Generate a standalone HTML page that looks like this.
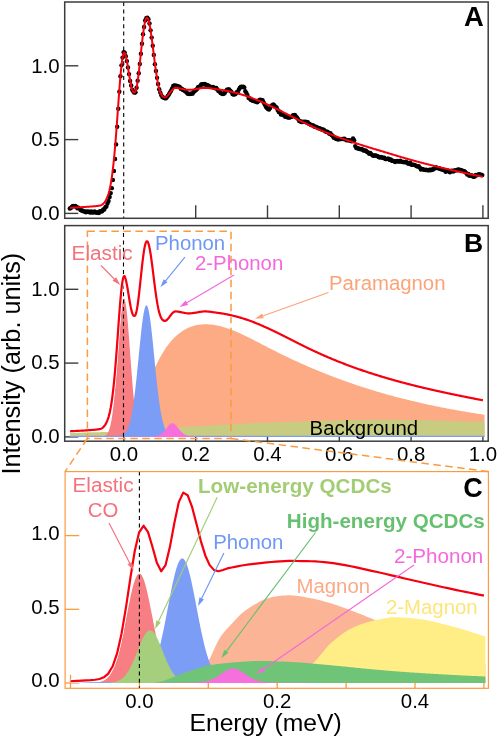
<!DOCTYPE html>
<html lang="en"><head><meta charset="utf-8"><title>Figure</title>
<style>html,body{margin:0;padding:0;background:#fff}body{width:498px;height:739px;overflow:hidden}svg{display:block}</style>
</head><body>
<svg width="498" height="739" viewBox="0 0 498 739" font-family="'Liberation Sans', sans-serif">
<rect width="498" height="739" fill="#fff"/>
<g id="panelA">
<line x1="195.7" y1="218.3" x2="195.7" y2="205.3" stroke="#3c3c3c" stroke-width="1.4"/><line x1="267.5" y1="218.3" x2="267.5" y2="205.3" stroke="#3c3c3c" stroke-width="1.4"/><line x1="339.3" y1="218.3" x2="339.3" y2="205.3" stroke="#3c3c3c" stroke-width="1.4"/><line x1="411.1" y1="218.3" x2="411.1" y2="205.3" stroke="#3c3c3c" stroke-width="1.4"/><line x1="482.9" y1="218.3" x2="482.9" y2="205.3" stroke="#3c3c3c" stroke-width="1.4"/><line x1="64.7" y1="213.4" x2="78.3" y2="213.4" stroke="#3c3c3c" stroke-width="1.4"/><line x1="64.7" y1="139.6" x2="78.3" y2="139.6" stroke="#3c3c3c" stroke-width="1.4"/><line x1="64.7" y1="65.8" x2="78.3" y2="65.8" stroke="#3c3c3c" stroke-width="1.4"/>
<line x1="123.7" y1="2" x2="123.7" y2="218.3" stroke="#000" stroke-width="1.1" stroke-dasharray="4 3.4"/>
<g fill="#000"><circle cx="69.8" cy="208.53" r="2.2"/><circle cx="70.88" cy="208.02" r="2.2"/><circle cx="71.95" cy="206.71" r="2.2"/><circle cx="73.03" cy="205.86" r="2.2"/><circle cx="74.11" cy="206.15" r="2.2"/><circle cx="75.18" cy="206.06" r="2.2"/><circle cx="76.26" cy="206.68" r="2.2"/><circle cx="77.34" cy="208.2" r="2.2"/><circle cx="78.41" cy="207.64" r="2.2"/><circle cx="79.49" cy="208.61" r="2.2"/><circle cx="80.57" cy="210" r="2.2"/><circle cx="81.65" cy="210.55" r="2.2"/><circle cx="82.72" cy="210.78" r="2.2"/><circle cx="83.8" cy="211.38" r="2.2"/><circle cx="84.88" cy="211.56" r="2.2"/><circle cx="85.95" cy="212.24" r="2.2"/><circle cx="87.03" cy="211.46" r="2.2"/><circle cx="88.11" cy="211.74" r="2.2"/><circle cx="89.18" cy="211.76" r="2.2"/><circle cx="90.26" cy="212.67" r="2.2"/><circle cx="91.34" cy="211.4" r="2.2"/><circle cx="92.42" cy="212.2" r="2.2"/><circle cx="93.49" cy="212.54" r="2.2"/><circle cx="94.57" cy="211.51" r="2.2"/><circle cx="95.65" cy="212.37" r="2.2"/><circle cx="96.72" cy="212.87" r="2.2"/><circle cx="97.8" cy="212.27" r="2.2"/><circle cx="98.88" cy="212.94" r="2.2"/><circle cx="99.95" cy="211.26" r="2.2"/><circle cx="101.03" cy="211.61" r="2.2"/><circle cx="102.11" cy="211.19" r="2.2"/><circle cx="103.19" cy="209.52" r="2.2"/><circle cx="104.26" cy="209.59" r="2.2"/><circle cx="105.34" cy="207.17" r="2.2"/><circle cx="106.42" cy="206.49" r="2.2"/><circle cx="107.49" cy="203.53" r="2.2"/><circle cx="108.57" cy="201" r="2.2"/><circle cx="109.65" cy="197.03" r="2.2"/><circle cx="110.72" cy="193.08" r="2.2"/><circle cx="111.8" cy="188.17" r="2.2"/><circle cx="112.88" cy="179.99" r="2.2"/><circle cx="113.96" cy="170.93" r="2.2"/><circle cx="115.03" cy="159.02" r="2.2"/><circle cx="116.11" cy="144.38" r="2.2"/><circle cx="117.19" cy="126.77" r="2.2"/><circle cx="118.26" cy="108.77" r="2.2"/><circle cx="119.34" cy="91.69" r="2.2"/><circle cx="120.42" cy="76.31" r="2.2"/><circle cx="121.49" cy="65.34" r="2.2"/><circle cx="122.57" cy="57.58" r="2.2"/><circle cx="123.65" cy="52.27" r="2.2"/><circle cx="124.73" cy="52.77" r="2.2"/><circle cx="125.8" cy="56.13" r="2.2"/><circle cx="126.88" cy="61.09" r="2.2"/><circle cx="127.96" cy="67.41" r="2.2"/><circle cx="129.03" cy="74.12" r="2.2"/><circle cx="130.11" cy="80.99" r="2.2"/><circle cx="131.19" cy="85.56" r="2.2"/><circle cx="132.26" cy="89.79" r="2.2"/><circle cx="133.34" cy="91.45" r="2.2"/><circle cx="134.42" cy="92.63" r="2.2"/><circle cx="135.5" cy="92.19" r="2.2"/><circle cx="136.57" cy="87.68" r="2.2"/><circle cx="137.65" cy="80.64" r="2.2"/><circle cx="138.73" cy="73.31" r="2.2"/><circle cx="139.8" cy="63.91" r="2.2"/><circle cx="140.88" cy="53.82" r="2.2"/><circle cx="141.96" cy="43.7" r="2.2"/><circle cx="143.03" cy="34.23" r="2.2"/><circle cx="144.11" cy="27.07" r="2.2"/><circle cx="145.19" cy="20.45" r="2.2"/><circle cx="146.27" cy="18.3" r="2.2"/><circle cx="147.34" cy="17.81" r="2.2"/><circle cx="148.42" cy="19.28" r="2.2"/><circle cx="149.5" cy="23.5" r="2.2"/><circle cx="150.57" cy="30.36" r="2.2"/><circle cx="151.65" cy="37.61" r="2.2"/><circle cx="152.73" cy="45.8" r="2.2"/><circle cx="153.8" cy="54.91" r="2.2"/><circle cx="154.88" cy="64.13" r="2.2"/><circle cx="155.96" cy="70.97" r="2.2"/><circle cx="157.04" cy="77.86" r="2.2"/><circle cx="158.11" cy="83.94" r="2.2"/><circle cx="159.19" cy="89.2" r="2.2"/><circle cx="160.27" cy="92.4" r="2.2"/><circle cx="161.34" cy="95.26" r="2.2"/><circle cx="162.42" cy="97.05" r="2.2"/><circle cx="163.5" cy="97.58" r="2.2"/><circle cx="164.57" cy="98.1" r="2.2"/><circle cx="165.65" cy="98.42" r="2.2"/><circle cx="166.73" cy="97.57" r="2.2"/><circle cx="167.81" cy="96.02" r="2.2"/><circle cx="168.88" cy="94.46" r="2.2"/><circle cx="169.96" cy="92.46" r="2.2"/><circle cx="171.04" cy="90.7" r="2.2"/><circle cx="172.11" cy="88.57" r="2.2"/><circle cx="173.19" cy="86.01" r="2.2"/><circle cx="174.27" cy="85.55" r="2.2"/><circle cx="175.34" cy="85.6" r="2.2"/><circle cx="176.42" cy="85.75" r="2.2"/><circle cx="177.5" cy="86.3" r="2.2"/><circle cx="178.58" cy="86.34" r="2.2"/><circle cx="179.65" cy="87.07" r="2.2"/><circle cx="180.73" cy="88.7" r="2.2"/><circle cx="181.81" cy="88.69" r="2.2"/><circle cx="182.88" cy="89.97" r="2.2"/><circle cx="183.96" cy="89.87" r="2.2"/><circle cx="185.04" cy="91.31" r="2.2"/><circle cx="186.11" cy="91.52" r="2.2"/><circle cx="187.19" cy="93.31" r="2.2"/><circle cx="188.27" cy="93.88" r="2.2"/><circle cx="189.35" cy="94.01" r="2.2"/><circle cx="190.42" cy="93.76" r="2.2"/><circle cx="191.5" cy="93.62" r="2.2"/><circle cx="192.58" cy="93.67" r="2.2"/><circle cx="193.65" cy="92.04" r="2.2"/><circle cx="194.73" cy="90.98" r="2.2"/><circle cx="195.81" cy="90.07" r="2.2"/><circle cx="196.88" cy="89.18" r="2.2"/><circle cx="197.96" cy="87.1" r="2.2"/><circle cx="199.04" cy="86.95" r="2.2"/><circle cx="200.12" cy="86.1" r="2.2"/><circle cx="201.19" cy="84.57" r="2.2"/><circle cx="202.27" cy="84.24" r="2.2"/><circle cx="203.35" cy="84.19" r="2.2"/><circle cx="204.42" cy="83.96" r="2.2"/><circle cx="205.5" cy="84.43" r="2.2"/><circle cx="206.58" cy="84.94" r="2.2"/><circle cx="207.65" cy="85.19" r="2.2"/><circle cx="208.73" cy="85.96" r="2.2"/><circle cx="209.81" cy="86.72" r="2.2"/><circle cx="210.89" cy="86.83" r="2.2"/><circle cx="211.96" cy="87.1" r="2.2"/><circle cx="213.04" cy="86.97" r="2.2"/><circle cx="214.12" cy="87.74" r="2.2"/><circle cx="215.19" cy="88.3" r="2.2"/><circle cx="216.27" cy="87.9" r="2.2"/><circle cx="217.35" cy="89.51" r="2.2"/><circle cx="218.42" cy="91.07" r="2.2"/><circle cx="219.5" cy="91.41" r="2.2"/><circle cx="220.58" cy="93.12" r="2.2"/><circle cx="221.66" cy="93.42" r="2.2"/><circle cx="222.73" cy="94.08" r="2.2"/><circle cx="223.81" cy="93.75" r="2.2"/><circle cx="224.89" cy="92.69" r="2.2"/><circle cx="225.96" cy="91.07" r="2.2"/><circle cx="227.04" cy="89.82" r="2.2"/><circle cx="228.12" cy="89.41" r="2.2"/><circle cx="229.19" cy="89.34" r="2.2"/><circle cx="230.27" cy="90.91" r="2.2"/><circle cx="231.35" cy="91.71" r="2.2"/><circle cx="232.43" cy="94.03" r="2.2"/><circle cx="233.5" cy="94.46" r="2.2"/><circle cx="234.58" cy="94.4" r="2.2"/><circle cx="235.66" cy="93.7" r="2.2"/><circle cx="236.73" cy="92.27" r="2.2"/><circle cx="237.81" cy="92.2" r="2.2"/><circle cx="238.89" cy="89.52" r="2.2"/><circle cx="239.96" cy="87.78" r="2.2"/><circle cx="241.04" cy="86.7" r="2.2"/><circle cx="242.12" cy="86.98" r="2.2"/><circle cx="243.2" cy="86.69" r="2.2"/><circle cx="244.27" cy="87.48" r="2.2"/><circle cx="245.35" cy="91.18" r="2.2"/><circle cx="246.43" cy="92.88" r="2.2"/><circle cx="247.5" cy="95.1" r="2.2"/><circle cx="248.58" cy="97.91" r="2.2"/><circle cx="249.66" cy="98.43" r="2.2"/><circle cx="250.73" cy="99.77" r="2.2"/><circle cx="251.81" cy="100.23" r="2.2"/><circle cx="252.89" cy="100.79" r="2.2"/><circle cx="253.97" cy="100.86" r="2.2"/><circle cx="255.04" cy="101.47" r="2.2"/><circle cx="256.12" cy="101.45" r="2.2"/><circle cx="257.2" cy="102.25" r="2.2"/><circle cx="258.27" cy="101.3" r="2.2"/><circle cx="259.35" cy="100.04" r="2.2"/><circle cx="260.43" cy="99.59" r="2.2"/><circle cx="261.5" cy="100.31" r="2.2"/><circle cx="262.58" cy="100.25" r="2.2"/><circle cx="263.66" cy="102.56" r="2.2"/><circle cx="264.74" cy="104.46" r="2.2"/><circle cx="265.81" cy="106.74" r="2.2"/><circle cx="266.89" cy="107.99" r="2.2"/><circle cx="267.97" cy="109.07" r="2.2"/><circle cx="269.04" cy="109.45" r="2.2"/><circle cx="270.12" cy="108.1" r="2.2"/><circle cx="271.2" cy="105.87" r="2.2"/><circle cx="272.27" cy="105.28" r="2.2"/><circle cx="273.35" cy="104.36" r="2.2"/><circle cx="274.43" cy="105.38" r="2.2"/><circle cx="275.51" cy="106.94" r="2.2"/><circle cx="276.58" cy="107.54" r="2.2"/><circle cx="277.66" cy="109.94" r="2.2"/><circle cx="278.74" cy="112.07" r="2.2"/><circle cx="279.81" cy="111.7" r="2.2"/><circle cx="280.89" cy="114.62" r="2.2"/><circle cx="281.97" cy="114.24" r="2.2"/><circle cx="283.04" cy="114.62" r="2.2"/><circle cx="284.12" cy="115.44" r="2.2"/><circle cx="285.2" cy="116.68" r="2.2"/><circle cx="286.28" cy="115.88" r="2.2"/><circle cx="287.35" cy="117.33" r="2.2"/><circle cx="288.43" cy="117.61" r="2.2"/><circle cx="289.51" cy="117.46" r="2.2"/><circle cx="290.58" cy="117.11" r="2.2"/><circle cx="291.66" cy="116.71" r="2.2"/><circle cx="292.74" cy="115.46" r="2.2"/><circle cx="293.81" cy="115.16" r="2.2"/><circle cx="294.89" cy="114.94" r="2.2"/><circle cx="295.97" cy="116.35" r="2.2"/><circle cx="297.05" cy="117.66" r="2.2"/><circle cx="298.12" cy="119.1" r="2.2"/><circle cx="299.2" cy="120.98" r="2.2"/><circle cx="300.28" cy="121.31" r="2.2"/><circle cx="301.35" cy="122" r="2.2"/><circle cx="302.43" cy="122.02" r="2.2"/><circle cx="303.51" cy="121.7" r="2.2"/><circle cx="304.58" cy="121.84" r="2.2"/><circle cx="305.66" cy="121.77" r="2.2"/><circle cx="306.74" cy="122.47" r="2.2"/><circle cx="307.82" cy="122.3" r="2.2"/><circle cx="308.89" cy="123.69" r="2.2"/><circle cx="309.97" cy="124.21" r="2.2"/><circle cx="311.05" cy="125.09" r="2.2"/><circle cx="312.12" cy="125.13" r="2.2"/><circle cx="313.2" cy="125.34" r="2.2"/><circle cx="314.28" cy="126.48" r="2.2"/><circle cx="315.35" cy="126.67" r="2.2"/><circle cx="316.43" cy="126.83" r="2.2"/><circle cx="317.51" cy="127.7" r="2.2"/><circle cx="318.59" cy="128.36" r="2.2"/><circle cx="319.66" cy="128.19" r="2.2"/><circle cx="320.74" cy="129.06" r="2.2"/><circle cx="321.82" cy="129.41" r="2.2"/><circle cx="322.89" cy="129.54" r="2.2"/><circle cx="323.97" cy="130.02" r="2.2"/><circle cx="325.05" cy="131.16" r="2.2"/><circle cx="326.12" cy="131.7" r="2.2"/><circle cx="327.2" cy="131.81" r="2.2"/><circle cx="328.28" cy="132.45" r="2.2"/><circle cx="329.36" cy="133.81" r="2.2"/><circle cx="330.43" cy="133.3" r="2.2"/><circle cx="331.51" cy="134.95" r="2.2"/><circle cx="332.59" cy="135.77" r="2.2"/><circle cx="333.66" cy="137.67" r="2.2"/><circle cx="334.74" cy="137.41" r="2.2"/><circle cx="335.82" cy="138.73" r="2.2"/><circle cx="336.89" cy="138.81" r="2.2"/><circle cx="337.97" cy="139.56" r="2.2"/><circle cx="339.05" cy="139.09" r="2.2"/><circle cx="340.13" cy="139.14" r="2.2"/><circle cx="341.2" cy="139.12" r="2.2"/><circle cx="342.28" cy="138.85" r="2.2"/><circle cx="343.36" cy="139.06" r="2.2"/><circle cx="344.43" cy="138.76" r="2.2"/><circle cx="345.51" cy="139.61" r="2.2"/><circle cx="346.59" cy="140.19" r="2.2"/><circle cx="347.66" cy="140.17" r="2.2"/><circle cx="348.74" cy="140.28" r="2.2"/><circle cx="349.82" cy="140.41" r="2.2"/><circle cx="350.9" cy="141" r="2.2"/><circle cx="351.97" cy="141.32" r="2.2"/><circle cx="353.05" cy="138.43" r="2.2"/><circle cx="354.13" cy="140.25" r="2.2"/><circle cx="355.2" cy="146.12" r="2.2"/><circle cx="356.28" cy="147.96" r="2.2"/><circle cx="357.36" cy="147.98" r="2.2"/><circle cx="358.43" cy="148.72" r="2.2"/><circle cx="359.51" cy="148.59" r="2.2"/><circle cx="360.59" cy="149.25" r="2.2"/><circle cx="361.67" cy="149" r="2.2"/><circle cx="362.74" cy="149.76" r="2.2"/><circle cx="363.82" cy="150.67" r="2.2"/><circle cx="364.9" cy="150.45" r="2.2"/><circle cx="365.97" cy="150.74" r="2.2"/><circle cx="367.05" cy="151.9" r="2.2"/><circle cx="368.13" cy="152.38" r="2.2"/><circle cx="369.2" cy="153.77" r="2.2"/><circle cx="370.28" cy="152.92" r="2.2"/><circle cx="371.36" cy="154.14" r="2.2"/><circle cx="372.44" cy="155.36" r="2.2"/><circle cx="373.51" cy="155.69" r="2.2"/><circle cx="374.59" cy="155.43" r="2.2"/><circle cx="375.67" cy="155.35" r="2.2"/><circle cx="376.74" cy="156.06" r="2.2"/><circle cx="377.82" cy="156.15" r="2.2"/><circle cx="378.9" cy="157.17" r="2.2"/><circle cx="379.97" cy="157.61" r="2.2"/><circle cx="381.05" cy="156.95" r="2.2"/><circle cx="382.13" cy="157.45" r="2.2"/><circle cx="383.21" cy="158.01" r="2.2"/><circle cx="384.28" cy="157.75" r="2.2"/><circle cx="385.36" cy="159.05" r="2.2"/><circle cx="386.44" cy="159.14" r="2.2"/><circle cx="387.51" cy="158.81" r="2.2"/><circle cx="388.59" cy="158.76" r="2.2"/><circle cx="389.67" cy="159.88" r="2.2"/><circle cx="390.74" cy="159.45" r="2.2"/><circle cx="391.82" cy="160.77" r="2.2"/><circle cx="392.9" cy="160.66" r="2.2"/><circle cx="393.98" cy="161.16" r="2.2"/><circle cx="395.05" cy="161.96" r="2.2"/><circle cx="396.13" cy="161.27" r="2.2"/><circle cx="397.21" cy="161.05" r="2.2"/><circle cx="398.28" cy="161.61" r="2.2"/><circle cx="399.36" cy="161.54" r="2.2"/><circle cx="400.44" cy="160.77" r="2.2"/><circle cx="401.51" cy="161.83" r="2.2"/><circle cx="402.59" cy="161.96" r="2.2"/><circle cx="403.67" cy="161.83" r="2.2"/><circle cx="404.75" cy="162.41" r="2.2"/><circle cx="405.82" cy="161.66" r="2.2"/><circle cx="406.9" cy="162.52" r="2.2"/><circle cx="407.98" cy="163.46" r="2.2"/><circle cx="409.05" cy="163.76" r="2.2"/><circle cx="410.13" cy="162.61" r="2.2"/><circle cx="411.21" cy="164.5" r="2.2"/><circle cx="412.28" cy="164.89" r="2.2"/><circle cx="413.36" cy="164.72" r="2.2"/><circle cx="414.44" cy="164.87" r="2.2"/><circle cx="415.52" cy="165.35" r="2.2"/><circle cx="416.59" cy="166.16" r="2.2"/><circle cx="417.67" cy="166.59" r="2.2"/><circle cx="418.75" cy="166.26" r="2.2"/><circle cx="419.82" cy="167.59" r="2.2"/><circle cx="420.9" cy="169.47" r="2.2"/><circle cx="421.98" cy="168.86" r="2.2"/><circle cx="423.05" cy="169.25" r="2.2"/><circle cx="424.13" cy="169.84" r="2.2"/><circle cx="425.21" cy="169.93" r="2.2"/><circle cx="426.29" cy="169.75" r="2.2"/><circle cx="427.36" cy="170.15" r="2.2"/><circle cx="428.44" cy="170.41" r="2.2"/><circle cx="429.52" cy="169.61" r="2.2"/><circle cx="430.59" cy="170.33" r="2.2"/><circle cx="431.67" cy="169.39" r="2.2"/><circle cx="432.75" cy="169.86" r="2.2"/><circle cx="433.82" cy="168.82" r="2.2"/><circle cx="434.9" cy="168.36" r="2.2"/><circle cx="435.98" cy="167.1" r="2.2"/><circle cx="437.06" cy="168.11" r="2.2"/><circle cx="438.13" cy="168.27" r="2.2"/><circle cx="439.21" cy="168.22" r="2.2"/><circle cx="440.29" cy="168.93" r="2.2"/><circle cx="441.36" cy="169.31" r="2.2"/><circle cx="442.44" cy="169.54" r="2.2"/><circle cx="443.52" cy="170.06" r="2.2"/><circle cx="444.59" cy="170.26" r="2.2"/><circle cx="445.67" cy="171.78" r="2.2"/><circle cx="446.75" cy="170.52" r="2.2"/><circle cx="447.83" cy="170.81" r="2.2"/><circle cx="448.9" cy="171.6" r="2.2"/><circle cx="449.98" cy="172.25" r="2.2"/><circle cx="451.06" cy="170.98" r="2.2"/><circle cx="452.13" cy="170.69" r="2.2"/><circle cx="453.21" cy="171.61" r="2.2"/><circle cx="454.29" cy="170.39" r="2.2"/><circle cx="455.36" cy="170.33" r="2.2"/><circle cx="456.44" cy="170.42" r="2.2"/><circle cx="457.52" cy="169.66" r="2.2"/><circle cx="458.6" cy="169.4" r="2.2"/><circle cx="459.67" cy="170.06" r="2.2"/><circle cx="460.75" cy="169.83" r="2.2"/><circle cx="461.83" cy="170.44" r="2.2"/><circle cx="462.9" cy="170.92" r="2.2"/><circle cx="463.98" cy="171.12" r="2.2"/><circle cx="465.06" cy="171.64" r="2.2"/><circle cx="466.13" cy="172.9" r="2.2"/><circle cx="467.21" cy="174.44" r="2.2"/><circle cx="468.29" cy="173.99" r="2.2"/><circle cx="469.37" cy="175.68" r="2.2"/><circle cx="470.44" cy="175.52" r="2.2"/><circle cx="471.52" cy="175.23" r="2.2"/><circle cx="472.6" cy="176.25" r="2.2"/><circle cx="473.67" cy="176.71" r="2.2"/><circle cx="474.75" cy="176.58" r="2.2"/><circle cx="475.83" cy="175.05" r="2.2"/><circle cx="476.9" cy="175.18" r="2.2"/><circle cx="477.98" cy="174.6" r="2.2"/><circle cx="479.06" cy="174.24" r="2.2"/><circle cx="480.14" cy="174.64" r="2.2"/><circle cx="481.21" cy="174.76" r="2.2"/><circle cx="482.29" cy="175.1" r="2.2"/></g>
<path d="M70.05 207.79 L70.74 207.75 L71.43 207.71 L72.12 207.67 L72.81 207.63 L73.5 207.6 L74.19 207.56 L74.87 207.52 L75.56 207.49 L76.25 207.45 L76.94 207.42 L77.63 207.38 L78.32 207.34 L79.01 207.31 L79.7 207.27 L80.39 207.23 L81.08 207.2 L81.77 207.16 L82.46 207.12 L83.15 207.08 L83.83 207.04 L84.52 207 L85.21 206.95 L85.9 206.91 L86.59 206.86 L87.28 206.81 L87.97 206.76 L88.66 206.71 L89.35 206.66 L90.04 206.61 L90.73 206.56 L91.42 206.51 L92.11 206.46 L92.79 206.41 L93.48 206.35 L94.17 206.29 L94.86 206.23 L95.55 206.16 L96.24 206.09 L96.93 206 L97.62 205.91 L98.31 205.81 L99 205.7 L99.69 205.58 L100.38 205.43 L101.07 205.22 L101.75 204.88 L102.44 204.42 L103.13 203.84 L103.82 203.14 L104.51 202.31 L105.2 201.32 L105.89 200.17 L106.58 198.82 L107.27 197.24 L107.96 195.39 L108.65 193.21 L109.34 190.65 L110.03 187.64 L110.71 184.13 L111.4 180.05 L112.09 175.34 L112.78 169.96 L113.47 163.88 L114.16 157.1 L114.85 149.59 L115.54 141.41 L116.23 132.62 L116.92 123.37 L117.61 113.82 L118.3 104.17 L118.99 94.67 L119.67 85.56 L120.36 77.1 L121.05 69.57 L121.74 63.2 L122.43 58.19 L123.12 54.69 L123.81 52.82 L124.5 52.6 L125.19 53.98 L125.88 56.48 L126.57 59.6 L127.26 63.26 L127.95 67.28 L128.63 71.51 L129.32 75.75 L130.01 79.8 L130.7 83.49 L131.39 86.66 L132.08 89.19 L132.77 91.02 L133.46 92.11 L134.15 92.49 L134.84 92.24 L135.53 91.28 L136.22 89.17 L136.91 85.96 L137.59 81.77 L138.28 76.74 L138.97 71.03 L139.66 64.83 L140.35 58.35 L141.04 51.77 L141.73 45.31 L142.42 39.17 L143.11 33.52 L143.8 28.55 L144.49 24.39 L145.18 21.17 L145.87 18.96 L146.55 17.84 L147.24 17.78 L147.93 18.7 L148.62 20.56 L149.31 23.29 L150 26.82 L150.69 31.02 L151.38 35.77 L152.07 40.94 L152.76 46.37 L153.45 51.93 L154.14 57.49 L154.83 62.91 L155.51 68.09 L156.2 72.94 L156.89 77.39 L157.58 81.38 L158.27 84.89 L158.96 87.9 L159.65 90.42 L160.34 92.48 L161.03 94.09 L161.72 95.32 L162.41 96.2 L163.1 96.79 L163.79 97.15 L164.47 97.34 L165.16 97.38 L165.85 97.17 L166.54 96.73 L167.23 96.1 L167.92 95.34 L168.61 94.49 L169.3 93.58 L169.99 92.65 L170.68 91.74 L171.37 90.87 L172.06 90.08 L172.75 89.37 L173.43 88.78 L174.12 88.34 L174.81 88.05 L175.5 87.94 L176.19 87.96 L176.88 88.01 L177.57 88.08 L178.26 88.18 L178.95 88.29 L179.64 88.41 L180.33 88.55 L181.02 88.69 L181.71 88.84 L182.39 88.99 L183.08 89.14 L183.77 89.28 L184.46 89.42 L185.15 89.54 L185.84 89.65 L186.53 89.74 L187.22 89.81 L187.91 89.85 L188.6 89.86 L189.29 89.85 L189.98 89.82 L190.67 89.78 L191.35 89.73 L192.04 89.66 L192.73 89.59 L193.42 89.5 L194.11 89.41 L194.8 89.31 L195.49 89.2 L196.18 89.09 L196.87 88.96 L197.56 88.83 L198.25 88.7 L198.94 88.57 L199.63 88.45 L200.31 88.33 L201 88.22 L201.69 88.13 L202.38 88.05 L203.07 87.99 L203.76 87.94 L204.45 87.92 L205.14 87.91 L205.83 87.92 L206.52 87.94 L207.21 87.98 L207.9 88.04 L208.59 88.11 L209.27 88.18 L209.96 88.26 L210.65 88.35 L211.34 88.44 L212.03 88.54 L212.72 88.63 L213.41 88.73 L214.1 88.83 L214.79 88.93 L215.48 89.03 L216.17 89.12 L216.86 89.22 L217.55 89.31 L218.23 89.4 L218.92 89.5 L219.61 89.6 L220.3 89.71 L220.99 89.81 L221.68 89.92 L222.37 90.04 L223.06 90.15 L223.75 90.27 L224.44 90.4 L225.13 90.52 L225.82 90.65 L226.51 90.78 L227.19 90.92 L227.88 91.06 L228.57 91.2 L229.26 91.35 L229.95 91.5 L230.64 91.65 L231.33 91.8 L232.02 91.96 L232.71 92.12 L233.4 92.29 L234.09 92.46 L234.78 92.63 L235.47 92.81 L236.15 92.99 L236.84 93.17 L237.53 93.35 L238.22 93.54 L238.91 93.74 L239.6 93.93 L240.29 94.13 L240.98 94.34 L241.67 94.54 L242.36 94.75 L243.05 94.97 L243.74 95.18 L244.43 95.4 L245.11 95.63 L245.8 95.86 L246.49 96.09 L247.18 96.32 L247.87 96.56 L248.56 96.8 L249.25 97.05 L249.94 97.3 L250.63 97.55 L251.32 97.8 L252.01 98.06 L252.7 98.32 L253.39 98.59 L254.07 98.86 L254.76 99.13 L255.45 99.4 L256.14 99.68 L256.83 99.96 L257.52 100.24 L258.21 100.52 L258.9 100.81 L259.59 101.1 L260.28 101.39 L260.97 101.69 L261.66 101.98 L262.35 102.28 L263.03 102.58 L263.72 102.89 L264.41 103.19 L265.1 103.5 L265.79 103.81 L266.48 104.13 L267.17 104.44 L267.86 104.76 L268.55 105.08 L269.24 105.4 L269.93 105.72 L270.62 106.04 L271.31 106.37 L271.99 106.69 L272.68 107.02 L273.37 107.35 L274.06 107.68 L274.75 108.02 L275.44 108.35 L276.13 108.69 L276.82 109.02 L277.51 109.36 L278.2 109.7 L278.89 110.04 L279.58 110.38 L280.27 110.72 L280.96 111.07 L281.64 111.41 L282.33 111.75 L283.02 112.1 L283.71 112.45 L284.4 112.79 L285.09 113.14 L285.78 113.49 L286.47 113.83 L287.16 114.18 L287.85 114.53 L288.54 114.88 L289.23 115.23 L289.92 115.58 L290.6 115.93 L291.29 116.28 L291.98 116.63 L292.67 116.98 L293.36 117.33 L294.05 117.68 L294.74 118.03 L295.43 118.38 L296.12 118.73 L296.81 119.07 L297.5 119.42 L298.19 119.77 L298.88 120.12 L299.56 120.46 L300.25 120.81 L300.94 121.15 L301.63 121.5 L302.32 121.84 L303.01 122.19 L303.7 122.53 L304.39 122.87 L305.08 123.2 L305.77 123.54 L306.46 123.87 L307.15 124.21 L307.84 124.54 L308.52 124.86 L309.21 125.19 L309.9 125.51 L310.59 125.83 L311.28 126.15 L311.97 126.47 L312.66 126.78 L313.35 127.09 L314.04 127.4 L314.73 127.71 L315.42 128.02 L316.11 128.32 L316.8 128.62 L317.48 128.92 L318.17 129.22 L318.86 129.52 L319.55 129.82 L320.24 130.11 L320.93 130.4 L321.62 130.69 L322.31 130.98 L323 131.27 L323.69 131.56 L324.38 131.84 L325.07 132.13 L325.76 132.41 L326.44 132.69 L327.13 132.97 L327.82 133.25 L328.51 133.53 L329.2 133.8 L329.89 134.08 L330.58 134.35 L331.27 134.62 L331.96 134.88 L332.65 135.15 L333.34 135.41 L334.03 135.67 L334.72 135.93 L335.4 136.18 L336.09 136.44 L336.78 136.69 L337.47 136.94 L338.16 137.19 L338.85 137.43 L339.54 137.68 L340.23 137.92 L340.92 138.17 L341.61 138.41 L342.3 138.65 L342.99 138.88 L343.68 139.12 L344.36 139.36 L345.05 139.59 L345.74 139.83 L346.43 140.06 L347.12 140.29 L347.81 140.52 L348.5 140.76 L349.19 140.99 L349.88 141.21 L350.57 141.44 L351.26 141.67 L351.95 141.9 L352.64 142.13 L353.32 142.36 L354.01 142.58 L354.7 142.81 L355.39 143.04 L356.08 143.26 L356.77 143.49 L357.46 143.72 L358.15 143.94 L358.84 144.17 L359.53 144.39 L360.22 144.62 L360.91 144.84 L361.6 145.06 L362.28 145.28 L362.97 145.49 L363.66 145.71 L364.35 145.93 L365.04 146.14 L365.73 146.36 L366.42 146.57 L367.11 146.78 L367.8 147 L368.49 147.21 L369.18 147.42 L369.87 147.63 L370.56 147.84 L371.24 148.05 L371.93 148.26 L372.62 148.47 L373.31 148.68 L374 148.88 L374.69 149.09 L375.38 149.3 L376.07 149.51 L376.76 149.71 L377.45 149.92 L378.14 150.13 L378.83 150.33 L379.52 150.54 L380.2 150.75 L380.89 150.95 L381.58 151.16 L382.27 151.37 L382.96 151.57 L383.65 151.78 L384.34 151.99 L385.03 152.2 L385.72 152.4 L386.41 152.61 L387.1 152.82 L387.79 153.03 L388.48 153.24 L389.16 153.44 L389.85 153.65 L390.54 153.86 L391.23 154.07 L391.92 154.28 L392.61 154.48 L393.3 154.69 L393.99 154.9 L394.68 155.1 L395.37 155.31 L396.06 155.52 L396.75 155.72 L397.44 155.93 L398.12 156.13 L398.81 156.34 L399.5 156.54 L400.19 156.75 L400.88 156.95 L401.57 157.15 L402.26 157.35 L402.95 157.56 L403.64 157.76 L404.33 157.96 L405.02 158.16 L405.71 158.36 L406.4 158.56 L407.08 158.75 L407.77 158.95 L408.46 159.15 L409.15 159.34 L409.84 159.54 L410.53 159.73 L411.22 159.92 L411.91 160.12 L412.6 160.31 L413.29 160.5 L413.98 160.69 L414.67 160.88 L415.36 161.06 L416.04 161.25 L416.73 161.43 L417.42 161.62 L418.11 161.8 L418.8 161.98 L419.49 162.17 L420.18 162.35 L420.87 162.53 L421.56 162.71 L422.25 162.89 L422.94 163.06 L423.63 163.24 L424.32 163.42 L425 163.6 L425.69 163.77 L426.38 163.95 L427.07 164.13 L427.76 164.3 L428.45 164.48 L429.14 164.65 L429.83 164.82 L430.52 165 L431.21 165.17 L431.9 165.34 L432.59 165.51 L433.28 165.68 L433.96 165.85 L434.65 166.02 L435.34 166.19 L436.03 166.36 L436.72 166.53 L437.41 166.69 L438.1 166.86 L438.79 167.03 L439.48 167.19 L440.17 167.36 L440.86 167.52 L441.55 167.69 L442.24 167.85 L442.92 168.01 L443.61 168.18 L444.3 168.34 L444.99 168.5 L445.68 168.66 L446.37 168.82 L447.06 168.98 L447.75 169.14 L448.44 169.3 L449.13 169.46 L449.82 169.62 L450.51 169.78 L451.2 169.94 L451.88 170.1 L452.57 170.25 L453.26 170.41 L453.95 170.57 L454.64 170.73 L455.33 170.89 L456.02 171.05 L456.71 171.2 L457.4 171.36 L458.09 171.52 L458.78 171.67 L459.47 171.83 L460.16 171.98 L460.84 172.14 L461.53 172.29 L462.22 172.45 L462.91 172.6 L463.6 172.76 L464.29 172.91 L464.98 173.06 L465.67 173.21 L466.36 173.37 L467.05 173.52 L467.74 173.67 L468.43 173.82 L469.12 173.97 L469.8 174.12 L470.49 174.26 L471.18 174.41 L471.87 174.56 L472.56 174.71 L473.25 174.85 L473.94 175 L474.63 175.14 L475.32 175.28 L476.01 175.43 L476.7 175.57 L477.39 175.71 L478.08 175.85 L478.76 175.99 L479.45 176.13 L480.14 176.27 L480.83 176.4 L481.52 176.54 L482.21 176.67 L482.9 176.81" fill="none" stroke="#f5000f" stroke-width="2.0" stroke-linejoin="round"/>
<rect x="64.7" y="2" width="423.5" height="216.3" fill="none" stroke="#3c3c3c" stroke-width="1.5"/>
<text x="59.6" y="220.1" font-size="20.4" text-anchor="end" fill="#000">0.0</text><text x="59.6" y="146.3" font-size="20.4" text-anchor="end" fill="#000">0.5</text><text x="59.6" y="72.5" font-size="20.4" text-anchor="end" fill="#000">1.0</text>
<text x="464" y="25.7" font-size="27.4" fill="#000" text-anchor="start" font-weight="bold">A</text>
</g>
<g id="panelB">
<line x1="123.9" y1="441.2" x2="123.9" y2="428.2" stroke="#3c3c3c" stroke-width="1.4"/><line x1="195.7" y1="441.2" x2="195.7" y2="428.2" stroke="#3c3c3c" stroke-width="1.4"/><line x1="267.5" y1="441.2" x2="267.5" y2="428.2" stroke="#3c3c3c" stroke-width="1.4"/><line x1="339.3" y1="441.2" x2="339.3" y2="428.2" stroke="#3c3c3c" stroke-width="1.4"/><line x1="411.1" y1="441.2" x2="411.1" y2="428.2" stroke="#3c3c3c" stroke-width="1.4"/><line x1="482.9" y1="441.2" x2="482.9" y2="428.2" stroke="#3c3c3c" stroke-width="1.4"/><line x1="64.7" y1="436.9" x2="78.3" y2="436.9" stroke="#3c3c3c" stroke-width="1.4"/><line x1="64.7" y1="363.1" x2="78.3" y2="363.1" stroke="#3c3c3c" stroke-width="1.4"/><line x1="64.7" y1="289.3" x2="78.3" y2="289.3" stroke="#3c3c3c" stroke-width="1.4"/>
<path d="M70.05 436.9 L70.05 436.23 L71.09 436.23 L72.13 436.23 L73.17 436.23 L74.21 436.23 L75.24 436.23 L76.28 436.23 L77.32 436.23 L78.36 436.23 L79.4 436.23 L80.44 436.23 L81.48 436.23 L82.52 436.23 L83.55 436.23 L84.59 436.23 L85.63 436.23 L86.67 436.23 L87.71 436.23 L88.75 436.23 L89.79 436.23 L90.83 436.23 L91.86 436.23 L92.9 436.23 L93.94 436.23 L94.98 436.23 L96.02 436.22 L97.06 436.16 L98.1 436.07 L99.14 435.94 L100.17 435.78 L101.21 435.59 L102.25 435.37 L103.29 435.12 L104.33 434.86 L105.37 434.57 L106.41 434.27 L107.45 433.95 L108.48 433.62 L109.52 433.28 L110.56 432.9 L111.6 432.42 L112.64 431.86 L113.68 431.21 L114.72 430.49 L115.76 429.69 L116.79 428.83 L117.83 427.91 L118.87 426.92 L119.91 425.88 L120.95 424.79 L121.99 423.66 L123.03 422.49 L124.07 421.27 L125.1 419.85 L126.14 418.16 L127.18 416.25 L128.22 414.17 L129.26 411.97 L130.3 409.69 L131.34 407.39 L132.38 405.1 L133.41 402.87 L134.45 400.76 L135.49 398.81 L136.53 396.91 L137.57 395.03 L138.61 393.17 L139.65 391.33 L140.69 389.51 L141.72 387.73 L142.76 385.97 L143.8 384.25 L144.84 382.57 L145.88 380.94 L146.92 379.4 L147.96 377.94 L149 376.52 L150.03 375.13 L151.07 373.72 L152.11 372.27 L153.15 370.74 L154.19 369.11 L155.23 367.21 L156.27 364.98 L157.31 362.83 L158.34 360.76 L159.38 358.77 L160.42 356.85 L161.46 355.01 L162.5 353.24 L163.54 351.54 L164.58 349.91 L165.62 348.35 L166.65 346.85 L167.69 345.42 L168.73 344.05 L169.77 342.74 L170.81 341.49 L171.85 340.3 L172.89 339.17 L173.93 338.09 L174.96 337.06 L176 336.08 L177.04 335.16 L178.08 334.28 L179.12 333.45 L180.16 332.66 L181.2 331.92 L182.24 331.21 L183.27 330.55 L184.31 329.93 L185.35 329.34 L186.39 328.79 L187.43 328.27 L188.47 327.79 L189.51 327.35 L190.55 326.93 L191.58 326.55 L192.62 326.2 L193.66 325.89 L194.7 325.6 L195.74 325.34 L196.78 325.12 L197.82 324.92 L198.86 324.75 L199.9 324.6 L200.93 324.48 L201.97 324.39 L203.01 324.32 L204.05 324.28 L205.09 324.26 L206.13 324.26 L207.17 324.29 L208.21 324.34 L209.24 324.4 L210.28 324.49 L211.32 324.6 L212.36 324.72 L213.4 324.86 L214.44 325.02 L215.48 325.2 L216.52 325.39 L217.55 325.6 L218.59 325.83 L219.63 326.07 L220.67 326.33 L221.71 326.6 L222.75 326.88 L223.79 327.18 L224.83 327.49 L225.86 327.82 L226.9 328.15 L227.94 328.5 L228.98 328.87 L230.02 329.24 L231.06 329.62 L232.1 330.02 L233.14 330.42 L234.17 330.84 L235.21 331.27 L236.25 331.7 L237.29 332.14 L238.33 332.6 L239.37 333.06 L240.41 333.52 L241.45 334 L242.48 334.48 L243.52 334.97 L244.56 335.46 L245.6 335.96 L246.64 336.47 L247.68 336.98 L248.72 337.49 L249.76 338.01 L250.79 338.54 L251.83 339.07 L252.87 339.6 L253.91 340.13 L254.95 340.66 L255.99 341.2 L257.03 341.74 L258.07 342.28 L259.1 342.82 L260.14 343.36 L261.18 343.9 L262.22 344.44 L263.26 344.98 L264.3 345.52 L265.34 346.06 L266.38 346.59 L267.41 347.13 L268.45 347.66 L269.49 348.19 L270.53 348.72 L271.57 349.25 L272.61 349.78 L273.65 350.3 L274.69 350.82 L275.72 351.34 L276.76 351.86 L277.8 352.38 L278.84 352.9 L279.88 353.41 L280.92 353.92 L281.96 354.43 L283 354.94 L284.03 355.44 L285.07 355.95 L286.11 356.45 L287.15 356.95 L288.19 357.44 L289.23 357.94 L290.27 358.43 L291.31 358.92 L292.34 359.41 L293.38 359.89 L294.42 360.38 L295.46 360.86 L296.5 361.34 L297.54 361.81 L298.58 362.29 L299.62 362.76 L300.65 363.22 L301.69 363.69 L302.73 364.15 L303.77 364.62 L304.81 365.08 L305.85 365.53 L306.89 365.99 L307.93 366.44 L308.96 366.89 L310 367.34 L311.04 367.78 L312.08 368.22 L313.12 368.66 L314.16 369.1 L315.2 369.54 L316.24 369.97 L317.28 370.4 L318.31 370.83 L319.35 371.25 L320.39 371.68 L321.43 372.1 L322.47 372.52 L323.51 372.94 L324.55 373.35 L325.59 373.76 L326.62 374.18 L327.66 374.58 L328.7 374.99 L329.74 375.39 L330.78 375.79 L331.82 376.19 L332.86 376.59 L333.9 376.99 L334.93 377.38 L335.97 377.77 L337.01 378.16 L338.05 378.54 L339.09 378.93 L340.13 379.31 L341.17 379.69 L342.21 380.07 L343.24 380.44 L344.28 380.82 L345.32 381.19 L346.36 381.56 L347.4 381.92 L348.44 382.29 L349.48 382.65 L350.52 383.01 L351.55 383.37 L352.59 383.73 L353.63 384.08 L354.67 384.44 L355.71 384.79 L356.75 385.13 L357.79 385.48 L358.83 385.83 L359.86 386.17 L360.9 386.51 L361.94 386.85 L362.98 387.18 L364.02 387.52 L365.06 387.85 L366.1 388.18 L367.14 388.51 L368.17 388.84 L369.21 389.16 L370.25 389.48 L371.29 389.8 L372.33 390.12 L373.37 390.44 L374.41 390.75 L375.45 391.07 L376.48 391.38 L377.52 391.69 L378.56 391.99 L379.6 392.3 L380.64 392.6 L381.68 392.91 L382.72 393.21 L383.76 393.5 L384.79 393.8 L385.83 394.09 L386.87 394.39 L387.91 394.68 L388.95 394.97 L389.99 395.25 L391.03 395.54 L392.07 395.82 L393.1 396.1 L394.14 396.38 L395.18 396.66 L396.22 396.94 L397.26 397.21 L398.3 397.49 L399.34 397.76 L400.38 398.03 L401.41 398.29 L402.45 398.56 L403.49 398.82 L404.53 399.09 L405.57 399.35 L406.61 399.61 L407.65 399.86 L408.69 400.12 L409.72 400.37 L410.76 400.62 L411.8 400.88 L412.84 401.12 L413.88 401.37 L414.92 401.62 L415.96 401.86 L417 402.1 L418.03 402.34 L419.07 402.58 L420.11 402.82 L421.15 403.06 L422.19 403.29 L423.23 403.52 L424.27 403.76 L425.31 403.99 L426.34 404.21 L427.38 404.44 L428.42 404.67 L429.46 404.89 L430.5 405.11 L431.54 405.33 L432.58 405.55 L433.62 405.77 L434.65 405.98 L435.69 406.2 L436.73 406.41 L437.77 406.62 L438.81 406.83 L439.85 407.04 L440.89 407.25 L441.93 407.45 L442.97 407.66 L444 407.86 L445.04 408.06 L446.08 408.26 L447.12 408.46 L448.16 408.66 L449.2 408.85 L450.24 409.05 L451.28 409.24 L452.31 409.43 L453.35 409.62 L454.39 409.81 L455.43 410 L456.47 410.18 L457.51 410.37 L458.55 410.55 L459.59 410.73 L460.62 410.91 L461.66 411.09 L462.7 411.27 L463.74 411.45 L464.78 411.62 L465.82 411.8 L466.86 411.97 L467.9 412.14 L468.93 412.31 L469.97 412.48 L471.01 412.65 L472.05 412.81 L473.09 412.98 L474.13 413.14 L475.17 413.31 L476.21 413.47 L477.24 413.63 L478.28 413.79 L479.32 413.94 L480.36 414.1 L481.4 414.26 L482.44 414.41 L483.48 414.56 L484.52 414.72 L484.52 436.9 Z" fill="#fcab85"/>
<path d="M70.05 436.9 L70.05 432.46 L71.09 432.45 L72.13 432.45 L73.17 432.44 L74.21 432.44 L75.24 432.43 L76.28 432.42 L77.32 432.41 L78.36 432.41 L79.4 432.4 L80.44 432.39 L81.48 432.38 L82.52 432.37 L83.55 432.36 L84.59 432.35 L85.63 432.33 L86.67 432.32 L87.71 432.31 L88.75 432.3 L89.79 432.28 L90.83 432.27 L91.86 432.25 L92.9 432.24 L93.94 432.23 L94.98 432.21 L96.02 432.19 L97.06 432.18 L98.1 432.16 L99.14 432.15 L100.17 432.13 L101.21 432.11 L102.25 432.09 L103.29 432.08 L104.33 432.06 L105.37 432.04 L106.41 432.02 L107.45 432 L108.48 431.97 L109.52 431.94 L110.56 431.91 L111.6 431.87 L112.64 431.83 L113.68 431.79 L114.72 431.75 L115.76 431.7 L116.79 431.65 L117.83 431.6 L118.87 431.55 L119.91 431.5 L120.95 431.45 L121.99 431.39 L123.03 431.34 L124.07 431.28 L125.1 431.22 L126.14 431.16 L127.18 431.1 L128.22 431.03 L129.26 430.95 L130.3 430.88 L131.34 430.8 L132.38 430.71 L133.41 430.63 L134.45 430.54 L135.49 430.45 L136.53 430.36 L137.57 430.26 L138.61 430.17 L139.65 430.07 L140.69 429.98 L141.72 429.88 L142.76 429.78 L143.8 429.68 L144.84 429.59 L145.88 429.49 L146.92 429.39 L147.96 429.3 L149 429.2 L150.03 429.11 L151.07 429.02 L152.11 428.93 L153.15 428.84 L154.19 428.75 L155.23 428.67 L156.27 428.59 L157.31 428.51 L158.34 428.44 L159.38 428.37 L160.42 428.3 L161.46 428.23 L162.5 428.17 L163.54 428.11 L164.58 428.04 L165.62 427.98 L166.65 427.92 L167.69 427.87 L168.73 427.81 L169.77 427.75 L170.81 427.7 L171.85 427.64 L172.89 427.59 L173.93 427.53 L174.96 427.48 L176 427.43 L177.04 427.37 L178.08 427.32 L179.12 427.27 L180.16 427.22 L181.2 427.17 L182.24 427.11 L183.27 427.06 L184.31 427.01 L185.35 426.96 L186.39 426.91 L187.43 426.85 L188.47 426.8 L189.51 426.75 L190.55 426.7 L191.58 426.64 L192.62 426.59 L193.66 426.53 L194.7 426.48 L195.74 426.42 L196.78 426.36 L197.82 426.3 L198.86 426.24 L199.9 426.18 L200.93 426.12 L201.97 426.06 L203.01 426 L204.05 425.94 L205.09 425.88 L206.13 425.81 L207.17 425.75 L208.21 425.69 L209.24 425.62 L210.28 425.56 L211.32 425.5 L212.36 425.43 L213.4 425.37 L214.44 425.3 L215.48 425.24 L216.52 425.17 L217.55 425.11 L218.59 425.04 L219.63 424.98 L220.67 424.92 L221.71 424.85 L222.75 424.79 L223.79 424.72 L224.83 424.66 L225.86 424.6 L226.9 424.53 L227.94 424.47 L228.98 424.41 L230.02 424.35 L231.06 424.29 L232.1 424.23 L233.14 424.17 L234.17 424.11 L235.21 424.05 L236.25 423.99 L237.29 423.93 L238.33 423.88 L239.37 423.82 L240.41 423.76 L241.45 423.71 L242.48 423.66 L243.52 423.6 L244.56 423.55 L245.6 423.5 L246.64 423.45 L247.68 423.41 L248.72 423.36 L249.76 423.31 L250.79 423.27 L251.83 423.22 L252.87 423.18 L253.91 423.13 L254.95 423.09 L255.99 423.04 L257.03 423 L258.07 422.96 L259.1 422.92 L260.14 422.87 L261.18 422.83 L262.22 422.79 L263.26 422.75 L264.3 422.71 L265.34 422.67 L266.38 422.63 L267.41 422.59 L268.45 422.55 L269.49 422.51 L270.53 422.47 L271.57 422.43 L272.61 422.39 L273.65 422.35 L274.69 422.32 L275.72 422.28 L276.76 422.24 L277.8 422.21 L278.84 422.17 L279.88 422.13 L280.92 422.1 L281.96 422.06 L283 422.03 L284.03 421.99 L285.07 421.96 L286.11 421.93 L287.15 421.89 L288.19 421.86 L289.23 421.82 L290.27 421.79 L291.31 421.76 L292.34 421.73 L293.38 421.7 L294.42 421.66 L295.46 421.63 L296.5 421.6 L297.54 421.57 L298.58 421.54 L299.62 421.51 L300.65 421.48 L301.69 421.45 L302.73 421.42 L303.77 421.39 L304.81 421.36 L305.85 421.33 L306.89 421.3 L307.93 421.27 L308.96 421.24 L310 421.21 L311.04 421.18 L312.08 421.15 L313.12 421.12 L314.16 421.09 L315.2 421.05 L316.24 421.02 L317.28 420.99 L318.31 420.96 L319.35 420.93 L320.39 420.9 L321.43 420.86 L322.47 420.83 L323.51 420.8 L324.55 420.77 L325.59 420.74 L326.62 420.71 L327.66 420.67 L328.7 420.64 L329.74 420.61 L330.78 420.58 L331.82 420.55 L332.86 420.52 L333.9 420.49 L334.93 420.46 L335.97 420.43 L337.01 420.4 L338.05 420.37 L339.09 420.34 L340.13 420.32 L341.17 420.29 L342.21 420.26 L343.24 420.24 L344.28 420.21 L345.32 420.18 L346.36 420.16 L347.4 420.14 L348.44 420.11 L349.48 420.09 L350.52 420.07 L351.55 420.04 L352.59 420.02 L353.63 420 L354.67 419.98 L355.71 419.96 L356.75 419.95 L357.79 419.93 L358.83 419.91 L359.86 419.9 L360.9 419.88 L361.94 419.87 L362.98 419.86 L364.02 419.84 L365.06 419.83 L366.1 419.82 L367.14 419.81 L368.17 419.8 L369.21 419.8 L370.25 419.79 L371.29 419.79 L372.33 419.78 L373.37 419.78 L374.41 419.78 L375.45 419.78 L376.48 419.78 L377.52 419.78 L378.56 419.78 L379.6 419.78 L380.64 419.79 L381.68 419.79 L382.72 419.8 L383.76 419.8 L384.79 419.81 L385.83 419.81 L386.87 419.82 L387.91 419.83 L388.95 419.83 L389.99 419.84 L391.03 419.85 L392.07 419.86 L393.1 419.87 L394.14 419.88 L395.18 419.89 L396.22 419.9 L397.26 419.91 L398.3 419.92 L399.34 419.93 L400.38 419.95 L401.41 419.96 L402.45 419.97 L403.49 419.99 L404.53 420 L405.57 420.01 L406.61 420.03 L407.65 420.04 L408.69 420.06 L409.72 420.07 L410.76 420.09 L411.8 420.1 L412.84 420.12 L413.88 420.13 L414.92 420.15 L415.96 420.16 L417 420.18 L418.03 420.2 L419.07 420.21 L420.11 420.23 L421.15 420.24 L422.19 420.26 L423.23 420.28 L424.27 420.29 L425.31 420.31 L426.34 420.33 L427.38 420.34 L428.42 420.36 L429.46 420.38 L430.5 420.39 L431.54 420.41 L432.58 420.43 L433.62 420.45 L434.65 420.47 L435.69 420.49 L436.73 420.52 L437.77 420.54 L438.81 420.57 L439.85 420.59 L440.89 420.62 L441.93 420.65 L442.97 420.67 L444 420.7 L445.04 420.73 L446.08 420.76 L447.12 420.79 L448.16 420.82 L449.2 420.85 L450.24 420.88 L451.28 420.91 L452.31 420.95 L453.35 420.98 L454.39 421.01 L455.43 421.04 L456.47 421.08 L457.51 421.11 L458.55 421.14 L459.59 421.17 L460.62 421.21 L461.66 421.24 L462.7 421.27 L463.74 421.31 L464.78 421.34 L465.82 421.37 L466.86 421.4 L467.9 421.44 L468.93 421.47 L469.97 421.5 L471.01 421.53 L472.05 421.56 L473.09 421.59 L474.13 421.62 L475.17 421.65 L476.21 421.68 L477.24 421.71 L478.28 421.73 L479.32 421.76 L480.36 421.78 L481.4 421.81 L482.44 421.83 L483.48 421.86 L484.52 421.88 L484.52 436.9 Z" fill="#c8cc80"/>
<path d="M70.05 436.9 L70.05 436.9 L71.09 436.9 L72.13 436.9 L73.17 436.9 L74.21 436.9 L75.24 436.9 L76.28 436.9 L77.32 436.9 L78.36 436.9 L79.4 436.9 L80.44 436.9 L81.48 436.9 L82.52 436.9 L83.55 436.9 L84.59 436.9 L85.63 436.9 L86.67 436.9 L87.71 436.9 L88.75 436.9 L89.79 436.9 L90.83 436.9 L91.86 436.9 L92.9 436.9 L93.94 436.9 L94.98 436.9 L96.02 436.9 L97.06 436.89 L98.1 436.88 L99.14 436.87 L100.17 436.83 L101.21 436.77 L102.25 436.66 L103.29 436.47 L104.33 436.14 L105.37 435.6 L106.41 434.75 L107.45 433.43 L108.48 431.47 L109.52 428.65 L110.56 424.71 L111.6 419.41 L112.64 412.52 L113.68 403.89 L114.72 393.48 L115.76 381.42 L116.79 368.05 L117.83 353.89 L118.87 339.69 L119.91 326.31 L120.95 314.68 L121.99 305.7 L123.03 300.09 L124.07 298.31 L125.1 300.53 L126.14 306.55 L127.18 315.86 L128.22 327.73 L129.26 341.25 L130.3 355.49 L131.34 369.59 L132.38 382.84 L133.41 394.72 L134.45 404.94 L135.49 413.37 L136.53 420.07 L137.57 425.21 L138.61 429.01 L139.65 431.73 L140.69 433.61 L141.72 434.86 L142.76 435.68 L143.8 436.19 L144.84 436.5 L145.88 436.68 L146.92 436.78 L147.96 436.84 L149 436.87 L150.03 436.88 L151.07 436.89 L152.11 436.9 L153.15 436.9 L154.19 436.9 L155.23 436.9 L156.27 436.9 L157.31 436.9 L158.34 436.9 L159.38 436.9 L160.42 436.9 L161.46 436.9 L162.5 436.9 L163.54 436.9 L164.58 436.9 L165.62 436.9 L166.65 436.9 L167.69 436.9 L168.73 436.9 L169.77 436.9 L170.81 436.9 L171.85 436.9 L172.89 436.9 L173.93 436.9 L174.96 436.9 L176 436.9 L177.04 436.9 L178.08 436.9 L179.12 436.9 L180.16 436.9 L181.2 436.9 L182.24 436.9 L183.27 436.9 L184.31 436.9 L185.35 436.9 L186.39 436.9 L187.43 436.9 L188.47 436.9 L189.51 436.9 L190.55 436.9 L191.58 436.9 L192.62 436.9 L193.66 436.9 L194.7 436.9 L195.74 436.9 L196.78 436.9 L197.82 436.9 L198.86 436.9 L199.9 436.9 L200.93 436.9 L201.97 436.9 L203.01 436.9 L204.05 436.9 L205.09 436.9 L206.13 436.9 L207.17 436.9 L208.21 436.9 L209.24 436.9 L210.28 436.9 L211.32 436.9 L212.36 436.9 L213.4 436.9 L214.44 436.9 L215.48 436.9 L216.52 436.9 L217.55 436.9 L218.59 436.9 L219.63 436.9 L220.67 436.9 L221.71 436.9 L222.75 436.9 L223.79 436.9 L224.83 436.9 L225.86 436.9 L226.9 436.9 L227.94 436.9 L228.98 436.9 L230.02 436.9 L231.06 436.9 L232.1 436.9 L233.14 436.9 L234.17 436.9 L235.21 436.9 L236.25 436.9 L237.29 436.9 L238.33 436.9 L239.37 436.9 L240.41 436.9 L241.45 436.9 L242.48 436.9 L243.52 436.9 L244.56 436.9 L245.6 436.9 L246.64 436.9 L247.68 436.9 L248.72 436.9 L249.76 436.9 L250.79 436.9 L251.83 436.9 L252.87 436.9 L253.91 436.9 L254.95 436.9 L255.99 436.9 L257.03 436.9 L258.07 436.9 L259.1 436.9 L260.14 436.9 L261.18 436.9 L262.22 436.9 L263.26 436.9 L264.3 436.9 L265.34 436.9 L266.38 436.9 L267.41 436.9 L268.45 436.9 L269.49 436.9 L270.53 436.9 L271.57 436.9 L272.61 436.9 L273.65 436.9 L274.69 436.9 L275.72 436.9 L276.76 436.9 L277.8 436.9 L278.84 436.9 L279.88 436.9 L280.92 436.9 L281.96 436.9 L283 436.9 L284.03 436.9 L285.07 436.9 L286.11 436.9 L287.15 436.9 L288.19 436.9 L289.23 436.9 L290.27 436.9 L291.31 436.9 L292.34 436.9 L293.38 436.9 L294.42 436.9 L295.46 436.9 L296.5 436.9 L297.54 436.9 L298.58 436.9 L299.62 436.9 L300.65 436.9 L301.69 436.9 L302.73 436.9 L303.77 436.9 L304.81 436.9 L305.85 436.9 L306.89 436.9 L307.93 436.9 L308.96 436.9 L310 436.9 L311.04 436.9 L312.08 436.9 L313.12 436.9 L314.16 436.9 L315.2 436.9 L316.24 436.9 L317.28 436.9 L318.31 436.9 L319.35 436.9 L320.39 436.9 L321.43 436.9 L322.47 436.9 L323.51 436.9 L324.55 436.9 L325.59 436.9 L326.62 436.9 L327.66 436.9 L328.7 436.9 L329.74 436.9 L330.78 436.9 L331.82 436.9 L332.86 436.9 L333.9 436.9 L334.93 436.9 L335.97 436.9 L337.01 436.9 L338.05 436.9 L339.09 436.9 L340.13 436.9 L341.17 436.9 L342.21 436.9 L343.24 436.9 L344.28 436.9 L345.32 436.9 L346.36 436.9 L347.4 436.9 L348.44 436.9 L349.48 436.9 L350.52 436.9 L351.55 436.9 L352.59 436.9 L353.63 436.9 L354.67 436.9 L355.71 436.9 L356.75 436.9 L357.79 436.9 L358.83 436.9 L359.86 436.9 L360.9 436.9 L361.94 436.9 L362.98 436.9 L364.02 436.9 L365.06 436.9 L366.1 436.9 L367.14 436.9 L368.17 436.9 L369.21 436.9 L370.25 436.9 L371.29 436.9 L372.33 436.9 L373.37 436.9 L374.41 436.9 L375.45 436.9 L376.48 436.9 L377.52 436.9 L378.56 436.9 L379.6 436.9 L380.64 436.9 L381.68 436.9 L382.72 436.9 L383.76 436.9 L384.79 436.9 L385.83 436.9 L386.87 436.9 L387.91 436.9 L388.95 436.9 L389.99 436.9 L391.03 436.9 L392.07 436.9 L393.1 436.9 L394.14 436.9 L395.18 436.9 L396.22 436.9 L397.26 436.9 L398.3 436.9 L399.34 436.9 L400.38 436.9 L401.41 436.9 L402.45 436.9 L403.49 436.9 L404.53 436.9 L405.57 436.9 L406.61 436.9 L407.65 436.9 L408.69 436.9 L409.72 436.9 L410.76 436.9 L411.8 436.9 L412.84 436.9 L413.88 436.9 L414.92 436.9 L415.96 436.9 L417 436.9 L418.03 436.9 L419.07 436.9 L420.11 436.9 L421.15 436.9 L422.19 436.9 L423.23 436.9 L424.27 436.9 L425.31 436.9 L426.34 436.9 L427.38 436.9 L428.42 436.9 L429.46 436.9 L430.5 436.9 L431.54 436.9 L432.58 436.9 L433.62 436.9 L434.65 436.9 L435.69 436.9 L436.73 436.9 L437.77 436.9 L438.81 436.9 L439.85 436.9 L440.89 436.9 L441.93 436.9 L442.97 436.9 L444 436.9 L445.04 436.9 L446.08 436.9 L447.12 436.9 L448.16 436.9 L449.2 436.9 L450.24 436.9 L451.28 436.9 L452.31 436.9 L453.35 436.9 L454.39 436.9 L455.43 436.9 L456.47 436.9 L457.51 436.9 L458.55 436.9 L459.59 436.9 L460.62 436.9 L461.66 436.9 L462.7 436.9 L463.74 436.9 L464.78 436.9 L465.82 436.9 L466.86 436.9 L467.9 436.9 L468.93 436.9 L469.97 436.9 L471.01 436.9 L472.05 436.9 L473.09 436.9 L474.13 436.9 L475.17 436.9 L476.21 436.9 L477.24 436.9 L478.28 436.9 L479.32 436.9 L480.36 436.9 L481.4 436.9 L482.44 436.9 L483.48 436.9 L484.52 436.9 L484.52 436.9 Z" fill="#f77e82"/>
<path d="M70.05 436.9 L70.05 435.87 L70.57 435.87 L71.09 435.87 L71.61 435.87 L72.12 435.87 L72.64 435.87 L73.16 435.87 L73.68 435.87 L74.2 435.87 L74.72 435.87 L75.24 435.87 L75.76 435.87 L76.27 435.87 L76.79 435.87 L77.31 435.87 L77.83 435.87 L78.35 435.87 L78.87 435.87 L79.39 435.87 L79.91 435.87 L80.42 435.87 L80.94 435.87 L81.46 435.87 L81.98 435.87 L82.5 435.87 L83.02 435.87 L83.54 435.87 L84.06 435.87 L84.57 435.87 L85.09 435.87 L85.61 435.87 L86.13 435.87 L86.65 435.87 L87.17 435.87 L87.69 435.87 L88.21 435.87 L88.72 435.87 L89.24 435.87 L89.76 435.87 L90.28 435.87 L90.8 435.87 L91.32 435.87 L91.84 435.87 L92.36 435.87 L92.87 435.87 L93.39 435.87 L93.91 435.87 L94.43 435.87 L94.95 435.87 L95.47 435.87 L95.99 435.87 L96.51 435.87 L97.02 435.87 L97.54 435.87 L98.06 435.87 L98.58 435.87 L99.1 435.87 L99.62 435.87 L100.14 435.87 L100.66 435.87 L101.17 435.87 L101.69 435.87 L102.21 435.87 L102.73 435.87 L103.25 435.87 L103.77 435.87 L104.29 435.87 L104.8 435.87 L105.32 435.87 L105.84 435.87 L106.36 435.87 L106.88 435.87 L107.4 435.87 L107.92 435.87 L108.44 435.87 L108.95 435.87 L109.47 435.87 L109.99 435.86 L110.51 435.86 L111.03 435.86 L111.55 435.86 L112.07 435.86 L112.59 435.86 L113.1 435.85 L113.62 435.85 L114.14 435.84 L114.66 435.84 L115.18 435.83 L115.7 435.81 L116.22 435.8 L116.74 435.78 L117.25 435.75 L117.77 435.72 L118.29 435.68 L118.81 435.63 L119.33 435.57 L119.85 435.49 L120.37 435.4 L120.89 435.28 L121.4 435.14 L121.92 434.96 L122.44 434.75 L122.96 434.5 L123.48 434.2 L124 433.84 L124.52 433.42 L125.04 432.92 L125.55 432.33 L126.07 431.65 L126.59 430.85 L127.11 429.93 L127.63 428.88 L128.15 427.67 L128.67 426.3 L129.19 424.75 L129.7 423 L130.22 421.05 L130.74 418.88 L131.26 416.47 L131.78 413.82 L132.3 410.92 L132.82 407.76 L133.34 404.34 L133.85 400.67 L134.37 396.74 L134.89 392.56 L135.41 388.16 L135.93 383.53 L136.45 378.72 L136.97 373.74 L137.48 368.62 L138 363.41 L138.52 358.14 L139.04 352.86 L139.56 347.61 L140.08 342.45 L140.6 337.42 L141.12 332.59 L141.63 327.99 L142.15 323.7 L142.67 319.75 L143.19 316.2 L143.71 313.08 L144.23 310.44 L144.75 308.32 L145.27 306.73 L145.78 305.71 L146.3 305.26 L146.82 305.39 L147.34 306.1 L147.86 307.38 L148.38 309.22 L148.9 311.58 L149.42 314.43 L149.93 317.75 L150.45 321.49 L150.97 325.6 L151.49 330.04 L152.01 334.75 L152.53 339.68 L153.05 344.77 L153.57 349.98 L154.08 355.25 L154.6 360.53 L155.12 365.78 L155.64 370.96 L156.16 376.01 L156.68 380.92 L157.2 385.65 L157.72 390.18 L158.23 394.48 L158.75 398.55 L159.27 402.36 L159.79 405.92 L160.31 409.22 L160.83 412.26 L161.35 415.05 L161.87 417.59 L162.38 419.89 L162.9 421.96 L163.42 423.82 L163.94 425.48 L164.46 426.94 L164.98 428.24 L165.5 429.38 L166.02 430.37 L166.53 431.23 L167.05 431.97 L167.57 432.61 L168.09 433.16 L168.61 433.62 L169.13 434.01 L169.65 434.34 L170.16 434.62 L170.68 434.85 L171.2 435.05 L171.72 435.2 L172.24 435.33 L172.76 435.44 L173.28 435.53 L173.8 435.6 L174.31 435.65 L174.83 435.7 L175.35 435.74 L175.87 435.77 L176.39 435.79 L176.91 435.81 L177.43 435.82 L177.95 435.83 L178.46 435.84 L178.98 435.85 L179.5 435.85 L180.02 435.86 L180.54 435.86 L181.06 435.86 L181.58 435.86 L182.1 435.86 L182.61 435.86 L183.13 435.86 L183.65 435.87 L184.17 435.87 L184.69 435.87 L185.21 435.87 L185.73 435.87 L186.25 435.87 L186.76 435.87 L187.28 435.87 L187.8 435.87 L188.32 435.87 L188.84 435.87 L189.36 435.87 L189.88 435.87 L190.4 435.87 L190.91 435.87 L191.43 435.87 L191.95 435.87 L192.47 435.87 L192.99 435.87 L193.51 435.87 L194.03 435.87 L194.55 435.87 L195.06 435.87 L195.58 435.87 L196.1 435.87 L196.62 435.87 L197.14 435.87 L197.66 435.87 L198.18 435.87 L198.7 435.87 L199.21 435.87 L199.73 435.87 L200.25 435.87 L200.77 435.87 L201.29 435.87 L201.81 435.87 L202.33 435.87 L202.84 435.87 L203.36 435.87 L203.88 435.87 L204.4 435.87 L204.92 435.87 L205.44 435.87 L205.96 435.87 L206.48 435.87 L206.99 435.87 L207.51 435.87 L208.03 435.87 L208.55 435.87 L209.07 435.87 L209.59 435.87 L210.11 435.87 L210.63 435.87 L211.14 435.87 L211.66 435.87 L212.18 435.87 L212.7 435.87 L213.22 435.87 L213.74 435.87 L214.26 435.87 L214.78 435.87 L215.29 435.87 L215.81 435.87 L216.33 435.87 L216.85 435.87 L217.37 435.87 L217.89 435.87 L218.41 435.87 L218.93 435.87 L219.44 435.87 L219.96 435.87 L220.48 435.87 L221 435.87 L221.52 435.87 L222.04 435.87 L222.56 435.87 L223.08 435.87 L223.59 435.87 L224.11 435.87 L224.63 435.87 L225.15 435.87 L225.67 435.87 L226.19 435.87 L226.71 435.87 L227.23 435.87 L227.74 435.87 L228.26 435.87 L228.78 435.87 L229.3 435.87 L229.82 435.87 L230.34 435.87 L230.86 435.87 L231.38 435.87 L231.89 435.87 L232.41 435.87 L232.93 435.87 L233.45 435.87 L233.97 435.87 L234.49 435.87 L235.01 435.87 L235.52 435.87 L236.04 435.87 L236.56 435.87 L237.08 435.87 L237.6 435.87 L238.12 435.87 L238.64 435.87 L239.16 435.87 L239.67 435.87 L240.19 435.87 L240.71 435.87 L241.23 435.87 L241.75 435.87 L242.27 435.87 L242.79 435.87 L243.31 435.87 L243.82 435.87 L244.34 435.87 L244.86 435.87 L245.38 435.87 L245.9 435.87 L246.42 435.87 L246.94 435.87 L247.46 435.87 L247.97 435.87 L248.49 435.87 L249.01 435.87 L249.53 435.87 L250.05 435.87 L250.57 435.87 L251.09 435.87 L251.61 435.87 L252.12 435.87 L252.64 435.87 L253.16 435.87 L253.68 435.87 L254.2 435.87 L254.72 435.87 L255.24 435.87 L255.76 435.87 L256.27 435.87 L256.79 435.87 L257.31 435.87 L257.83 435.87 L258.35 435.87 L258.87 435.87 L259.39 435.87 L259.91 435.87 L260.42 435.87 L260.94 435.87 L261.46 435.87 L261.98 435.87 L262.5 435.87 L263.02 435.87 L263.54 435.87 L264.06 435.87 L264.57 435.87 L265.09 435.87 L265.61 435.87 L266.13 435.87 L266.65 435.87 L267.17 435.87 L267.69 435.87 L268.2 435.87 L268.72 435.87 L269.24 435.87 L269.76 435.87 L270.28 435.87 L270.8 435.87 L271.32 435.87 L271.84 435.87 L272.35 435.87 L272.87 435.87 L273.39 435.87 L273.91 435.87 L274.43 435.87 L274.95 435.87 L275.47 435.87 L275.99 435.87 L276.5 435.87 L277.02 435.87 L277.54 435.87 L278.06 435.87 L278.58 435.87 L279.1 435.87 L279.62 435.87 L280.14 435.87 L280.65 435.87 L281.17 435.87 L281.69 435.87 L282.21 435.87 L282.73 435.87 L283.25 435.87 L283.77 435.87 L284.29 435.87 L284.8 435.87 L285.32 435.87 L285.84 435.87 L286.36 435.87 L286.88 435.87 L287.4 435.87 L287.92 435.87 L288.44 435.87 L288.95 435.87 L289.47 435.87 L289.99 435.87 L290.51 435.87 L291.03 435.87 L291.55 435.87 L292.07 435.87 L292.59 435.87 L293.1 435.87 L293.62 435.87 L294.14 435.87 L294.66 435.87 L295.18 435.87 L295.7 435.87 L296.22 435.87 L296.74 435.87 L297.25 435.87 L297.77 435.87 L298.29 435.87 L298.81 435.87 L299.33 435.87 L299.85 435.87 L300.37 435.87 L300.88 435.87 L301.4 435.87 L301.92 435.87 L302.44 435.87 L302.96 435.87 L303.48 435.87 L304 435.87 L304.52 435.87 L305.03 435.87 L305.55 435.87 L306.07 435.87 L306.59 435.87 L307.11 435.87 L307.63 435.87 L308.15 435.87 L308.67 435.87 L309.18 435.87 L309.7 435.87 L310.22 435.87 L310.74 435.87 L311.26 435.87 L311.78 435.87 L312.3 435.87 L312.82 435.87 L313.33 435.87 L313.85 435.87 L314.37 435.87 L314.89 435.87 L315.41 435.87 L315.93 435.87 L316.45 435.87 L316.97 435.87 L317.48 435.87 L318 435.87 L318.52 435.87 L319.04 435.87 L319.56 435.87 L320.08 435.87 L320.6 435.87 L321.12 435.87 L321.63 435.87 L322.15 435.87 L322.67 435.87 L323.19 435.87 L323.71 435.87 L324.23 435.87 L324.75 435.87 L325.27 435.87 L325.78 435.87 L326.3 435.87 L326.82 435.87 L327.34 435.87 L327.86 435.87 L328.38 435.87 L328.9 435.87 L329.42 435.87 L329.93 435.87 L330.45 435.87 L330.97 435.87 L331.49 435.87 L332.01 435.87 L332.53 435.87 L333.05 435.87 L333.56 435.87 L334.08 435.87 L334.6 435.87 L335.12 435.87 L335.64 435.87 L336.16 435.87 L336.68 435.87 L337.2 435.87 L337.71 435.87 L338.23 435.87 L338.75 435.87 L339.27 435.87 L339.79 435.87 L340.31 435.87 L340.83 435.87 L341.35 435.87 L341.86 435.87 L342.38 435.87 L342.9 435.87 L343.42 435.87 L343.94 435.87 L344.46 435.87 L344.98 435.87 L345.5 435.87 L346.01 435.87 L346.53 435.87 L347.05 435.87 L347.57 435.87 L348.09 435.87 L348.61 435.87 L349.13 435.87 L349.65 435.87 L350.16 435.87 L350.68 435.87 L351.2 435.87 L351.72 435.87 L352.24 435.87 L352.76 435.87 L353.28 435.87 L353.8 435.87 L354.31 435.87 L354.83 435.87 L355.35 435.87 L355.87 435.87 L356.39 435.87 L356.91 435.87 L357.43 435.87 L357.95 435.87 L358.46 435.87 L358.98 435.87 L359.5 435.87 L360.02 435.87 L360.54 435.87 L361.06 435.87 L361.58 435.87 L362.1 435.87 L362.61 435.87 L363.13 435.87 L363.65 435.87 L364.17 435.87 L364.69 435.87 L365.21 435.87 L365.73 435.87 L366.24 435.87 L366.76 435.87 L367.28 435.87 L367.8 435.87 L368.32 435.87 L368.84 435.87 L369.36 435.87 L369.88 435.87 L370.39 435.87 L370.91 435.87 L371.43 435.87 L371.95 435.87 L372.47 435.87 L372.99 435.87 L373.51 435.87 L374.03 435.87 L374.54 435.87 L375.06 435.87 L375.58 435.87 L376.1 435.87 L376.62 435.87 L377.14 435.87 L377.66 435.87 L378.18 435.87 L378.69 435.87 L379.21 435.87 L379.73 435.87 L380.25 435.87 L380.77 435.87 L381.29 435.87 L381.81 435.87 L382.33 435.87 L382.84 435.87 L383.36 435.87 L383.88 435.87 L384.4 435.87 L384.92 435.87 L385.44 435.87 L385.96 435.87 L386.48 435.87 L386.99 435.87 L387.51 435.87 L388.03 435.87 L388.55 435.87 L389.07 435.87 L389.59 435.87 L390.11 435.87 L390.63 435.87 L391.14 435.87 L391.66 435.87 L392.18 435.87 L392.7 435.87 L393.22 435.87 L393.74 435.87 L394.26 435.87 L394.78 435.87 L395.29 435.87 L395.81 435.87 L396.33 435.87 L396.85 435.87 L397.37 435.87 L397.89 435.87 L398.41 435.87 L398.93 435.87 L399.44 435.87 L399.96 435.87 L400.48 435.87 L401 435.87 L401.52 435.87 L402.04 435.87 L402.56 435.87 L403.07 435.87 L403.59 435.87 L404.11 435.87 L404.63 435.87 L405.15 435.87 L405.67 435.87 L406.19 435.87 L406.71 435.87 L407.22 435.87 L407.74 435.87 L408.26 435.87 L408.78 435.87 L409.3 435.87 L409.82 435.87 L410.34 435.87 L410.86 435.87 L411.37 435.87 L411.89 435.87 L412.41 435.87 L412.93 435.87 L413.45 435.87 L413.97 435.87 L414.49 435.87 L415.01 435.87 L415.52 435.87 L416.04 435.87 L416.56 435.87 L417.08 435.87 L417.6 435.87 L418.12 435.87 L418.64 435.87 L419.16 435.87 L419.67 435.87 L420.19 435.87 L420.71 435.87 L421.23 435.87 L421.75 435.87 L422.27 435.87 L422.79 435.87 L423.31 435.87 L423.82 435.87 L424.34 435.87 L424.86 435.87 L425.38 435.87 L425.9 435.87 L426.42 435.87 L426.94 435.87 L427.46 435.87 L427.97 435.87 L428.49 435.87 L429.01 435.87 L429.53 435.87 L430.05 435.87 L430.57 435.87 L431.09 435.87 L431.61 435.87 L432.12 435.87 L432.64 435.87 L433.16 435.87 L433.68 435.87 L434.2 435.87 L434.72 435.87 L435.24 435.87 L435.75 435.87 L436.27 435.87 L436.79 435.87 L437.31 435.87 L437.83 435.87 L438.35 435.87 L438.87 435.87 L439.39 435.87 L439.9 435.87 L440.42 435.87 L440.94 435.87 L441.46 435.87 L441.98 435.87 L442.5 435.87 L443.02 435.87 L443.54 435.87 L444.05 435.87 L444.57 435.87 L445.09 435.87 L445.61 435.87 L446.13 435.87 L446.65 435.87 L447.17 435.87 L447.69 435.87 L448.2 435.87 L448.72 435.87 L449.24 435.87 L449.76 435.87 L450.28 435.87 L450.8 435.87 L451.32 435.87 L451.84 435.87 L452.35 435.87 L452.87 435.87 L453.39 435.87 L453.91 435.87 L454.43 435.87 L454.95 435.87 L455.47 435.87 L455.99 435.87 L456.5 435.87 L457.02 435.87 L457.54 435.87 L458.06 435.87 L458.58 435.87 L459.1 435.87 L459.62 435.87 L460.14 435.87 L460.65 435.87 L461.17 435.87 L461.69 435.87 L462.21 435.87 L462.73 435.87 L463.25 435.87 L463.77 435.87 L464.29 435.87 L464.8 435.87 L465.32 435.87 L465.84 435.87 L466.36 435.87 L466.88 435.87 L467.4 435.87 L467.92 435.87 L468.43 435.87 L468.95 435.87 L469.47 435.87 L469.99 435.87 L470.51 435.87 L471.03 435.87 L471.55 435.87 L472.07 435.87 L472.58 435.87 L473.1 435.87 L473.62 435.87 L474.14 435.87 L474.66 435.87 L475.18 435.87 L475.7 435.87 L476.22 435.87 L476.73 435.87 L477.25 435.87 L477.77 435.87 L478.29 435.87 L478.81 435.87 L479.33 435.87 L479.85 435.87 L480.37 435.87 L480.88 435.87 L481.4 435.87 L481.92 435.87 L482.44 435.87 L482.96 435.87 L483.48 435.87 L484 435.87 L484.52 435.87 L484.52 436.9 Z" fill="#7b9df6"/>
<path d="M70.05 436.9 L70.05 436.88 L70.57 436.88 L71.09 436.88 L71.61 436.88 L72.12 436.88 L72.64 436.88 L73.16 436.88 L73.68 436.88 L74.2 436.88 L74.72 436.88 L75.24 436.88 L75.76 436.88 L76.27 436.88 L76.79 436.88 L77.31 436.88 L77.83 436.88 L78.35 436.88 L78.87 436.88 L79.39 436.88 L79.91 436.88 L80.42 436.88 L80.94 436.88 L81.46 436.88 L81.98 436.88 L82.5 436.88 L83.02 436.88 L83.54 436.88 L84.06 436.88 L84.57 436.88 L85.09 436.88 L85.61 436.88 L86.13 436.88 L86.65 436.87 L87.17 436.87 L87.69 436.87 L88.21 436.87 L88.72 436.87 L89.24 436.87 L89.76 436.87 L90.28 436.87 L90.8 436.87 L91.32 436.87 L91.84 436.87 L92.36 436.87 L92.87 436.87 L93.39 436.87 L93.91 436.87 L94.43 436.87 L94.95 436.87 L95.47 436.87 L95.99 436.87 L96.51 436.87 L97.02 436.87 L97.54 436.87 L98.06 436.87 L98.58 436.87 L99.1 436.87 L99.62 436.87 L100.14 436.86 L100.66 436.86 L101.17 436.86 L101.69 436.86 L102.21 436.86 L102.73 436.86 L103.25 436.86 L103.77 436.86 L104.29 436.86 L104.8 436.86 L105.32 436.86 L105.84 436.86 L106.36 436.86 L106.88 436.86 L107.4 436.86 L107.92 436.86 L108.44 436.86 L108.95 436.85 L109.47 436.85 L109.99 436.85 L110.51 436.85 L111.03 436.85 L111.55 436.85 L112.07 436.85 L112.59 436.85 L113.1 436.85 L113.62 436.85 L114.14 436.85 L114.66 436.85 L115.18 436.84 L115.7 436.84 L116.22 436.84 L116.74 436.84 L117.25 436.84 L117.77 436.84 L118.29 436.84 L118.81 436.84 L119.33 436.84 L119.85 436.83 L120.37 436.83 L120.89 436.83 L121.4 436.83 L121.92 436.83 L122.44 436.83 L122.96 436.83 L123.48 436.82 L124 436.82 L124.52 436.82 L125.04 436.82 L125.55 436.82 L126.07 436.82 L126.59 436.81 L127.11 436.81 L127.63 436.81 L128.15 436.81 L128.67 436.81 L129.19 436.8 L129.7 436.8 L130.22 436.8 L130.74 436.8 L131.26 436.79 L131.78 436.79 L132.3 436.79 L132.82 436.79 L133.34 436.78 L133.85 436.78 L134.37 436.78 L134.89 436.77 L135.41 436.77 L135.93 436.77 L136.45 436.76 L136.97 436.76 L137.48 436.75 L138 436.75 L138.52 436.75 L139.04 436.74 L139.56 436.74 L140.08 436.73 L140.6 436.73 L141.12 436.72 L141.63 436.71 L142.15 436.71 L142.67 436.7 L143.19 436.69 L143.71 436.69 L144.23 436.68 L144.75 436.67 L145.27 436.66 L145.78 436.65 L146.3 436.64 L146.82 436.63 L147.34 436.62 L147.86 436.61 L148.38 436.6 L148.9 436.58 L149.42 436.57 L149.93 436.55 L150.45 436.53 L150.97 436.51 L151.49 436.48 L152.01 436.45 L152.53 436.42 L153.05 436.38 L153.57 436.33 L154.08 436.28 L154.6 436.22 L155.12 436.14 L155.64 436.06 L156.16 435.96 L156.68 435.84 L157.2 435.7 L157.72 435.55 L158.23 435.37 L158.75 435.16 L159.27 434.93 L159.79 434.66 L160.31 434.37 L160.83 434.03 L161.35 433.66 L161.87 433.26 L162.38 432.81 L162.9 432.33 L163.42 431.82 L163.94 431.26 L164.46 430.68 L164.98 430.07 L165.5 429.44 L166.02 428.79 L166.53 428.13 L167.05 427.47 L167.57 426.82 L168.09 426.19 L168.61 425.58 L169.13 425.02 L169.65 424.51 L170.16 424.07 L170.68 423.71 L171.2 423.43 L171.72 423.25 L172.24 423.18 L172.76 423.2 L173.28 423.33 L173.8 423.56 L174.31 423.89 L174.83 424.29 L175.35 424.77 L175.87 425.31 L176.39 425.89 L176.91 426.51 L177.43 427.15 L177.95 427.81 L178.46 428.47 L178.98 429.13 L179.5 429.77 L180.02 430.39 L180.54 430.99 L181.06 431.55 L181.58 432.09 L182.1 432.59 L182.61 433.05 L183.13 433.47 L183.65 433.86 L184.17 434.21 L184.69 434.52 L185.21 434.8 L185.73 435.05 L186.25 435.27 L186.76 435.46 L187.28 435.63 L187.8 435.78 L188.32 435.9 L188.84 436.01 L189.36 436.1 L189.88 436.18 L190.4 436.25 L190.91 436.31 L191.43 436.36 L191.95 436.4 L192.47 436.44 L192.99 436.47 L193.51 436.5 L194.03 436.52 L194.55 436.54 L195.06 436.56 L195.58 436.58 L196.1 436.59 L196.62 436.61 L197.14 436.62 L197.66 436.63 L198.18 436.64 L198.7 436.65 L199.21 436.66 L199.73 436.67 L200.25 436.68 L200.77 436.68 L201.29 436.69 L201.81 436.7 L202.33 436.7 L202.84 436.71 L203.36 436.72 L203.88 436.72 L204.4 436.73 L204.92 436.73 L205.44 436.74 L205.96 436.74 L206.48 436.75 L206.99 436.75 L207.51 436.76 L208.03 436.76 L208.55 436.76 L209.07 436.77 L209.59 436.77 L210.11 436.77 L210.63 436.78 L211.14 436.78 L211.66 436.78 L212.18 436.79 L212.7 436.79 L213.22 436.79 L213.74 436.79 L214.26 436.8 L214.78 436.8 L215.29 436.8 L215.81 436.8 L216.33 436.81 L216.85 436.81 L217.37 436.81 L217.89 436.81 L218.41 436.81 L218.93 436.82 L219.44 436.82 L219.96 436.82 L220.48 436.82 L221 436.82 L221.52 436.82 L222.04 436.83 L222.56 436.83 L223.08 436.83 L223.59 436.83 L224.11 436.83 L224.63 436.83 L225.15 436.83 L225.67 436.84 L226.19 436.84 L226.71 436.84 L227.23 436.84 L227.74 436.84 L228.26 436.84 L228.78 436.84 L229.3 436.84 L229.82 436.84 L230.34 436.85 L230.86 436.85 L231.38 436.85 L231.89 436.85 L232.41 436.85 L232.93 436.85 L233.45 436.85 L233.97 436.85 L234.49 436.85 L235.01 436.85 L235.52 436.85 L236.04 436.85 L236.56 436.86 L237.08 436.86 L237.6 436.86 L238.12 436.86 L238.64 436.86 L239.16 436.86 L239.67 436.86 L240.19 436.86 L240.71 436.86 L241.23 436.86 L241.75 436.86 L242.27 436.86 L242.79 436.86 L243.31 436.86 L243.82 436.86 L244.34 436.86 L244.86 436.86 L245.38 436.87 L245.9 436.87 L246.42 436.87 L246.94 436.87 L247.46 436.87 L247.97 436.87 L248.49 436.87 L249.01 436.87 L249.53 436.87 L250.05 436.87 L250.57 436.87 L251.09 436.87 L251.61 436.87 L252.12 436.87 L252.64 436.87 L253.16 436.87 L253.68 436.87 L254.2 436.87 L254.72 436.87 L255.24 436.87 L255.76 436.87 L256.27 436.87 L256.79 436.87 L257.31 436.87 L257.83 436.87 L258.35 436.88 L258.87 436.88 L259.39 436.88 L259.91 436.88 L260.42 436.88 L260.94 436.88 L261.46 436.88 L261.98 436.88 L262.5 436.88 L263.02 436.88 L263.54 436.88 L264.06 436.88 L264.57 436.88 L265.09 436.88 L265.61 436.88 L266.13 436.88 L266.65 436.88 L267.17 436.88 L267.69 436.88 L268.2 436.88 L268.72 436.88 L269.24 436.88 L269.76 436.88 L270.28 436.88 L270.8 436.88 L271.32 436.88 L271.84 436.88 L272.35 436.88 L272.87 436.88 L273.39 436.88 L273.91 436.88 L274.43 436.88 L274.95 436.88 L275.47 436.88 L275.99 436.88 L276.5 436.88 L277.02 436.88 L277.54 436.88 L278.06 436.88 L278.58 436.88 L279.1 436.88 L279.62 436.88 L280.14 436.88 L280.65 436.88 L281.17 436.88 L281.69 436.88 L282.21 436.88 L282.73 436.88 L283.25 436.88 L283.77 436.89 L284.29 436.89 L284.8 436.89 L285.32 436.89 L285.84 436.89 L286.36 436.89 L286.88 436.89 L287.4 436.89 L287.92 436.89 L288.44 436.89 L288.95 436.89 L289.47 436.89 L289.99 436.89 L290.51 436.89 L291.03 436.89 L291.55 436.89 L292.07 436.89 L292.59 436.89 L293.1 436.89 L293.62 436.89 L294.14 436.89 L294.66 436.89 L295.18 436.89 L295.7 436.89 L296.22 436.89 L296.74 436.89 L297.25 436.89 L297.77 436.89 L298.29 436.89 L298.81 436.89 L299.33 436.89 L299.85 436.89 L300.37 436.89 L300.88 436.89 L301.4 436.89 L301.92 436.89 L302.44 436.89 L302.96 436.89 L303.48 436.89 L304 436.89 L304.52 436.89 L305.03 436.89 L305.55 436.89 L306.07 436.89 L306.59 436.89 L307.11 436.89 L307.63 436.89 L308.15 436.89 L308.67 436.89 L309.18 436.89 L309.7 436.89 L310.22 436.89 L310.74 436.89 L311.26 436.89 L311.78 436.89 L312.3 436.89 L312.82 436.89 L313.33 436.89 L313.85 436.89 L314.37 436.89 L314.89 436.89 L315.41 436.89 L315.93 436.89 L316.45 436.89 L316.97 436.89 L317.48 436.89 L318 436.89 L318.52 436.89 L319.04 436.89 L319.56 436.89 L320.08 436.89 L320.6 436.89 L321.12 436.89 L321.63 436.89 L322.15 436.89 L322.67 436.89 L323.19 436.89 L323.71 436.89 L324.23 436.89 L324.75 436.89 L325.27 436.89 L325.78 436.89 L326.3 436.89 L326.82 436.89 L327.34 436.89 L327.86 436.89 L328.38 436.89 L328.9 436.89 L329.42 436.89 L329.93 436.89 L330.45 436.89 L330.97 436.89 L331.49 436.89 L332.01 436.89 L332.53 436.89 L333.05 436.89 L333.56 436.89 L334.08 436.89 L334.6 436.89 L335.12 436.89 L335.64 436.89 L336.16 436.89 L336.68 436.89 L337.2 436.89 L337.71 436.89 L338.23 436.89 L338.75 436.89 L339.27 436.89 L339.79 436.89 L340.31 436.89 L340.83 436.89 L341.35 436.89 L341.86 436.89 L342.38 436.89 L342.9 436.89 L343.42 436.89 L343.94 436.89 L344.46 436.89 L344.98 436.89 L345.5 436.89 L346.01 436.89 L346.53 436.89 L347.05 436.89 L347.57 436.89 L348.09 436.89 L348.61 436.89 L349.13 436.89 L349.65 436.89 L350.16 436.89 L350.68 436.89 L351.2 436.89 L351.72 436.89 L352.24 436.89 L352.76 436.89 L353.28 436.89 L353.8 436.89 L354.31 436.89 L354.83 436.89 L355.35 436.89 L355.87 436.89 L356.39 436.89 L356.91 436.89 L357.43 436.89 L357.95 436.89 L358.46 436.89 L358.98 436.89 L359.5 436.89 L360.02 436.89 L360.54 436.89 L361.06 436.89 L361.58 436.89 L362.1 436.89 L362.61 436.89 L363.13 436.89 L363.65 436.89 L364.17 436.89 L364.69 436.89 L365.21 436.9 L365.73 436.9 L366.24 436.9 L366.76 436.9 L367.28 436.9 L367.8 436.9 L368.32 436.9 L368.84 436.9 L369.36 436.9 L369.88 436.9 L370.39 436.9 L370.91 436.9 L371.43 436.9 L371.95 436.9 L372.47 436.9 L372.99 436.9 L373.51 436.9 L374.03 436.9 L374.54 436.9 L375.06 436.9 L375.58 436.9 L376.1 436.9 L376.62 436.9 L377.14 436.9 L377.66 436.9 L378.18 436.9 L378.69 436.9 L379.21 436.9 L379.73 436.9 L380.25 436.9 L380.77 436.9 L381.29 436.9 L381.81 436.9 L382.33 436.9 L382.84 436.9 L383.36 436.9 L383.88 436.9 L384.4 436.9 L384.92 436.9 L385.44 436.9 L385.96 436.9 L386.48 436.9 L386.99 436.9 L387.51 436.9 L388.03 436.9 L388.55 436.9 L389.07 436.9 L389.59 436.9 L390.11 436.9 L390.63 436.9 L391.14 436.9 L391.66 436.9 L392.18 436.9 L392.7 436.9 L393.22 436.9 L393.74 436.9 L394.26 436.9 L394.78 436.9 L395.29 436.9 L395.81 436.9 L396.33 436.9 L396.85 436.9 L397.37 436.9 L397.89 436.9 L398.41 436.9 L398.93 436.9 L399.44 436.9 L399.96 436.9 L400.48 436.9 L401 436.9 L401.52 436.9 L402.04 436.9 L402.56 436.9 L403.07 436.9 L403.59 436.9 L404.11 436.9 L404.63 436.9 L405.15 436.9 L405.67 436.9 L406.19 436.9 L406.71 436.9 L407.22 436.9 L407.74 436.9 L408.26 436.9 L408.78 436.9 L409.3 436.9 L409.82 436.9 L410.34 436.9 L410.86 436.9 L411.37 436.9 L411.89 436.9 L412.41 436.9 L412.93 436.9 L413.45 436.9 L413.97 436.9 L414.49 436.9 L415.01 436.9 L415.52 436.9 L416.04 436.9 L416.56 436.9 L417.08 436.9 L417.6 436.9 L418.12 436.9 L418.64 436.9 L419.16 436.9 L419.67 436.9 L420.19 436.9 L420.71 436.9 L421.23 436.9 L421.75 436.9 L422.27 436.9 L422.79 436.9 L423.31 436.9 L423.82 436.9 L424.34 436.9 L424.86 436.9 L425.38 436.9 L425.9 436.9 L426.42 436.9 L426.94 436.9 L427.46 436.9 L427.97 436.9 L428.49 436.9 L429.01 436.9 L429.53 436.9 L430.05 436.9 L430.57 436.9 L431.09 436.9 L431.61 436.9 L432.12 436.9 L432.64 436.9 L433.16 436.9 L433.68 436.9 L434.2 436.9 L434.72 436.9 L435.24 436.9 L435.75 436.9 L436.27 436.9 L436.79 436.9 L437.31 436.9 L437.83 436.9 L438.35 436.9 L438.87 436.9 L439.39 436.9 L439.9 436.9 L440.42 436.9 L440.94 436.9 L441.46 436.9 L441.98 436.9 L442.5 436.9 L443.02 436.9 L443.54 436.9 L444.05 436.9 L444.57 436.9 L445.09 436.9 L445.61 436.9 L446.13 436.9 L446.65 436.9 L447.17 436.9 L447.69 436.9 L448.2 436.9 L448.72 436.9 L449.24 436.9 L449.76 436.9 L450.28 436.9 L450.8 436.9 L451.32 436.9 L451.84 436.9 L452.35 436.9 L452.87 436.9 L453.39 436.9 L453.91 436.9 L454.43 436.9 L454.95 436.9 L455.47 436.9 L455.99 436.9 L456.5 436.9 L457.02 436.9 L457.54 436.9 L458.06 436.9 L458.58 436.9 L459.1 436.9 L459.62 436.9 L460.14 436.9 L460.65 436.9 L461.17 436.9 L461.69 436.9 L462.21 436.9 L462.73 436.9 L463.25 436.9 L463.77 436.9 L464.29 436.9 L464.8 436.9 L465.32 436.9 L465.84 436.9 L466.36 436.9 L466.88 436.9 L467.4 436.9 L467.92 436.9 L468.43 436.9 L468.95 436.9 L469.47 436.9 L469.99 436.9 L470.51 436.9 L471.03 436.9 L471.55 436.9 L472.07 436.9 L472.58 436.9 L473.1 436.9 L473.62 436.9 L474.14 436.9 L474.66 436.9 L475.18 436.9 L475.7 436.9 L476.22 436.9 L476.73 436.9 L477.25 436.9 L477.77 436.9 L478.29 436.9 L478.81 436.9 L479.33 436.9 L479.85 436.9 L480.37 436.9 L480.88 436.9 L481.4 436.9 L481.92 436.9 L482.44 436.9 L482.96 436.9 L483.48 436.9 L484 436.9 L484.52 436.9 L484.52 436.9 Z" fill="#f76fdc"/>
<line x1="123.5" y1="225.6" x2="123.5" y2="441.2" stroke="#000" stroke-width="1.1" stroke-dasharray="4 3.4"/>
<rect x="87.4" y="231.3" width="143.6" height="207.2" fill="none" stroke="#f99b40" stroke-width="1.5" stroke-dasharray="7.5 4.5"/>
<path d="M70.05 431.29 L70.74 431.25 L71.43 431.21 L72.12 431.17 L72.81 431.13 L73.5 431.1 L74.19 431.06 L74.87 431.02 L75.56 430.99 L76.25 430.95 L76.94 430.92 L77.63 430.88 L78.32 430.84 L79.01 430.81 L79.7 430.77 L80.39 430.73 L81.08 430.7 L81.77 430.66 L82.46 430.62 L83.15 430.58 L83.83 430.54 L84.52 430.5 L85.21 430.45 L85.9 430.41 L86.59 430.36 L87.28 430.31 L87.97 430.26 L88.66 430.21 L89.35 430.16 L90.04 430.11 L90.73 430.06 L91.42 430.01 L92.11 429.96 L92.79 429.91 L93.48 429.85 L94.17 429.79 L94.86 429.73 L95.55 429.66 L96.24 429.59 L96.93 429.5 L97.62 429.41 L98.31 429.31 L99 429.2 L99.69 429.08 L100.38 428.93 L101.07 428.72 L101.75 428.38 L102.44 427.92 L103.13 427.34 L103.82 426.64 L104.51 425.81 L105.2 424.82 L105.89 423.67 L106.58 422.32 L107.27 420.74 L107.96 418.89 L108.65 416.71 L109.34 414.15 L110.03 411.14 L110.71 407.63 L111.4 403.55 L112.09 398.84 L112.78 393.46 L113.47 387.38 L114.16 380.6 L114.85 373.09 L115.54 364.91 L116.23 356.12 L116.92 346.87 L117.61 337.32 L118.3 327.67 L118.99 318.17 L119.67 309.06 L120.36 300.6 L121.05 293.07 L121.74 286.7 L122.43 281.69 L123.12 278.19 L123.81 276.32 L124.5 276.1 L125.19 277.48 L125.88 279.98 L126.57 283.1 L127.26 286.76 L127.95 290.78 L128.63 295.01 L129.32 299.25 L130.01 303.3 L130.7 306.99 L131.39 310.16 L132.08 312.69 L132.77 314.52 L133.46 315.61 L134.15 315.99 L134.84 315.74 L135.53 314.78 L136.22 312.67 L136.91 309.46 L137.59 305.27 L138.28 300.24 L138.97 294.53 L139.66 288.33 L140.35 281.85 L141.04 275.27 L141.73 268.81 L142.42 262.67 L143.11 257.02 L143.8 252.05 L144.49 247.89 L145.18 244.67 L145.87 242.46 L146.55 241.34 L147.24 241.28 L147.93 242.2 L148.62 244.06 L149.31 246.79 L150 250.32 L150.69 254.52 L151.38 259.27 L152.07 264.44 L152.76 269.87 L153.45 275.43 L154.14 280.99 L154.83 286.41 L155.51 291.59 L156.2 296.44 L156.89 300.89 L157.58 304.88 L158.27 308.39 L158.96 311.4 L159.65 313.92 L160.34 315.98 L161.03 317.59 L161.72 318.82 L162.41 319.7 L163.1 320.29 L163.79 320.65 L164.47 320.84 L165.16 320.88 L165.85 320.67 L166.54 320.23 L167.23 319.6 L167.92 318.84 L168.61 317.99 L169.3 317.08 L169.99 316.15 L170.68 315.24 L171.37 314.37 L172.06 313.58 L172.75 312.87 L173.43 312.28 L174.12 311.84 L174.81 311.55 L175.5 311.44 L176.19 311.46 L176.88 311.51 L177.57 311.58 L178.26 311.68 L178.95 311.79 L179.64 311.91 L180.33 312.05 L181.02 312.19 L181.71 312.34 L182.39 312.49 L183.08 312.64 L183.77 312.78 L184.46 312.92 L185.15 313.04 L185.84 313.15 L186.53 313.24 L187.22 313.31 L187.91 313.35 L188.6 313.36 L189.29 313.35 L189.98 313.32 L190.67 313.28 L191.35 313.23 L192.04 313.16 L192.73 313.09 L193.42 313 L194.11 312.91 L194.8 312.81 L195.49 312.7 L196.18 312.59 L196.87 312.46 L197.56 312.33 L198.25 312.2 L198.94 312.07 L199.63 311.95 L200.31 311.83 L201 311.72 L201.69 311.63 L202.38 311.55 L203.07 311.49 L203.76 311.44 L204.45 311.42 L205.14 311.41 L205.83 311.42 L206.52 311.44 L207.21 311.48 L207.9 311.54 L208.59 311.61 L209.27 311.68 L209.96 311.76 L210.65 311.85 L211.34 311.94 L212.03 312.04 L212.72 312.13 L213.41 312.23 L214.1 312.33 L214.79 312.43 L215.48 312.53 L216.17 312.62 L216.86 312.72 L217.55 312.81 L218.23 312.9 L218.92 313 L219.61 313.1 L220.3 313.21 L220.99 313.31 L221.68 313.42 L222.37 313.54 L223.06 313.65 L223.75 313.77 L224.44 313.9 L225.13 314.02 L225.82 314.15 L226.51 314.28 L227.19 314.42 L227.88 314.56 L228.57 314.7 L229.26 314.85 L229.95 315 L230.64 315.15 L231.33 315.3 L232.02 315.46 L232.71 315.62 L233.4 315.79 L234.09 315.96 L234.78 316.13 L235.47 316.31 L236.15 316.49 L236.84 316.67 L237.53 316.85 L238.22 317.04 L238.91 317.24 L239.6 317.43 L240.29 317.63 L240.98 317.84 L241.67 318.04 L242.36 318.25 L243.05 318.47 L243.74 318.68 L244.43 318.9 L245.11 319.13 L245.8 319.36 L246.49 319.59 L247.18 319.82 L247.87 320.06 L248.56 320.3 L249.25 320.55 L249.94 320.8 L250.63 321.05 L251.32 321.3 L252.01 321.56 L252.7 321.82 L253.39 322.09 L254.07 322.36 L254.76 322.63 L255.45 322.9 L256.14 323.18 L256.83 323.46 L257.52 323.74 L258.21 324.02 L258.9 324.31 L259.59 324.6 L260.28 324.89 L260.97 325.19 L261.66 325.48 L262.35 325.78 L263.03 326.08 L263.72 326.39 L264.41 326.69 L265.1 327 L265.79 327.31 L266.48 327.63 L267.17 327.94 L267.86 328.26 L268.55 328.58 L269.24 328.9 L269.93 329.22 L270.62 329.54 L271.31 329.87 L271.99 330.19 L272.68 330.52 L273.37 330.85 L274.06 331.18 L274.75 331.52 L275.44 331.85 L276.13 332.19 L276.82 332.52 L277.51 332.86 L278.2 333.2 L278.89 333.54 L279.58 333.88 L280.27 334.22 L280.96 334.57 L281.64 334.91 L282.33 335.25 L283.02 335.6 L283.71 335.95 L284.4 336.29 L285.09 336.64 L285.78 336.99 L286.47 337.33 L287.16 337.68 L287.85 338.03 L288.54 338.38 L289.23 338.73 L289.92 339.08 L290.6 339.43 L291.29 339.78 L291.98 340.13 L292.67 340.48 L293.36 340.83 L294.05 341.18 L294.74 341.53 L295.43 341.88 L296.12 342.23 L296.81 342.57 L297.5 342.92 L298.19 343.27 L298.88 343.62 L299.56 343.96 L300.25 344.31 L300.94 344.65 L301.63 345 L302.32 345.34 L303.01 345.69 L303.7 346.03 L304.39 346.37 L305.08 346.71 L305.77 347.05 L306.46 347.38 L307.15 347.72 L307.84 348.06 L308.52 348.39 L309.21 348.72 L309.9 349.05 L310.59 349.38 L311.28 349.71 L311.97 350.04 L312.66 350.37 L313.35 350.69 L314.04 351.01 L314.73 351.33 L315.42 351.65 L316.11 351.97 L316.8 352.29 L317.48 352.6 L318.17 352.92 L318.86 353.23 L319.55 353.54 L320.24 353.85 L320.93 354.16 L321.62 354.47 L322.31 354.78 L323 355.08 L323.69 355.38 L324.38 355.69 L325.07 355.99 L325.76 356.29 L326.44 356.58 L327.13 356.88 L327.82 357.18 L328.51 357.47 L329.2 357.76 L329.89 358.05 L330.58 358.34 L331.27 358.63 L331.96 358.92 L332.65 359.21 L333.34 359.49 L334.03 359.77 L334.72 360.06 L335.4 360.34 L336.09 360.62 L336.78 360.9 L337.47 361.17 L338.16 361.45 L338.85 361.72 L339.54 362 L340.23 362.27 L340.92 362.54 L341.61 362.81 L342.3 363.08 L342.99 363.35 L343.68 363.61 L344.36 363.88 L345.05 364.14 L345.74 364.41 L346.43 364.67 L347.12 364.93 L347.81 365.19 L348.5 365.45 L349.19 365.7 L349.88 365.96 L350.57 366.21 L351.26 366.47 L351.95 366.72 L352.64 366.97 L353.32 367.22 L354.01 367.47 L354.7 367.72 L355.39 367.97 L356.08 368.21 L356.77 368.46 L357.46 368.7 L358.15 368.94 L358.84 369.18 L359.53 369.42 L360.22 369.66 L360.91 369.9 L361.6 370.14 L362.28 370.37 L362.97 370.61 L363.66 370.84 L364.35 371.08 L365.04 371.31 L365.73 371.54 L366.42 371.77 L367.11 372 L367.8 372.22 L368.49 372.45 L369.18 372.68 L369.87 372.9 L370.56 373.13 L371.24 373.35 L371.93 373.57 L372.62 373.79 L373.31 374.01 L374 374.23 L374.69 374.45 L375.38 374.67 L376.07 374.88 L376.76 375.1 L377.45 375.31 L378.14 375.52 L378.83 375.74 L379.52 375.95 L380.2 376.16 L380.89 376.37 L381.58 376.58 L382.27 376.79 L382.96 376.99 L383.65 377.2 L384.34 377.4 L385.03 377.61 L385.72 377.81 L386.41 378.01 L387.1 378.22 L387.79 378.42 L388.48 378.62 L389.16 378.82 L389.85 379.01 L390.54 379.21 L391.23 379.41 L391.92 379.6 L392.61 379.8 L393.3 379.99 L393.99 380.19 L394.68 380.38 L395.37 380.57 L396.06 380.76 L396.75 380.95 L397.44 381.14 L398.12 381.33 L398.81 381.52 L399.5 381.7 L400.19 381.89 L400.88 382.08 L401.57 382.26 L402.26 382.45 L402.95 382.63 L403.64 382.81 L404.33 382.99 L405.02 383.17 L405.71 383.35 L406.4 383.53 L407.08 383.71 L407.77 383.89 L408.46 384.07 L409.15 384.25 L409.84 384.42 L410.53 384.6 L411.22 384.77 L411.91 384.95 L412.6 385.12 L413.29 385.29 L413.98 385.47 L414.67 385.64 L415.36 385.81 L416.04 385.98 L416.73 386.15 L417.42 386.32 L418.11 386.49 L418.8 386.65 L419.49 386.82 L420.18 386.99 L420.87 387.15 L421.56 387.32 L422.25 387.48 L422.94 387.65 L423.63 387.81 L424.32 387.98 L425 388.14 L425.69 388.3 L426.38 388.46 L427.07 388.62 L427.76 388.78 L428.45 388.94 L429.14 389.1 L429.83 389.26 L430.52 389.42 L431.21 389.58 L431.9 389.73 L432.59 389.89 L433.28 390.05 L433.96 390.2 L434.65 390.36 L435.34 390.51 L436.03 390.67 L436.72 390.82 L437.41 390.97 L438.1 391.12 L438.79 391.28 L439.48 391.43 L440.17 391.58 L440.86 391.73 L441.55 391.88 L442.24 392.03 L442.92 392.18 L443.61 392.33 L444.3 392.48 L444.99 392.63 L445.68 392.78 L446.37 392.92 L447.06 393.07 L447.75 393.22 L448.44 393.36 L449.13 393.51 L449.82 393.66 L450.51 393.8 L451.2 393.95 L451.88 394.09 L452.57 394.23 L453.26 394.38 L453.95 394.52 L454.64 394.66 L455.33 394.81 L456.02 394.95 L456.71 395.09 L457.4 395.23 L458.09 395.38 L458.78 395.52 L459.47 395.66 L460.16 395.8 L460.84 395.94 L461.53 396.08 L462.22 396.22 L462.91 396.36 L463.6 396.5 L464.29 396.64 L464.98 396.77 L465.67 396.91 L466.36 397.05 L467.05 397.19 L467.74 397.33 L468.43 397.46 L469.12 397.6 L469.8 397.74 L470.49 397.88 L471.18 398.01 L471.87 398.15 L472.56 398.28 L473.25 398.42 L473.94 398.56 L474.63 398.69 L475.32 398.83 L476.01 398.96 L476.7 399.1 L477.39 399.23 L478.08 399.37 L478.76 399.5 L479.45 399.64 L480.14 399.77 L480.83 399.91 L481.52 400.04 L482.21 400.17 L482.9 400.31" fill="none" stroke="#fff" stroke-width="3.6" stroke-linejoin="round"/>
<path d="M70.05 431.29 L70.74 431.25 L71.43 431.21 L72.12 431.17 L72.81 431.13 L73.5 431.1 L74.19 431.06 L74.87 431.02 L75.56 430.99 L76.25 430.95 L76.94 430.92 L77.63 430.88 L78.32 430.84 L79.01 430.81 L79.7 430.77 L80.39 430.73 L81.08 430.7 L81.77 430.66 L82.46 430.62 L83.15 430.58 L83.83 430.54 L84.52 430.5 L85.21 430.45 L85.9 430.41 L86.59 430.36 L87.28 430.31 L87.97 430.26 L88.66 430.21 L89.35 430.16 L90.04 430.11 L90.73 430.06 L91.42 430.01 L92.11 429.96 L92.79 429.91 L93.48 429.85 L94.17 429.79 L94.86 429.73 L95.55 429.66 L96.24 429.59 L96.93 429.5 L97.62 429.41 L98.31 429.31 L99 429.2 L99.69 429.08 L100.38 428.93 L101.07 428.72 L101.75 428.38 L102.44 427.92 L103.13 427.34 L103.82 426.64 L104.51 425.81 L105.2 424.82 L105.89 423.67 L106.58 422.32 L107.27 420.74 L107.96 418.89 L108.65 416.71 L109.34 414.15 L110.03 411.14 L110.71 407.63 L111.4 403.55 L112.09 398.84 L112.78 393.46 L113.47 387.38 L114.16 380.6 L114.85 373.09 L115.54 364.91 L116.23 356.12 L116.92 346.87 L117.61 337.32 L118.3 327.67 L118.99 318.17 L119.67 309.06 L120.36 300.6 L121.05 293.07 L121.74 286.7 L122.43 281.69 L123.12 278.19 L123.81 276.32 L124.5 276.1 L125.19 277.48 L125.88 279.98 L126.57 283.1 L127.26 286.76 L127.95 290.78 L128.63 295.01 L129.32 299.25 L130.01 303.3 L130.7 306.99 L131.39 310.16 L132.08 312.69 L132.77 314.52 L133.46 315.61 L134.15 315.99 L134.84 315.74 L135.53 314.78 L136.22 312.67 L136.91 309.46 L137.59 305.27 L138.28 300.24 L138.97 294.53 L139.66 288.33 L140.35 281.85 L141.04 275.27 L141.73 268.81 L142.42 262.67 L143.11 257.02 L143.8 252.05 L144.49 247.89 L145.18 244.67 L145.87 242.46 L146.55 241.34 L147.24 241.28 L147.93 242.2 L148.62 244.06 L149.31 246.79 L150 250.32 L150.69 254.52 L151.38 259.27 L152.07 264.44 L152.76 269.87 L153.45 275.43 L154.14 280.99 L154.83 286.41 L155.51 291.59 L156.2 296.44 L156.89 300.89 L157.58 304.88 L158.27 308.39 L158.96 311.4 L159.65 313.92 L160.34 315.98 L161.03 317.59 L161.72 318.82 L162.41 319.7 L163.1 320.29 L163.79 320.65 L164.47 320.84 L165.16 320.88 L165.85 320.67 L166.54 320.23 L167.23 319.6 L167.92 318.84 L168.61 317.99 L169.3 317.08 L169.99 316.15 L170.68 315.24 L171.37 314.37 L172.06 313.58 L172.75 312.87 L173.43 312.28 L174.12 311.84 L174.81 311.55 L175.5 311.44 L176.19 311.46 L176.88 311.51 L177.57 311.58 L178.26 311.68 L178.95 311.79 L179.64 311.91 L180.33 312.05 L181.02 312.19 L181.71 312.34 L182.39 312.49 L183.08 312.64 L183.77 312.78 L184.46 312.92 L185.15 313.04 L185.84 313.15 L186.53 313.24 L187.22 313.31 L187.91 313.35 L188.6 313.36 L189.29 313.35 L189.98 313.32 L190.67 313.28 L191.35 313.23 L192.04 313.16 L192.73 313.09 L193.42 313 L194.11 312.91 L194.8 312.81 L195.49 312.7 L196.18 312.59 L196.87 312.46 L197.56 312.33 L198.25 312.2 L198.94 312.07 L199.63 311.95 L200.31 311.83 L201 311.72 L201.69 311.63 L202.38 311.55 L203.07 311.49 L203.76 311.44 L204.45 311.42 L205.14 311.41 L205.83 311.42 L206.52 311.44 L207.21 311.48 L207.9 311.54 L208.59 311.61 L209.27 311.68 L209.96 311.76 L210.65 311.85 L211.34 311.94 L212.03 312.04 L212.72 312.13 L213.41 312.23 L214.1 312.33 L214.79 312.43 L215.48 312.53 L216.17 312.62 L216.86 312.72 L217.55 312.81 L218.23 312.9 L218.92 313 L219.61 313.1 L220.3 313.21 L220.99 313.31 L221.68 313.42 L222.37 313.54 L223.06 313.65 L223.75 313.77 L224.44 313.9 L225.13 314.02 L225.82 314.15 L226.51 314.28 L227.19 314.42 L227.88 314.56 L228.57 314.7 L229.26 314.85 L229.95 315 L230.64 315.15 L231.33 315.3 L232.02 315.46 L232.71 315.62 L233.4 315.79 L234.09 315.96 L234.78 316.13 L235.47 316.31 L236.15 316.49 L236.84 316.67 L237.53 316.85 L238.22 317.04 L238.91 317.24 L239.6 317.43 L240.29 317.63 L240.98 317.84 L241.67 318.04 L242.36 318.25 L243.05 318.47 L243.74 318.68 L244.43 318.9 L245.11 319.13 L245.8 319.36 L246.49 319.59 L247.18 319.82 L247.87 320.06 L248.56 320.3 L249.25 320.55 L249.94 320.8 L250.63 321.05 L251.32 321.3 L252.01 321.56 L252.7 321.82 L253.39 322.09 L254.07 322.36 L254.76 322.63 L255.45 322.9 L256.14 323.18 L256.83 323.46 L257.52 323.74 L258.21 324.02 L258.9 324.31 L259.59 324.6 L260.28 324.89 L260.97 325.19 L261.66 325.48 L262.35 325.78 L263.03 326.08 L263.72 326.39 L264.41 326.69 L265.1 327 L265.79 327.31 L266.48 327.63 L267.17 327.94 L267.86 328.26 L268.55 328.58 L269.24 328.9 L269.93 329.22 L270.62 329.54 L271.31 329.87 L271.99 330.19 L272.68 330.52 L273.37 330.85 L274.06 331.18 L274.75 331.52 L275.44 331.85 L276.13 332.19 L276.82 332.52 L277.51 332.86 L278.2 333.2 L278.89 333.54 L279.58 333.88 L280.27 334.22 L280.96 334.57 L281.64 334.91 L282.33 335.25 L283.02 335.6 L283.71 335.95 L284.4 336.29 L285.09 336.64 L285.78 336.99 L286.47 337.33 L287.16 337.68 L287.85 338.03 L288.54 338.38 L289.23 338.73 L289.92 339.08 L290.6 339.43 L291.29 339.78 L291.98 340.13 L292.67 340.48 L293.36 340.83 L294.05 341.18 L294.74 341.53 L295.43 341.88 L296.12 342.23 L296.81 342.57 L297.5 342.92 L298.19 343.27 L298.88 343.62 L299.56 343.96 L300.25 344.31 L300.94 344.65 L301.63 345 L302.32 345.34 L303.01 345.69 L303.7 346.03 L304.39 346.37 L305.08 346.71 L305.77 347.05 L306.46 347.38 L307.15 347.72 L307.84 348.06 L308.52 348.39 L309.21 348.72 L309.9 349.05 L310.59 349.38 L311.28 349.71 L311.97 350.04 L312.66 350.37 L313.35 350.69 L314.04 351.01 L314.73 351.33 L315.42 351.65 L316.11 351.97 L316.8 352.29 L317.48 352.6 L318.17 352.92 L318.86 353.23 L319.55 353.54 L320.24 353.85 L320.93 354.16 L321.62 354.47 L322.31 354.78 L323 355.08 L323.69 355.38 L324.38 355.69 L325.07 355.99 L325.76 356.29 L326.44 356.58 L327.13 356.88 L327.82 357.18 L328.51 357.47 L329.2 357.76 L329.89 358.05 L330.58 358.34 L331.27 358.63 L331.96 358.92 L332.65 359.21 L333.34 359.49 L334.03 359.77 L334.72 360.06 L335.4 360.34 L336.09 360.62 L336.78 360.9 L337.47 361.17 L338.16 361.45 L338.85 361.72 L339.54 362 L340.23 362.27 L340.92 362.54 L341.61 362.81 L342.3 363.08 L342.99 363.35 L343.68 363.61 L344.36 363.88 L345.05 364.14 L345.74 364.41 L346.43 364.67 L347.12 364.93 L347.81 365.19 L348.5 365.45 L349.19 365.7 L349.88 365.96 L350.57 366.21 L351.26 366.47 L351.95 366.72 L352.64 366.97 L353.32 367.22 L354.01 367.47 L354.7 367.72 L355.39 367.97 L356.08 368.21 L356.77 368.46 L357.46 368.7 L358.15 368.94 L358.84 369.18 L359.53 369.42 L360.22 369.66 L360.91 369.9 L361.6 370.14 L362.28 370.37 L362.97 370.61 L363.66 370.84 L364.35 371.08 L365.04 371.31 L365.73 371.54 L366.42 371.77 L367.11 372 L367.8 372.22 L368.49 372.45 L369.18 372.68 L369.87 372.9 L370.56 373.13 L371.24 373.35 L371.93 373.57 L372.62 373.79 L373.31 374.01 L374 374.23 L374.69 374.45 L375.38 374.67 L376.07 374.88 L376.76 375.1 L377.45 375.31 L378.14 375.52 L378.83 375.74 L379.52 375.95 L380.2 376.16 L380.89 376.37 L381.58 376.58 L382.27 376.79 L382.96 376.99 L383.65 377.2 L384.34 377.4 L385.03 377.61 L385.72 377.81 L386.41 378.01 L387.1 378.22 L387.79 378.42 L388.48 378.62 L389.16 378.82 L389.85 379.01 L390.54 379.21 L391.23 379.41 L391.92 379.6 L392.61 379.8 L393.3 379.99 L393.99 380.19 L394.68 380.38 L395.37 380.57 L396.06 380.76 L396.75 380.95 L397.44 381.14 L398.12 381.33 L398.81 381.52 L399.5 381.7 L400.19 381.89 L400.88 382.08 L401.57 382.26 L402.26 382.45 L402.95 382.63 L403.64 382.81 L404.33 382.99 L405.02 383.17 L405.71 383.35 L406.4 383.53 L407.08 383.71 L407.77 383.89 L408.46 384.07 L409.15 384.25 L409.84 384.42 L410.53 384.6 L411.22 384.77 L411.91 384.95 L412.6 385.12 L413.29 385.29 L413.98 385.47 L414.67 385.64 L415.36 385.81 L416.04 385.98 L416.73 386.15 L417.42 386.32 L418.11 386.49 L418.8 386.65 L419.49 386.82 L420.18 386.99 L420.87 387.15 L421.56 387.32 L422.25 387.48 L422.94 387.65 L423.63 387.81 L424.32 387.98 L425 388.14 L425.69 388.3 L426.38 388.46 L427.07 388.62 L427.76 388.78 L428.45 388.94 L429.14 389.1 L429.83 389.26 L430.52 389.42 L431.21 389.58 L431.9 389.73 L432.59 389.89 L433.28 390.05 L433.96 390.2 L434.65 390.36 L435.34 390.51 L436.03 390.67 L436.72 390.82 L437.41 390.97 L438.1 391.12 L438.79 391.28 L439.48 391.43 L440.17 391.58 L440.86 391.73 L441.55 391.88 L442.24 392.03 L442.92 392.18 L443.61 392.33 L444.3 392.48 L444.99 392.63 L445.68 392.78 L446.37 392.92 L447.06 393.07 L447.75 393.22 L448.44 393.36 L449.13 393.51 L449.82 393.66 L450.51 393.8 L451.2 393.95 L451.88 394.09 L452.57 394.23 L453.26 394.38 L453.95 394.52 L454.64 394.66 L455.33 394.81 L456.02 394.95 L456.71 395.09 L457.4 395.23 L458.09 395.38 L458.78 395.52 L459.47 395.66 L460.16 395.8 L460.84 395.94 L461.53 396.08 L462.22 396.22 L462.91 396.36 L463.6 396.5 L464.29 396.64 L464.98 396.77 L465.67 396.91 L466.36 397.05 L467.05 397.19 L467.74 397.33 L468.43 397.46 L469.12 397.6 L469.8 397.74 L470.49 397.88 L471.18 398.01 L471.87 398.15 L472.56 398.28 L473.25 398.42 L473.94 398.56 L474.63 398.69 L475.32 398.83 L476.01 398.96 L476.7 399.1 L477.39 399.23 L478.08 399.37 L478.76 399.5 L479.45 399.64 L480.14 399.77 L480.83 399.91 L481.52 400.04 L482.21 400.17 L482.9 400.31" fill="none" stroke="#f5000f" stroke-width="2.2" stroke-linejoin="round"/>
<rect x="64.7" y="225.6" width="423.5" height="215.6" fill="none" stroke="#3c3c3c" stroke-width="1.5"/>
<text x="59.6" y="443.1" font-size="20.4" text-anchor="end" fill="#000">0.0</text><text x="59.6" y="369.3" font-size="20.4" text-anchor="end" fill="#000">0.5</text><text x="59.6" y="295.5" font-size="20.4" text-anchor="end" fill="#000">1.0</text>
<text x="123.9" y="460.8" font-size="20.4" text-anchor="middle" fill="#000">0.0</text><text x="195.7" y="460.8" font-size="20.4" text-anchor="middle" fill="#000">0.2</text><text x="267.5" y="460.8" font-size="20.4" text-anchor="middle" fill="#000">0.4</text><text x="339.3" y="460.8" font-size="20.4" text-anchor="middle" fill="#000">0.6</text><text x="411.1" y="460.8" font-size="20.4" text-anchor="middle" fill="#000">0.8</text><text x="482.9" y="460.8" font-size="20.4" text-anchor="middle" fill="#000">1.0</text>
<text x="71.6" y="260" font-size="20.75" fill="#f4727c" text-anchor="start">Elastic</text>
<text x="155" y="250" font-size="20.35" fill="#6f97f5" text-anchor="start">Phonon</text>
<text x="195" y="270" font-size="20.35" fill="#f568dc" text-anchor="start">2-Phonon</text>
<text x="329" y="289.8" font-size="20.35" fill="#fba379" text-anchor="start">Paramagnon</text>
<text x="309.6" y="434.8" font-size="20.35" fill="#000" text-anchor="start">Background</text>
<line x1="101" y1="265.5" x2="115.01" y2="279.73" stroke="#f4727c" stroke-width="1.15"/><polygon points="120.2,285 112.53,280.77 116.09,277.26" fill="#f4727c"/>
<line x1="184.9" y1="257.1" x2="164.97" y2="281.56" stroke="#6f97f5" stroke-width="1.15"/><polygon points="160.3,287.3 163.67,279.21 167.54,282.37" fill="#6f97f5"/>
<line x1="234" y1="275" x2="185.98" y2="303.25" stroke="#f568dc" stroke-width="1.15"/><polygon points="179.6,307 185.57,300.59 188.11,304.9" fill="#f568dc"/>
<line x1="328.5" y1="292.5" x2="261.97" y2="316.31" stroke="#fba379" stroke-width="1.15"/><polygon points="255,318.8 262.07,313.62 263.75,318.32" fill="#fba379"/>
<text x="463.9" y="251.8" font-size="26.5" fill="#000" text-anchor="start" font-weight="bold">B</text>
</g>
<line x1="87.4" y1="438.5" x2="65.1" y2="471.6" stroke="#f99b40" stroke-width="1.5" stroke-dasharray="7.5 4.5"/>
<line x1="231" y1="438.5" x2="488.4" y2="471.6" stroke="#f99b40" stroke-width="1.5" stroke-dasharray="7.5 4.5"/>
<g id="panelC">
<line x1="70.5" y1="688.3" x2="70.5" y2="674.8" stroke="#f99b40" stroke-width="1.3"/><line x1="139.4" y1="688.3" x2="139.4" y2="674.8" stroke="#f99b40" stroke-width="1.3"/><line x1="208.3" y1="688.3" x2="208.3" y2="674.8" stroke="#f99b40" stroke-width="1.3"/><line x1="277.2" y1="688.3" x2="277.2" y2="674.8" stroke="#f99b40" stroke-width="1.3"/><line x1="346.1" y1="688.3" x2="346.1" y2="674.8" stroke="#f99b40" stroke-width="1.3"/><line x1="415" y1="688.3" x2="415" y2="674.8" stroke="#f99b40" stroke-width="1.3"/><line x1="483.9" y1="688.3" x2="483.9" y2="674.8" stroke="#f99b40" stroke-width="1.3"/><line x1="65.1" y1="683" x2="79.2" y2="683" stroke="#f99b40" stroke-width="1.3"/><line x1="65.1" y1="609.3" x2="79.2" y2="609.3" stroke="#f99b40" stroke-width="1.3"/><line x1="65.1" y1="535.6" x2="79.2" y2="535.6" stroke="#f99b40" stroke-width="1.3"/>
<path d="M70.5 683 L70.5 683 L71.54 683 L72.58 683 L73.62 683 L74.66 683 L75.7 683 L76.74 683 L77.78 683 L78.82 683 L79.86 683 L80.9 683 L81.94 683 L82.98 683 L84.02 683 L85.06 683 L86.1 683 L87.14 683 L88.18 683 L89.22 683 L90.26 683 L91.3 683 L92.34 683 L93.38 683 L94.42 683 L95.46 683 L96.5 683 L97.54 683 L98.58 683 L99.62 683 L100.66 683 L101.7 683 L102.74 683 L103.78 683 L104.82 683 L105.86 683 L106.9 683 L107.94 683 L108.98 683 L110.02 683 L111.06 683 L112.1 683 L113.14 683 L114.18 683 L115.22 683 L116.26 683 L117.3 683 L118.33 683 L119.37 683 L120.41 683 L121.45 683 L122.49 683 L123.53 683 L124.57 683 L125.61 683 L126.65 683 L127.69 683 L128.73 683 L129.77 683 L130.81 683 L131.85 683 L132.89 683 L133.93 683 L134.97 683 L136.01 683 L137.05 683 L138.09 683 L139.13 683 L140.17 683 L141.21 683 L142.25 683 L143.29 683 L144.33 683 L145.37 683 L146.41 683 L147.45 683 L148.49 683 L149.53 683 L150.57 683 L151.61 683 L152.65 683 L153.69 683 L154.73 683 L155.77 683 L156.81 683 L157.85 683 L158.89 683 L159.93 683 L160.97 683 L162.01 683 L163.05 683 L164.09 683 L165.13 683 L166.17 683 L167.21 683 L168.25 682.99 L169.29 682.95 L170.33 682.9 L171.37 682.84 L172.41 682.75 L173.45 682.66 L174.49 682.54 L175.53 682.41 L176.57 682.27 L177.61 682.11 L178.65 681.95 L179.69 681.77 L180.73 681.57 L181.77 681.37 L182.81 681.16 L183.85 680.93 L184.89 680.7 L185.93 680.46 L186.97 680.21 L188.01 679.95 L189.05 679.62 L190.09 679.2 L191.13 678.69 L192.17 678.1 L193.21 677.43 L194.25 676.69 L195.29 675.88 L196.33 675 L197.37 674.05 L198.41 673.04 L199.45 671.97 L200.49 670.85 L201.53 669.67 L202.57 668.45 L203.61 667.18 L204.65 665.87 L205.69 664.52 L206.73 663.13 L207.77 661.71 L208.81 660.26 L209.85 658.59 L210.89 656.44 L211.92 654.08 L212.96 651.78 L214 649.61 L215.04 647.35 L216.08 645.08 L217.12 642.88 L218.16 640.82 L219.2 638.97 L220.24 637.36 L221.28 635.85 L222.32 634.42 L223.36 633.07 L224.4 631.77 L225.44 630.53 L226.48 629.34 L227.52 628.18 L228.56 627.06 L229.6 625.95 L230.64 624.86 L231.68 623.77 L232.72 622.67 L233.76 621.57 L234.8 620.45 L235.84 619.33 L236.88 618.21 L237.92 617.12 L238.96 616.05 L240 615.02 L241.04 614.03 L242.08 613.1 L243.12 612.23 L244.16 611.41 L245.2 610.62 L246.24 609.86 L247.28 609.13 L248.32 608.42 L249.36 607.74 L250.4 607.07 L251.44 606.43 L252.48 605.8 L253.52 605.18 L254.56 604.58 L255.6 603.98 L256.64 603.38 L257.68 602.78 L258.72 602.19 L259.76 601.61 L260.8 601.06 L261.84 600.54 L262.88 600.06 L263.92 599.62 L264.96 599.24 L266 598.9 L267.04 598.57 L268.08 598.25 L269.12 597.94 L270.16 597.65 L271.2 597.37 L272.24 597.11 L273.28 596.87 L274.32 596.65 L275.36 596.45 L276.4 596.28 L277.44 596.14 L278.48 596.02 L279.52 595.91 L280.56 595.8 L281.6 595.7 L282.64 595.61 L283.68 595.52 L284.72 595.45 L285.76 595.38 L286.8 595.34 L287.84 595.31 L288.88 595.3 L289.92 595.31 L290.96 595.34 L292 595.39 L293.04 595.46 L294.08 595.54 L295.12 595.64 L296.16 595.76 L297.2 595.89 L298.24 596.03 L299.28 596.18 L300.32 596.34 L301.36 596.51 L302.4 596.69 L303.44 596.87 L304.48 597.06 L305.51 597.25 L306.55 597.44 L307.59 597.63 L308.63 597.83 L309.67 598.01 L310.71 598.2 L311.75 598.39 L312.79 598.59 L313.83 598.8 L314.87 599.02 L315.91 599.25 L316.95 599.49 L317.99 599.74 L319.03 600 L320.07 600.26 L321.11 600.53 L322.15 600.81 L323.19 601.1 L324.23 601.39 L325.27 601.68 L326.31 601.98 L327.35 602.28 L328.39 602.59 L329.43 602.9 L330.47 603.21 L331.51 603.52 L332.55 603.83 L333.59 604.15 L334.63 604.49 L335.67 604.83 L336.71 605.17 L337.75 605.53 L338.79 605.89 L339.83 606.26 L340.87 606.63 L341.91 607.01 L342.95 607.39 L343.99 607.77 L345.03 608.16 L346.07 608.55 L347.11 608.94 L348.15 609.34 L349.19 609.73 L350.23 610.13 L351.27 610.52 L352.31 610.92 L353.35 611.31 L354.39 611.7 L355.43 612.1 L356.47 612.5 L357.51 612.9 L358.55 613.31 L359.59 613.71 L360.63 614.12 L361.67 614.53 L362.71 614.95 L363.75 615.36 L364.79 615.78 L365.83 616.2 L366.87 616.63 L367.91 617.05 L368.95 617.49 L369.99 617.92 L371.03 618.35 L372.07 618.79 L373.11 619.23 L374.15 619.68 L375.19 620.13 L376.23 620.58 L377.27 621.04 L378.31 621.51 L379.35 621.98 L380.39 622.45 L381.43 622.92 L382.47 623.4 L383.51 623.88 L384.55 624.37 L385.59 624.86 L386.63 625.35 L387.67 625.84 L388.71 626.33 L389.75 626.83 L390.79 627.33 L391.83 627.83 L392.87 628.33 L393.91 628.83 L394.95 629.33 L395.99 629.83 L397.03 630.33 L398.07 630.83 L399.1 631.34 L400.14 631.84 L401.18 632.34 L402.22 632.83 L403.26 633.33 L404.3 633.83 L405.34 634.32 L406.38 634.81 L407.42 635.3 L408.46 635.79 L409.5 636.28 L410.54 636.76 L411.58 637.23 L412.62 637.71 L413.66 638.18 L414.7 638.65 L415.74 639.11 L416.78 639.58 L417.82 640.05 L418.86 640.52 L419.9 640.99 L420.94 641.47 L421.98 641.94 L423.02 642.42 L424.06 642.89 L425.1 643.37 L426.14 643.84 L427.18 644.32 L428.22 644.79 L429.26 645.26 L430.3 645.73 L431.34 646.19 L432.38 646.66 L433.42 647.12 L434.46 647.57 L435.5 648.03 L436.54 648.47 L437.58 648.92 L438.62 649.35 L439.66 649.79 L440.7 650.21 L441.74 650.63 L442.78 651.05 L443.82 651.45 L444.86 651.85 L445.9 652.25 L446.94 652.63 L447.98 653 L449.02 653.37 L450.06 653.73 L451.1 654.09 L452.14 654.44 L453.18 654.79 L454.22 655.14 L455.26 655.49 L456.3 655.83 L457.34 656.17 L458.38 656.51 L459.42 656.84 L460.46 657.18 L461.5 657.51 L462.54 657.84 L463.58 658.16 L464.62 658.48 L465.66 658.8 L466.7 659.11 L467.74 659.42 L468.78 659.73 L469.82 660.04 L470.86 660.34 L471.9 660.63 L472.94 660.93 L473.98 661.22 L475.02 661.5 L476.06 661.78 L477.1 662.06 L478.14 662.34 L479.18 662.61 L480.22 662.87 L481.26 663.13 L482.3 663.39 L483.34 663.64 L484.38 663.89 L485.42 664.13 L485.42 683 Z" fill="#fbb596"/>
<path d="M70.5 683 L70.5 683 L71.54 683 L72.58 683 L73.62 683 L74.66 683 L75.7 683 L76.74 683 L77.78 683 L78.82 683 L79.86 683 L80.9 683 L81.94 683 L82.98 683 L84.02 683 L85.06 683 L86.1 683 L87.14 683 L88.18 683 L89.22 683 L90.26 683 L91.3 683 L92.34 683 L93.38 683 L94.42 683 L95.46 683 L96.5 683 L97.54 683 L98.58 683 L99.62 683 L100.66 683 L101.7 683 L102.74 683 L103.78 683 L104.82 683 L105.86 683 L106.9 683 L107.94 683 L108.98 683 L110.02 683 L111.06 683 L112.1 683 L113.14 683 L114.18 683 L115.22 683 L116.26 683 L117.3 683 L118.33 683 L119.37 683 L120.41 683 L121.45 683 L122.49 683 L123.53 683 L124.57 683 L125.61 683 L126.65 683 L127.69 683 L128.73 683 L129.77 683 L130.81 683 L131.85 683 L132.89 683 L133.93 683 L134.97 683 L136.01 683 L137.05 683 L138.09 683 L139.13 683 L140.17 683 L141.21 683 L142.25 683 L143.29 683 L144.33 683 L145.37 683 L146.41 683 L147.45 683 L148.49 683 L149.53 683 L150.57 683 L151.61 683 L152.65 683 L153.69 683 L154.73 683 L155.77 683 L156.81 683 L157.85 683 L158.89 683 L159.93 683 L160.97 683 L162.01 683 L163.05 683 L164.09 683 L165.13 683 L166.17 683 L167.21 683 L168.25 683 L169.29 683 L170.33 683 L171.37 683 L172.41 683 L173.45 683 L174.49 683 L175.53 683 L176.57 683 L177.61 683 L178.65 683 L179.69 683 L180.73 683 L181.77 683 L182.81 683 L183.85 683 L184.89 683 L185.93 683 L186.97 683 L188.01 683 L189.05 683 L190.09 683 L191.13 683 L192.17 683 L193.21 683 L194.25 683 L195.29 683 L196.33 683 L197.37 683 L198.41 683 L199.45 683 L200.49 683 L201.53 683 L202.57 683 L203.61 683 L204.65 683 L205.69 683 L206.73 683 L207.77 683 L208.81 683 L209.85 683 L210.89 683 L211.92 683 L212.96 683 L214 683 L215.04 683 L216.08 683 L217.12 683 L218.16 683 L219.2 683 L220.24 683 L221.28 683 L222.32 683 L223.36 683 L224.4 683 L225.44 683 L226.48 683 L227.52 683 L228.56 683 L229.6 683 L230.64 683 L231.68 683 L232.72 683 L233.76 683 L234.8 683 L235.84 683 L236.88 683 L237.92 683 L238.96 683 L240 683 L241.04 683 L242.08 683 L243.12 683 L244.16 683 L245.2 683 L246.24 683 L247.28 683 L248.32 683 L249.36 683 L250.4 683 L251.44 683 L252.48 683 L253.52 683 L254.56 683 L255.6 683 L256.64 683 L257.68 683 L258.72 683 L259.76 683 L260.8 683 L261.84 683 L262.88 683 L263.92 683 L264.96 682.98 L266 682.95 L267.04 682.9 L268.08 682.84 L269.12 682.76 L270.16 682.67 L271.2 682.56 L272.24 682.44 L273.28 682.31 L274.32 682.17 L275.36 682.01 L276.4 681.85 L277.44 681.67 L278.48 681.48 L279.52 681.28 L280.56 681.07 L281.6 680.86 L282.64 680.63 L283.68 680.4 L284.72 680.16 L285.76 679.91 L286.8 679.66 L287.84 679.4 L288.88 679.13 L289.92 678.86 L290.96 678.58 L292 678.27 L293.04 677.9 L294.08 677.46 L295.12 676.96 L296.16 676.41 L297.2 675.81 L298.24 675.17 L299.28 674.48 L300.32 673.75 L301.36 672.98 L302.4 672.18 L303.44 671.36 L304.48 670.51 L305.51 669.64 L306.55 668.76 L307.59 667.86 L308.63 666.95 L309.67 666.04 L310.71 665.12 L311.75 664.21 L312.79 663.3 L313.83 662.38 L314.87 661.38 L315.91 660.31 L316.95 659.18 L317.99 658 L319.03 656.79 L320.07 655.54 L321.11 654.27 L322.15 652.99 L323.19 651.71 L324.23 650.44 L325.27 649.19 L326.31 647.96 L327.35 646.77 L328.39 645.62 L329.43 644.54 L330.47 643.51 L331.51 642.57 L332.55 641.67 L333.59 640.79 L334.63 639.92 L335.67 639.06 L336.71 638.21 L337.75 637.38 L338.79 636.56 L339.83 635.76 L340.87 634.98 L341.91 634.21 L342.95 633.47 L343.99 632.75 L345.03 632.05 L346.07 631.38 L347.11 630.73 L348.15 630.11 L349.19 629.51 L350.23 628.95 L351.27 628.41 L352.31 627.91 L353.35 627.44 L354.39 626.98 L355.43 626.53 L356.47 626.09 L357.51 625.67 L358.55 625.26 L359.59 624.86 L360.63 624.47 L361.67 624.1 L362.71 623.74 L363.75 623.39 L364.79 623.05 L365.83 622.72 L366.87 622.41 L367.91 622.1 L368.95 621.81 L369.99 621.54 L371.03 621.27 L372.07 621.02 L373.11 620.77 L374.15 620.54 L375.19 620.31 L376.23 620.07 L377.27 619.83 L378.31 619.6 L379.35 619.36 L380.39 619.13 L381.43 618.91 L382.47 618.69 L383.51 618.48 L384.55 618.28 L385.59 618.1 L386.63 617.92 L387.67 617.77 L388.71 617.63 L389.75 617.51 L390.79 617.41 L391.83 617.34 L392.87 617.29 L393.91 617.26 L394.95 617.26 L395.99 617.27 L397.03 617.29 L398.07 617.32 L399.1 617.35 L400.14 617.4 L401.18 617.45 L402.22 617.5 L403.26 617.56 L404.3 617.63 L405.34 617.7 L406.38 617.78 L407.42 617.86 L408.46 617.94 L409.5 618.03 L410.54 618.12 L411.58 618.21 L412.62 618.3 L413.66 618.39 L414.7 618.49 L415.74 618.58 L416.78 618.69 L417.82 618.8 L418.86 618.93 L419.9 619.07 L420.94 619.22 L421.98 619.37 L423.02 619.54 L424.06 619.71 L425.1 619.89 L426.14 620.08 L427.18 620.28 L428.22 620.48 L429.26 620.7 L430.3 620.91 L431.34 621.14 L432.38 621.37 L433.42 621.6 L434.46 621.85 L435.5 622.09 L436.54 622.34 L437.58 622.6 L438.62 622.86 L439.66 623.12 L440.7 623.39 L441.74 623.65 L442.78 623.93 L443.82 624.2 L444.86 624.48 L445.9 624.75 L446.94 625.03 L447.98 625.31 L449.02 625.59 L450.06 625.87 L451.1 626.15 L452.14 626.43 L453.18 626.71 L454.22 626.98 L455.26 627.26 L456.3 627.53 L457.34 627.81 L458.38 628.08 L459.42 628.37 L460.46 628.66 L461.5 628.96 L462.54 629.26 L463.58 629.57 L464.62 629.89 L465.66 630.21 L466.7 630.53 L467.74 630.86 L468.78 631.19 L469.82 631.53 L470.86 631.86 L471.9 632.2 L472.94 632.54 L473.98 632.89 L475.02 633.23 L476.06 633.57 L477.1 633.91 L478.14 634.26 L479.18 634.6 L480.22 634.94 L481.26 635.28 L482.3 635.61 L483.34 635.95 L484.38 636.28 L485.42 636.61 L485.42 683 Z" fill="#ffee86"/>
<path d="M70.5 683 L70.5 683 L71.02 683 L71.54 683 L72.06 683 L72.58 683 L73.1 683 L73.62 683 L74.14 683 L74.65 683 L75.17 683 L75.69 683 L76.21 683 L76.73 683 L77.25 683 L77.77 683 L78.29 683 L78.81 683 L79.33 683 L79.85 683 L80.37 683 L80.89 683 L81.41 683 L81.92 682.99 L82.44 682.99 L82.96 682.99 L83.48 682.99 L84 682.99 L84.52 682.99 L85.04 682.99 L85.56 682.98 L86.08 682.98 L86.6 682.98 L87.12 682.97 L87.64 682.97 L88.16 682.96 L88.68 682.95 L89.19 682.95 L89.71 682.94 L90.23 682.93 L90.75 682.91 L91.27 682.9 L91.79 682.88 L92.31 682.86 L92.83 682.84 L93.35 682.82 L93.87 682.79 L94.39 682.76 L94.91 682.72 L95.43 682.68 L95.95 682.63 L96.46 682.58 L96.98 682.52 L97.5 682.45 L98.02 682.38 L98.54 682.29 L99.06 682.19 L99.58 682.08 L100.1 681.96 L100.62 681.83 L101.14 681.68 L101.66 681.51 L102.18 681.33 L102.7 681.12 L103.22 680.89 L103.73 680.64 L104.25 680.37 L104.77 680.06 L105.29 679.73 L105.81 679.36 L106.33 678.96 L106.85 678.52 L107.37 678.05 L107.89 677.53 L108.41 676.97 L108.93 676.36 L109.45 675.7 L109.97 674.99 L110.49 674.22 L111 673.39 L111.52 672.51 L112.04 671.56 L112.56 670.55 L113.08 669.47 L113.6 668.31 L114.12 667.09 L114.64 665.79 L115.16 664.42 L115.68 662.97 L116.2 661.44 L116.72 659.84 L117.24 658.15 L117.76 656.38 L118.28 654.54 L118.79 652.62 L119.31 650.62 L119.83 648.54 L120.35 646.39 L120.87 644.17 L121.39 641.89 L121.91 639.54 L122.43 637.12 L122.95 634.66 L123.47 632.14 L123.99 629.58 L124.51 626.99 L125.03 624.36 L125.55 621.71 L126.06 619.04 L126.58 616.37 L127.1 613.69 L127.62 611.03 L128.14 608.38 L128.66 605.77 L129.18 603.19 L129.7 600.66 L130.22 598.19 L130.74 595.78 L131.26 593.46 L131.78 591.22 L132.3 589.07 L132.82 587.04 L133.33 585.12 L133.85 583.32 L134.37 581.66 L134.89 580.13 L135.41 578.75 L135.93 577.53 L136.45 576.46 L136.97 575.56 L137.49 574.83 L138.01 574.27 L138.53 573.88 L139.05 573.67 L139.57 573.64 L140.09 573.78 L140.6 574.11 L141.12 574.61 L141.64 575.28 L142.16 576.12 L142.68 577.13 L143.2 578.29 L143.72 579.62 L144.24 581.09 L144.76 582.71 L145.28 584.46 L145.8 586.33 L146.32 588.33 L146.84 590.43 L147.36 592.64 L147.87 594.93 L148.39 597.31 L148.91 599.76 L149.43 602.27 L149.95 604.83 L150.47 607.44 L150.99 610.07 L151.51 612.73 L152.03 615.4 L152.55 618.08 L153.07 620.75 L153.59 623.41 L154.11 626.04 L154.63 628.65 L155.14 631.23 L155.66 633.76 L156.18 636.24 L156.7 638.67 L157.22 641.05 L157.74 643.36 L158.26 645.6 L158.78 647.78 L159.3 649.88 L159.82 651.91 L160.34 653.86 L160.86 655.73 L161.38 657.52 L161.9 659.24 L162.42 660.87 L162.93 662.43 L163.45 663.91 L163.97 665.31 L164.49 666.63 L165.01 667.88 L165.53 669.06 L166.05 670.16 L166.57 671.2 L167.09 672.17 L167.61 673.08 L168.13 673.93 L168.65 674.72 L169.17 675.45 L169.69 676.13 L170.2 676.75 L170.72 677.33 L171.24 677.87 L171.76 678.36 L172.28 678.81 L172.8 679.22 L173.32 679.6 L173.84 679.95 L174.36 680.26 L174.88 680.55 L175.4 680.81 L175.92 681.04 L176.44 681.25 L176.96 681.45 L177.47 681.62 L177.99 681.78 L178.51 681.92 L179.03 682.04 L179.55 682.16 L180.07 682.26 L180.59 682.35 L181.11 682.43 L181.63 682.5 L182.15 682.56 L182.67 682.61 L183.19 682.66 L183.71 682.71 L184.23 682.75 L184.74 682.78 L185.26 682.81 L185.78 682.83 L186.3 682.86 L186.82 682.88 L187.34 682.89 L187.86 682.91 L188.38 682.92 L188.9 682.93 L189.42 682.94 L189.94 682.95 L190.46 682.96 L190.98 682.96 L191.5 682.97 L192.01 682.97 L192.53 682.98 L193.05 682.98 L193.57 682.98 L194.09 682.99 L194.61 682.99 L195.13 682.99 L195.65 682.99 L196.17 682.99 L196.69 682.99 L197.21 683 L197.73 683 L198.25 683 L198.77 683 L199.28 683 L199.8 683 L200.32 683 L200.84 683 L201.36 683 L201.88 683 L202.4 683 L202.92 683 L203.44 683 L203.96 683 L204.48 683 L205 683 L205.52 683 L206.04 683 L206.55 683 L207.07 683 L207.59 683 L208.11 683 L208.63 683 L209.15 683 L209.67 683 L210.19 683 L210.71 683 L211.23 683 L211.75 683 L212.27 683 L212.79 683 L213.31 683 L213.83 683 L214.34 683 L214.86 683 L215.38 683 L215.9 683 L216.42 683 L216.94 683 L217.46 683 L217.98 683 L218.5 683 L219.02 683 L219.54 683 L220.06 683 L220.58 683 L221.1 683 L221.61 683 L222.13 683 L222.65 683 L223.17 683 L223.69 683 L224.21 683 L224.73 683 L225.25 683 L225.77 683 L226.29 683 L226.81 683 L227.33 683 L227.85 683 L228.37 683 L228.88 683 L229.4 683 L229.92 683 L230.44 683 L230.96 683 L231.48 683 L232 683 L232.52 683 L233.04 683 L233.56 683 L234.08 683 L234.6 683 L235.12 683 L235.64 683 L236.15 683 L236.67 683 L237.19 683 L237.71 683 L238.23 683 L238.75 683 L239.27 683 L239.79 683 L240.31 683 L240.83 683 L241.35 683 L241.87 683 L242.39 683 L242.91 683 L243.42 683 L243.94 683 L244.46 683 L244.98 683 L245.5 683 L246.02 683 L246.54 683 L247.06 683 L247.58 683 L248.1 683 L248.62 683 L249.14 683 L249.66 683 L250.18 683 L250.69 683 L251.21 683 L251.73 683 L252.25 683 L252.77 683 L253.29 683 L253.81 683 L254.33 683 L254.85 683 L255.37 683 L255.89 683 L256.41 683 L256.93 683 L257.45 683 L257.97 683 L258.48 683 L259 683 L259.52 683 L260.04 683 L260.56 683 L261.08 683 L261.6 683 L262.12 683 L262.64 683 L263.16 683 L263.68 683 L264.2 683 L264.72 683 L265.24 683 L265.75 683 L266.27 683 L266.79 683 L267.31 683 L267.83 683 L268.35 683 L268.87 683 L269.39 683 L269.91 683 L270.43 683 L270.95 683 L271.47 683 L271.99 683 L272.51 683 L273.02 683 L273.54 683 L274.06 683 L274.58 683 L275.1 683 L275.62 683 L276.14 683 L276.66 683 L277.18 683 L277.7 683 L278.22 683 L278.74 683 L279.26 683 L279.78 683 L280.29 683 L280.81 683 L281.33 683 L281.85 683 L282.37 683 L282.89 683 L283.41 683 L283.93 683 L284.45 683 L284.97 683 L285.49 683 L286.01 683 L286.53 683 L287.05 683 L287.56 683 L288.08 683 L288.6 683 L289.12 683 L289.64 683 L290.16 683 L290.68 683 L291.2 683 L291.72 683 L292.24 683 L292.76 683 L293.28 683 L293.8 683 L294.32 683 L294.83 683 L295.35 683 L295.87 683 L296.39 683 L296.91 683 L297.43 683 L297.95 683 L298.47 683 L298.99 683 L299.51 683 L300.03 683 L300.55 683 L301.07 683 L301.59 683 L302.11 683 L302.62 683 L303.14 683 L303.66 683 L304.18 683 L304.7 683 L305.22 683 L305.74 683 L306.26 683 L306.78 683 L307.3 683 L307.82 683 L308.34 683 L308.86 683 L309.38 683 L309.89 683 L310.41 683 L310.93 683 L311.45 683 L311.97 683 L312.49 683 L313.01 683 L313.53 683 L314.05 683 L314.57 683 L315.09 683 L315.61 683 L316.13 683 L316.65 683 L317.16 683 L317.68 683 L318.2 683 L318.72 683 L319.24 683 L319.76 683 L320.28 683 L320.8 683 L321.32 683 L321.84 683 L322.36 683 L322.88 683 L323.4 683 L323.92 683 L324.43 683 L324.95 683 L325.47 683 L325.99 683 L326.51 683 L327.03 683 L327.55 683 L328.07 683 L328.59 683 L329.11 683 L329.63 683 L330.15 683 L330.67 683 L331.19 683 L331.7 683 L332.22 683 L332.74 683 L333.26 683 L333.78 683 L334.3 683 L334.82 683 L335.34 683 L335.86 683 L336.38 683 L336.9 683 L337.42 683 L337.94 683 L338.46 683 L338.97 683 L339.49 683 L340.01 683 L340.53 683 L341.05 683 L341.57 683 L342.09 683 L342.61 683 L343.13 683 L343.65 683 L344.17 683 L344.69 683 L345.21 683 L345.73 683 L346.25 683 L346.76 683 L347.28 683 L347.8 683 L348.32 683 L348.84 683 L349.36 683 L349.88 683 L350.4 683 L350.92 683 L351.44 683 L351.96 683 L352.48 683 L353 683 L353.52 683 L354.03 683 L354.55 683 L355.07 683 L355.59 683 L356.11 683 L356.63 683 L357.15 683 L357.67 683 L358.19 683 L358.71 683 L359.23 683 L359.75 683 L360.27 683 L360.79 683 L361.3 683 L361.82 683 L362.34 683 L362.86 683 L363.38 683 L363.9 683 L364.42 683 L364.94 683 L365.46 683 L365.98 683 L366.5 683 L367.02 683 L367.54 683 L368.06 683 L368.57 683 L369.09 683 L369.61 683 L370.13 683 L370.65 683 L371.17 683 L371.69 683 L372.21 683 L372.73 683 L373.25 683 L373.77 683 L374.29 683 L374.81 683 L375.33 683 L375.84 683 L376.36 683 L376.88 683 L377.4 683 L377.92 683 L378.44 683 L378.96 683 L379.48 683 L380 683 L380.52 683 L381.04 683 L381.56 683 L382.08 683 L382.6 683 L383.11 683 L383.63 683 L384.15 683 L384.67 683 L385.19 683 L385.71 683 L386.23 683 L386.75 683 L387.27 683 L387.79 683 L388.31 683 L388.83 683 L389.35 683 L389.87 683 L390.39 683 L390.9 683 L391.42 683 L391.94 683 L392.46 683 L392.98 683 L393.5 683 L394.02 683 L394.54 683 L395.06 683 L395.58 683 L396.1 683 L396.62 683 L397.14 683 L397.66 683 L398.17 683 L398.69 683 L399.21 683 L399.73 683 L400.25 683 L400.77 683 L401.29 683 L401.81 683 L402.33 683 L402.85 683 L403.37 683 L403.89 683 L404.41 683 L404.93 683 L405.44 683 L405.96 683 L406.48 683 L407 683 L407.52 683 L408.04 683 L408.56 683 L409.08 683 L409.6 683 L410.12 683 L410.64 683 L411.16 683 L411.68 683 L412.2 683 L412.71 683 L413.23 683 L413.75 683 L414.27 683 L414.79 683 L415.31 683 L415.83 683 L416.35 683 L416.87 683 L417.39 683 L417.91 683 L418.43 683 L418.95 683 L419.47 683 L419.98 683 L420.5 683 L421.02 683 L421.54 683 L422.06 683 L422.58 683 L423.1 683 L423.62 683 L424.14 683 L424.66 683 L425.18 683 L425.7 683 L426.22 683 L426.74 683 L427.25 683 L427.77 683 L428.29 683 L428.81 683 L429.33 683 L429.85 683 L430.37 683 L430.89 683 L431.41 683 L431.93 683 L432.45 683 L432.97 683 L433.49 683 L434.01 683 L434.53 683 L435.04 683 L435.56 683 L436.08 683 L436.6 683 L437.12 683 L437.64 683 L438.16 683 L438.68 683 L439.2 683 L439.72 683 L440.24 683 L440.76 683 L441.28 683 L441.8 683 L442.31 683 L442.83 683 L443.35 683 L443.87 683 L444.39 683 L444.91 683 L445.43 683 L445.95 683 L446.47 683 L446.99 683 L447.51 683 L448.03 683 L448.55 683 L449.07 683 L449.58 683 L450.1 683 L450.62 683 L451.14 683 L451.66 683 L452.18 683 L452.7 683 L453.22 683 L453.74 683 L454.26 683 L454.78 683 L455.3 683 L455.82 683 L456.34 683 L456.85 683 L457.37 683 L457.89 683 L458.41 683 L458.93 683 L459.45 683 L459.97 683 L460.49 683 L461.01 683 L461.53 683 L462.05 683 L462.57 683 L463.09 683 L463.61 683 L464.12 683 L464.64 683 L465.16 683 L465.68 683 L466.2 683 L466.72 683 L467.24 683 L467.76 683 L468.28 683 L468.8 683 L469.32 683 L469.84 683 L470.36 683 L470.88 683 L471.39 683 L471.91 683 L472.43 683 L472.95 683 L473.47 683 L473.99 683 L474.51 683 L475.03 683 L475.55 683 L476.07 683 L476.59 683 L477.11 683 L477.63 683 L478.15 683 L478.66 683 L479.18 683 L479.7 683 L480.22 683 L480.74 683 L481.26 683 L481.78 683 L482.3 683 L482.82 683 L483.34 683 L483.86 683 L484.38 683 L484.9 683 L485.42 683 L485.42 683 Z" fill="#f77e82"/>
<path d="M70.5 683 L70.5 682.26 L71.02 682.26 L71.54 682.26 L72.06 682.26 L72.58 682.26 L73.1 682.26 L73.62 682.26 L74.14 682.26 L74.65 682.26 L75.17 682.26 L75.69 682.26 L76.21 682.26 L76.73 682.26 L77.25 682.26 L77.77 682.26 L78.29 682.26 L78.81 682.26 L79.33 682.26 L79.85 682.26 L80.37 682.26 L80.89 682.26 L81.41 682.26 L81.92 682.26 L82.44 682.26 L82.96 682.26 L83.48 682.26 L84 682.26 L84.52 682.26 L85.04 682.26 L85.56 682.26 L86.08 682.26 L86.6 682.26 L87.12 682.26 L87.64 682.26 L88.16 682.26 L88.68 682.26 L89.19 682.26 L89.71 682.26 L90.23 682.26 L90.75 682.26 L91.27 682.26 L91.79 682.26 L92.31 682.26 L92.83 682.26 L93.35 682.26 L93.87 682.26 L94.39 682.26 L94.91 682.26 L95.43 682.26 L95.95 682.26 L96.46 682.26 L96.98 682.26 L97.5 682.26 L98.02 682.26 L98.54 682.26 L99.06 682.26 L99.58 682.26 L100.1 682.26 L100.62 682.26 L101.14 682.26 L101.66 682.26 L102.18 682.26 L102.7 682.26 L103.22 682.26 L103.73 682.26 L104.25 682.26 L104.77 682.26 L105.29 682.26 L105.81 682.26 L106.33 682.26 L106.85 682.26 L107.37 682.26 L107.89 682.26 L108.41 682.26 L108.93 682.26 L109.45 682.26 L109.97 682.26 L110.49 682.26 L111 682.26 L111.52 682.26 L112.04 682.26 L112.56 682.26 L113.08 682.26 L113.6 682.26 L114.12 682.26 L114.64 682.26 L115.16 682.26 L115.68 682.26 L116.2 682.26 L116.72 682.26 L117.24 682.26 L117.76 682.26 L118.28 682.26 L118.79 682.26 L119.31 682.26 L119.83 682.25 L120.35 682.25 L120.87 682.25 L121.39 682.25 L121.91 682.25 L122.43 682.24 L122.95 682.24 L123.47 682.24 L123.99 682.23 L124.51 682.23 L125.03 682.22 L125.55 682.22 L126.06 682.21 L126.58 682.2 L127.1 682.19 L127.62 682.18 L128.14 682.17 L128.66 682.16 L129.18 682.14 L129.7 682.12 L130.22 682.1 L130.74 682.08 L131.26 682.05 L131.78 682.02 L132.3 681.99 L132.82 681.95 L133.33 681.91 L133.85 681.87 L134.37 681.82 L134.89 681.76 L135.41 681.69 L135.93 681.62 L136.45 681.54 L136.97 681.45 L137.49 681.35 L138.01 681.25 L138.53 681.12 L139.05 680.99 L139.57 680.84 L140.09 680.68 L140.6 680.5 L141.12 680.31 L141.64 680.1 L142.16 679.86 L142.68 679.6 L143.2 679.32 L143.72 679.02 L144.24 678.69 L144.76 678.33 L145.28 677.93 L145.8 677.51 L146.32 677.05 L146.84 676.55 L147.36 676.02 L147.87 675.44 L148.39 674.82 L148.91 674.16 L149.43 673.45 L149.95 672.68 L150.47 671.87 L150.99 671 L151.51 670.07 L152.03 669.09 L152.55 668.05 L153.07 666.94 L153.59 665.77 L154.11 664.53 L154.63 663.22 L155.14 661.85 L155.66 660.4 L156.18 658.89 L156.7 657.3 L157.22 655.64 L157.74 653.9 L158.26 652.1 L158.78 650.22 L159.3 648.26 L159.82 646.24 L160.34 644.15 L160.86 641.98 L161.38 639.76 L161.9 637.46 L162.42 635.11 L162.93 632.7 L163.45 630.23 L163.97 627.72 L164.49 625.16 L165.01 622.55 L165.53 619.91 L166.05 617.24 L166.57 614.55 L167.09 611.83 L167.61 609.11 L168.13 606.38 L168.65 603.65 L169.17 600.93 L169.69 598.23 L170.2 595.55 L170.72 592.91 L171.24 590.3 L171.76 587.75 L172.28 585.25 L172.8 582.82 L173.32 580.47 L173.84 578.19 L174.36 576.01 L174.88 573.92 L175.4 571.94 L175.92 570.07 L176.44 568.32 L176.96 566.69 L177.47 565.2 L177.99 563.84 L178.51 562.63 L179.03 561.56 L179.55 560.65 L180.07 559.89 L180.59 559.29 L181.11 558.85 L181.63 558.57 L182.15 558.45 L182.67 558.5 L183.19 558.71 L183.71 559.08 L184.23 559.62 L184.74 560.31 L185.26 561.16 L185.78 562.17 L186.3 563.32 L186.82 564.62 L187.34 566.06 L187.86 567.63 L188.38 569.33 L188.9 571.15 L189.42 573.08 L189.94 575.13 L190.46 577.27 L190.98 579.51 L191.5 581.84 L192.01 584.24 L192.53 586.71 L193.05 589.24 L193.57 591.82 L194.09 594.45 L194.61 597.11 L195.13 599.81 L195.65 602.52 L196.17 605.24 L196.69 607.97 L197.21 610.7 L197.73 613.42 L198.25 616.13 L198.77 618.81 L199.28 621.46 L199.8 624.08 L200.32 626.66 L200.84 629.2 L201.36 631.68 L201.88 634.12 L202.4 636.5 L202.92 638.81 L203.44 641.07 L203.96 643.26 L204.48 645.38 L205 647.43 L205.52 649.42 L206.04 651.33 L206.55 653.16 L207.07 654.93 L207.59 656.62 L208.11 658.24 L208.63 659.78 L209.15 661.26 L209.67 662.66 L210.19 664 L210.71 665.26 L211.23 666.46 L211.75 667.59 L212.27 668.67 L212.79 669.67 L213.31 670.62 L213.83 671.52 L214.34 672.35 L214.86 673.14 L215.38 673.87 L215.9 674.55 L216.42 675.19 L216.94 675.79 L217.46 676.34 L217.98 676.85 L218.5 677.32 L219.02 677.76 L219.54 678.17 L220.06 678.54 L220.58 678.88 L221.1 679.2 L221.61 679.49 L222.13 679.76 L222.65 680 L223.17 680.22 L223.69 680.43 L224.21 680.61 L224.73 680.78 L225.25 680.93 L225.77 681.07 L226.29 681.2 L226.81 681.31 L227.33 681.41 L227.85 681.51 L228.37 681.59 L228.88 681.66 L229.4 681.73 L229.92 681.79 L230.44 681.85 L230.96 681.89 L231.48 681.94 L232 681.98 L232.52 682.01 L233.04 682.04 L233.56 682.07 L234.08 682.09 L234.6 682.11 L235.12 682.13 L235.64 682.15 L236.15 682.16 L236.67 682.18 L237.19 682.19 L237.71 682.2 L238.23 682.21 L238.75 682.21 L239.27 682.22 L239.79 682.23 L240.31 682.23 L240.83 682.24 L241.35 682.24 L241.87 682.24 L242.39 682.25 L242.91 682.25 L243.42 682.25 L243.94 682.25 L244.46 682.25 L244.98 682.26 L245.5 682.26 L246.02 682.26 L246.54 682.26 L247.06 682.26 L247.58 682.26 L248.1 682.26 L248.62 682.26 L249.14 682.26 L249.66 682.26 L250.18 682.26 L250.69 682.26 L251.21 682.26 L251.73 682.26 L252.25 682.26 L252.77 682.26 L253.29 682.26 L253.81 682.26 L254.33 682.26 L254.85 682.26 L255.37 682.26 L255.89 682.26 L256.41 682.26 L256.93 682.26 L257.45 682.26 L257.97 682.26 L258.48 682.26 L259 682.26 L259.52 682.26 L260.04 682.26 L260.56 682.26 L261.08 682.26 L261.6 682.26 L262.12 682.26 L262.64 682.26 L263.16 682.26 L263.68 682.26 L264.2 682.26 L264.72 682.26 L265.24 682.26 L265.75 682.26 L266.27 682.26 L266.79 682.26 L267.31 682.26 L267.83 682.26 L268.35 682.26 L268.87 682.26 L269.39 682.26 L269.91 682.26 L270.43 682.26 L270.95 682.26 L271.47 682.26 L271.99 682.26 L272.51 682.26 L273.02 682.26 L273.54 682.26 L274.06 682.26 L274.58 682.26 L275.1 682.26 L275.62 682.26 L276.14 682.26 L276.66 682.26 L277.18 682.26 L277.7 682.26 L278.22 682.26 L278.74 682.26 L279.26 682.26 L279.78 682.26 L280.29 682.26 L280.81 682.26 L281.33 682.26 L281.85 682.26 L282.37 682.26 L282.89 682.26 L283.41 682.26 L283.93 682.26 L284.45 682.26 L284.97 682.26 L285.49 682.26 L286.01 682.26 L286.53 682.26 L287.05 682.26 L287.56 682.26 L288.08 682.26 L288.6 682.26 L289.12 682.26 L289.64 682.26 L290.16 682.26 L290.68 682.26 L291.2 682.26 L291.72 682.26 L292.24 682.26 L292.76 682.26 L293.28 682.26 L293.8 682.26 L294.32 682.26 L294.83 682.26 L295.35 682.26 L295.87 682.26 L296.39 682.26 L296.91 682.26 L297.43 682.26 L297.95 682.26 L298.47 682.26 L298.99 682.26 L299.51 682.26 L300.03 682.26 L300.55 682.26 L301.07 682.26 L301.59 682.26 L302.11 682.26 L302.62 682.26 L303.14 682.26 L303.66 682.26 L304.18 682.26 L304.7 682.26 L305.22 682.26 L305.74 682.26 L306.26 682.26 L306.78 682.26 L307.3 682.26 L307.82 682.26 L308.34 682.26 L308.86 682.26 L309.38 682.26 L309.89 682.26 L310.41 682.26 L310.93 682.26 L311.45 682.26 L311.97 682.26 L312.49 682.26 L313.01 682.26 L313.53 682.26 L314.05 682.26 L314.57 682.26 L315.09 682.26 L315.61 682.26 L316.13 682.26 L316.65 682.26 L317.16 682.26 L317.68 682.26 L318.2 682.26 L318.72 682.26 L319.24 682.26 L319.76 682.26 L320.28 682.26 L320.8 682.26 L321.32 682.26 L321.84 682.26 L322.36 682.26 L322.88 682.26 L323.4 682.26 L323.92 682.26 L324.43 682.26 L324.95 682.26 L325.47 682.26 L325.99 682.26 L326.51 682.26 L327.03 682.26 L327.55 682.26 L328.07 682.26 L328.59 682.26 L329.11 682.26 L329.63 682.26 L330.15 682.26 L330.67 682.26 L331.19 682.26 L331.7 682.26 L332.22 682.26 L332.74 682.26 L333.26 682.26 L333.78 682.26 L334.3 682.26 L334.82 682.26 L335.34 682.26 L335.86 682.26 L336.38 682.26 L336.9 682.26 L337.42 682.26 L337.94 682.26 L338.46 682.26 L338.97 682.26 L339.49 682.26 L340.01 682.26 L340.53 682.26 L341.05 682.26 L341.57 682.26 L342.09 682.26 L342.61 682.26 L343.13 682.26 L343.65 682.26 L344.17 682.26 L344.69 682.26 L345.21 682.26 L345.73 682.26 L346.25 682.26 L346.76 682.26 L347.28 682.26 L347.8 682.26 L348.32 682.26 L348.84 682.26 L349.36 682.26 L349.88 682.26 L350.4 682.26 L350.92 682.26 L351.44 682.26 L351.96 682.26 L352.48 682.26 L353 682.26 L353.52 682.26 L354.03 682.26 L354.55 682.26 L355.07 682.26 L355.59 682.26 L356.11 682.26 L356.63 682.26 L357.15 682.26 L357.67 682.26 L358.19 682.26 L358.71 682.26 L359.23 682.26 L359.75 682.26 L360.27 682.26 L360.79 682.26 L361.3 682.26 L361.82 682.26 L362.34 682.26 L362.86 682.26 L363.38 682.26 L363.9 682.26 L364.42 682.26 L364.94 682.26 L365.46 682.26 L365.98 682.26 L366.5 682.26 L367.02 682.26 L367.54 682.26 L368.06 682.26 L368.57 682.26 L369.09 682.26 L369.61 682.26 L370.13 682.26 L370.65 682.26 L371.17 682.26 L371.69 682.26 L372.21 682.26 L372.73 682.26 L373.25 682.26 L373.77 682.26 L374.29 682.26 L374.81 682.26 L375.33 682.26 L375.84 682.26 L376.36 682.26 L376.88 682.26 L377.4 682.26 L377.92 682.26 L378.44 682.26 L378.96 682.26 L379.48 682.26 L380 682.26 L380.52 682.26 L381.04 682.26 L381.56 682.26 L382.08 682.26 L382.6 682.26 L383.11 682.26 L383.63 682.26 L384.15 682.26 L384.67 682.26 L385.19 682.26 L385.71 682.26 L386.23 682.26 L386.75 682.26 L387.27 682.26 L387.79 682.26 L388.31 682.26 L388.83 682.26 L389.35 682.26 L389.87 682.26 L390.39 682.26 L390.9 682.26 L391.42 682.26 L391.94 682.26 L392.46 682.26 L392.98 682.26 L393.5 682.26 L394.02 682.26 L394.54 682.26 L395.06 682.26 L395.58 682.26 L396.1 682.26 L396.62 682.26 L397.14 682.26 L397.66 682.26 L398.17 682.26 L398.69 682.26 L399.21 682.26 L399.73 682.26 L400.25 682.26 L400.77 682.26 L401.29 682.26 L401.81 682.26 L402.33 682.26 L402.85 682.26 L403.37 682.26 L403.89 682.26 L404.41 682.26 L404.93 682.26 L405.44 682.26 L405.96 682.26 L406.48 682.26 L407 682.26 L407.52 682.26 L408.04 682.26 L408.56 682.26 L409.08 682.26 L409.6 682.26 L410.12 682.26 L410.64 682.26 L411.16 682.26 L411.68 682.26 L412.2 682.26 L412.71 682.26 L413.23 682.26 L413.75 682.26 L414.27 682.26 L414.79 682.26 L415.31 682.26 L415.83 682.26 L416.35 682.26 L416.87 682.26 L417.39 682.26 L417.91 682.26 L418.43 682.26 L418.95 682.26 L419.47 682.26 L419.98 682.26 L420.5 682.26 L421.02 682.26 L421.54 682.26 L422.06 682.26 L422.58 682.26 L423.1 682.26 L423.62 682.26 L424.14 682.26 L424.66 682.26 L425.18 682.26 L425.7 682.26 L426.22 682.26 L426.74 682.26 L427.25 682.26 L427.77 682.26 L428.29 682.26 L428.81 682.26 L429.33 682.26 L429.85 682.26 L430.37 682.26 L430.89 682.26 L431.41 682.26 L431.93 682.26 L432.45 682.26 L432.97 682.26 L433.49 682.26 L434.01 682.26 L434.53 682.26 L435.04 682.26 L435.56 682.26 L436.08 682.26 L436.6 682.26 L437.12 682.26 L437.64 682.26 L438.16 682.26 L438.68 682.26 L439.2 682.26 L439.72 682.26 L440.24 682.26 L440.76 682.26 L441.28 682.26 L441.8 682.26 L442.31 682.26 L442.83 682.26 L443.35 682.26 L443.87 682.26 L444.39 682.26 L444.91 682.26 L445.43 682.26 L445.95 682.26 L446.47 682.26 L446.99 682.26 L447.51 682.26 L448.03 682.26 L448.55 682.26 L449.07 682.26 L449.58 682.26 L450.1 682.26 L450.62 682.26 L451.14 682.26 L451.66 682.26 L452.18 682.26 L452.7 682.26 L453.22 682.26 L453.74 682.26 L454.26 682.26 L454.78 682.26 L455.3 682.26 L455.82 682.26 L456.34 682.26 L456.85 682.26 L457.37 682.26 L457.89 682.26 L458.41 682.26 L458.93 682.26 L459.45 682.26 L459.97 682.26 L460.49 682.26 L461.01 682.26 L461.53 682.26 L462.05 682.26 L462.57 682.26 L463.09 682.26 L463.61 682.26 L464.12 682.26 L464.64 682.26 L465.16 682.26 L465.68 682.26 L466.2 682.26 L466.72 682.26 L467.24 682.26 L467.76 682.26 L468.28 682.26 L468.8 682.26 L469.32 682.26 L469.84 682.26 L470.36 682.26 L470.88 682.26 L471.39 682.26 L471.91 682.26 L472.43 682.26 L472.95 682.26 L473.47 682.26 L473.99 682.26 L474.51 682.26 L475.03 682.26 L475.55 682.26 L476.07 682.26 L476.59 682.26 L477.11 682.26 L477.63 682.26 L478.15 682.26 L478.66 682.26 L479.18 682.26 L479.7 682.26 L480.22 682.26 L480.74 682.26 L481.26 682.26 L481.78 682.26 L482.3 682.26 L482.82 682.26 L483.34 682.26 L483.86 682.26 L484.38 682.26 L484.9 682.26 L485.42 682.26 L485.42 683 Z" fill="#7b9df6"/>
<path d="M70.5 683 L70.5 683 L71.02 683 L71.54 683 L72.06 683 L72.58 683 L73.1 683 L73.62 683 L74.14 683 L74.65 683 L75.17 683 L75.69 683 L76.21 683 L76.73 683 L77.25 683 L77.77 683 L78.29 683 L78.81 683 L79.33 683 L79.85 683 L80.37 683 L80.89 683 L81.41 683 L81.92 683 L82.44 683 L82.96 683 L83.48 683 L84 683 L84.52 683 L85.04 683 L85.56 683 L86.08 683 L86.6 683 L87.12 683 L87.64 683 L88.16 683 L88.68 683 L89.19 683 L89.71 683 L90.23 683 L90.75 683 L91.27 683 L91.79 683 L92.31 683 L92.83 683 L93.35 683 L93.87 683 L94.39 683 L94.91 683 L95.43 683 L95.95 682.99 L96.46 682.99 L96.98 682.99 L97.5 682.99 L98.02 682.99 L98.54 682.99 L99.06 682.99 L99.58 682.98 L100.1 682.98 L100.62 682.98 L101.14 682.97 L101.66 682.97 L102.18 682.96 L102.7 682.96 L103.22 682.95 L103.73 682.94 L104.25 682.93 L104.77 682.92 L105.29 682.91 L105.81 682.89 L106.33 682.88 L106.85 682.86 L107.37 682.83 L107.89 682.81 L108.41 682.78 L108.93 682.75 L109.45 682.71 L109.97 682.67 L110.49 682.63 L111 682.58 L111.52 682.52 L112.04 682.45 L112.56 682.38 L113.08 682.3 L113.6 682.21 L114.12 682.11 L114.64 682 L115.16 681.88 L115.68 681.75 L116.2 681.6 L116.72 681.44 L117.24 681.26 L117.76 681.06 L118.28 680.84 L118.79 680.61 L119.31 680.35 L119.83 680.07 L120.35 679.77 L120.87 679.44 L121.39 679.09 L121.91 678.71 L122.43 678.3 L122.95 677.85 L123.47 677.38 L123.99 676.87 L124.51 676.33 L125.03 675.75 L125.55 675.14 L126.06 674.49 L126.58 673.8 L127.1 673.07 L127.62 672.3 L128.14 671.49 L128.66 670.64 L129.18 669.76 L129.7 668.83 L130.22 667.86 L130.74 666.86 L131.26 665.81 L131.78 664.73 L132.3 663.62 L132.82 662.47 L133.33 661.3 L133.85 660.09 L134.37 658.86 L134.89 657.6 L135.41 656.33 L135.93 655.04 L136.45 653.73 L136.97 652.42 L137.49 651.11 L138.01 649.79 L138.53 648.48 L139.05 647.17 L139.57 645.89 L140.09 644.62 L140.6 643.37 L141.12 642.15 L141.64 640.97 L142.16 639.83 L142.68 638.73 L143.2 637.68 L143.72 636.69 L144.24 635.75 L144.76 634.88 L145.28 634.07 L145.8 633.34 L146.32 632.68 L146.84 632.1 L147.36 631.6 L147.87 631.18 L148.39 630.85 L148.91 630.6 L149.43 630.45 L149.95 630.38 L150.47 630.4 L150.99 630.52 L151.51 630.72 L152.03 631.01 L152.55 631.38 L153.07 631.84 L153.59 632.38 L154.11 633.01 L154.63 633.7 L155.14 634.47 L155.66 635.32 L156.18 636.22 L156.7 637.19 L157.22 638.21 L157.74 639.28 L158.26 640.41 L158.78 641.57 L159.3 642.77 L159.82 644 L160.34 645.26 L160.86 646.54 L161.38 647.84 L161.9 649.14 L162.42 650.46 L162.93 651.78 L163.45 653.09 L163.97 654.4 L164.49 655.7 L165.01 656.98 L165.53 658.25 L166.05 659.49 L166.57 660.71 L167.09 661.9 L167.61 663.06 L168.13 664.19 L168.65 665.29 L169.17 666.35 L169.69 667.37 L170.2 668.36 L170.72 669.31 L171.24 670.21 L171.76 671.08 L172.28 671.91 L172.8 672.7 L173.32 673.45 L173.84 674.15 L174.36 674.82 L174.88 675.46 L175.4 676.05 L175.92 676.61 L176.44 677.14 L176.96 677.63 L177.47 678.08 L177.99 678.51 L178.51 678.91 L179.03 679.27 L179.55 679.61 L180.07 679.93 L180.59 680.22 L181.11 680.49 L181.63 680.73 L182.15 680.96 L182.67 681.16 L183.19 681.35 L183.71 681.52 L184.23 681.68 L184.74 681.82 L185.26 681.95 L185.78 682.06 L186.3 682.17 L186.82 682.26 L187.34 682.34 L187.86 682.42 L188.38 682.49 L188.9 682.55 L189.42 682.6 L189.94 682.65 L190.46 682.69 L190.98 682.73 L191.5 682.77 L192.01 682.8 L192.53 682.82 L193.05 682.85 L193.57 682.87 L194.09 682.88 L194.61 682.9 L195.13 682.91 L195.65 682.93 L196.17 682.94 L196.69 682.94 L197.21 682.95 L197.73 682.96 L198.25 682.97 L198.77 682.97 L199.28 682.97 L199.8 682.98 L200.32 682.98 L200.84 682.98 L201.36 682.99 L201.88 682.99 L202.4 682.99 L202.92 682.99 L203.44 682.99 L203.96 682.99 L204.48 683 L205 683 L205.52 683 L206.04 683 L206.55 683 L207.07 683 L207.59 683 L208.11 683 L208.63 683 L209.15 683 L209.67 683 L210.19 683 L210.71 683 L211.23 683 L211.75 683 L212.27 683 L212.79 683 L213.31 683 L213.83 683 L214.34 683 L214.86 683 L215.38 683 L215.9 683 L216.42 683 L216.94 683 L217.46 683 L217.98 683 L218.5 683 L219.02 683 L219.54 683 L220.06 683 L220.58 683 L221.1 683 L221.61 683 L222.13 683 L222.65 683 L223.17 683 L223.69 683 L224.21 683 L224.73 683 L225.25 683 L225.77 683 L226.29 683 L226.81 683 L227.33 683 L227.85 683 L228.37 683 L228.88 683 L229.4 683 L229.92 683 L230.44 683 L230.96 683 L231.48 683 L232 683 L232.52 683 L233.04 683 L233.56 683 L234.08 683 L234.6 683 L235.12 683 L235.64 683 L236.15 683 L236.67 683 L237.19 683 L237.71 683 L238.23 683 L238.75 683 L239.27 683 L239.79 683 L240.31 683 L240.83 683 L241.35 683 L241.87 683 L242.39 683 L242.91 683 L243.42 683 L243.94 683 L244.46 683 L244.98 683 L245.5 683 L246.02 683 L246.54 683 L247.06 683 L247.58 683 L248.1 683 L248.62 683 L249.14 683 L249.66 683 L250.18 683 L250.69 683 L251.21 683 L251.73 683 L252.25 683 L252.77 683 L253.29 683 L253.81 683 L254.33 683 L254.85 683 L255.37 683 L255.89 683 L256.41 683 L256.93 683 L257.45 683 L257.97 683 L258.48 683 L259 683 L259.52 683 L260.04 683 L260.56 683 L261.08 683 L261.6 683 L262.12 683 L262.64 683 L263.16 683 L263.68 683 L264.2 683 L264.72 683 L265.24 683 L265.75 683 L266.27 683 L266.79 683 L267.31 683 L267.83 683 L268.35 683 L268.87 683 L269.39 683 L269.91 683 L270.43 683 L270.95 683 L271.47 683 L271.99 683 L272.51 683 L273.02 683 L273.54 683 L274.06 683 L274.58 683 L275.1 683 L275.62 683 L276.14 683 L276.66 683 L277.18 683 L277.7 683 L278.22 683 L278.74 683 L279.26 683 L279.78 683 L280.29 683 L280.81 683 L281.33 683 L281.85 683 L282.37 683 L282.89 683 L283.41 683 L283.93 683 L284.45 683 L284.97 683 L285.49 683 L286.01 683 L286.53 683 L287.05 683 L287.56 683 L288.08 683 L288.6 683 L289.12 683 L289.64 683 L290.16 683 L290.68 683 L291.2 683 L291.72 683 L292.24 683 L292.76 683 L293.28 683 L293.8 683 L294.32 683 L294.83 683 L295.35 683 L295.87 683 L296.39 683 L296.91 683 L297.43 683 L297.95 683 L298.47 683 L298.99 683 L299.51 683 L300.03 683 L300.55 683 L301.07 683 L301.59 683 L302.11 683 L302.62 683 L303.14 683 L303.66 683 L304.18 683 L304.7 683 L305.22 683 L305.74 683 L306.26 683 L306.78 683 L307.3 683 L307.82 683 L308.34 683 L308.86 683 L309.38 683 L309.89 683 L310.41 683 L310.93 683 L311.45 683 L311.97 683 L312.49 683 L313.01 683 L313.53 683 L314.05 683 L314.57 683 L315.09 683 L315.61 683 L316.13 683 L316.65 683 L317.16 683 L317.68 683 L318.2 683 L318.72 683 L319.24 683 L319.76 683 L320.28 683 L320.8 683 L321.32 683 L321.84 683 L322.36 683 L322.88 683 L323.4 683 L323.92 683 L324.43 683 L324.95 683 L325.47 683 L325.99 683 L326.51 683 L327.03 683 L327.55 683 L328.07 683 L328.59 683 L329.11 683 L329.63 683 L330.15 683 L330.67 683 L331.19 683 L331.7 683 L332.22 683 L332.74 683 L333.26 683 L333.78 683 L334.3 683 L334.82 683 L335.34 683 L335.86 683 L336.38 683 L336.9 683 L337.42 683 L337.94 683 L338.46 683 L338.97 683 L339.49 683 L340.01 683 L340.53 683 L341.05 683 L341.57 683 L342.09 683 L342.61 683 L343.13 683 L343.65 683 L344.17 683 L344.69 683 L345.21 683 L345.73 683 L346.25 683 L346.76 683 L347.28 683 L347.8 683 L348.32 683 L348.84 683 L349.36 683 L349.88 683 L350.4 683 L350.92 683 L351.44 683 L351.96 683 L352.48 683 L353 683 L353.52 683 L354.03 683 L354.55 683 L355.07 683 L355.59 683 L356.11 683 L356.63 683 L357.15 683 L357.67 683 L358.19 683 L358.71 683 L359.23 683 L359.75 683 L360.27 683 L360.79 683 L361.3 683 L361.82 683 L362.34 683 L362.86 683 L363.38 683 L363.9 683 L364.42 683 L364.94 683 L365.46 683 L365.98 683 L366.5 683 L367.02 683 L367.54 683 L368.06 683 L368.57 683 L369.09 683 L369.61 683 L370.13 683 L370.65 683 L371.17 683 L371.69 683 L372.21 683 L372.73 683 L373.25 683 L373.77 683 L374.29 683 L374.81 683 L375.33 683 L375.84 683 L376.36 683 L376.88 683 L377.4 683 L377.92 683 L378.44 683 L378.96 683 L379.48 683 L380 683 L380.52 683 L381.04 683 L381.56 683 L382.08 683 L382.6 683 L383.11 683 L383.63 683 L384.15 683 L384.67 683 L385.19 683 L385.71 683 L386.23 683 L386.75 683 L387.27 683 L387.79 683 L388.31 683 L388.83 683 L389.35 683 L389.87 683 L390.39 683 L390.9 683 L391.42 683 L391.94 683 L392.46 683 L392.98 683 L393.5 683 L394.02 683 L394.54 683 L395.06 683 L395.58 683 L396.1 683 L396.62 683 L397.14 683 L397.66 683 L398.17 683 L398.69 683 L399.21 683 L399.73 683 L400.25 683 L400.77 683 L401.29 683 L401.81 683 L402.33 683 L402.85 683 L403.37 683 L403.89 683 L404.41 683 L404.93 683 L405.44 683 L405.96 683 L406.48 683 L407 683 L407.52 683 L408.04 683 L408.56 683 L409.08 683 L409.6 683 L410.12 683 L410.64 683 L411.16 683 L411.68 683 L412.2 683 L412.71 683 L413.23 683 L413.75 683 L414.27 683 L414.79 683 L415.31 683 L415.83 683 L416.35 683 L416.87 683 L417.39 683 L417.91 683 L418.43 683 L418.95 683 L419.47 683 L419.98 683 L420.5 683 L421.02 683 L421.54 683 L422.06 683 L422.58 683 L423.1 683 L423.62 683 L424.14 683 L424.66 683 L425.18 683 L425.7 683 L426.22 683 L426.74 683 L427.25 683 L427.77 683 L428.29 683 L428.81 683 L429.33 683 L429.85 683 L430.37 683 L430.89 683 L431.41 683 L431.93 683 L432.45 683 L432.97 683 L433.49 683 L434.01 683 L434.53 683 L435.04 683 L435.56 683 L436.08 683 L436.6 683 L437.12 683 L437.64 683 L438.16 683 L438.68 683 L439.2 683 L439.72 683 L440.24 683 L440.76 683 L441.28 683 L441.8 683 L442.31 683 L442.83 683 L443.35 683 L443.87 683 L444.39 683 L444.91 683 L445.43 683 L445.95 683 L446.47 683 L446.99 683 L447.51 683 L448.03 683 L448.55 683 L449.07 683 L449.58 683 L450.1 683 L450.62 683 L451.14 683 L451.66 683 L452.18 683 L452.7 683 L453.22 683 L453.74 683 L454.26 683 L454.78 683 L455.3 683 L455.82 683 L456.34 683 L456.85 683 L457.37 683 L457.89 683 L458.41 683 L458.93 683 L459.45 683 L459.97 683 L460.49 683 L461.01 683 L461.53 683 L462.05 683 L462.57 683 L463.09 683 L463.61 683 L464.12 683 L464.64 683 L465.16 683 L465.68 683 L466.2 683 L466.72 683 L467.24 683 L467.76 683 L468.28 683 L468.8 683 L469.32 683 L469.84 683 L470.36 683 L470.88 683 L471.39 683 L471.91 683 L472.43 683 L472.95 683 L473.47 683 L473.99 683 L474.51 683 L475.03 683 L475.55 683 L476.07 683 L476.59 683 L477.11 683 L477.63 683 L478.15 683 L478.66 683 L479.18 683 L479.7 683 L480.22 683 L480.74 683 L481.26 683 L481.78 683 L482.3 683 L482.82 683 L483.34 683 L483.86 683 L484.38 683 L484.9 683 L485.42 683 L485.42 683 Z" fill="#a6cf7d"/>
<path d="M70.5 683 L70.5 683 L71.54 683 L72.58 683 L73.62 683 L74.66 683 L75.7 683 L76.74 683 L77.78 683 L78.82 683 L79.86 683 L80.9 683 L81.94 683 L82.98 683 L84.02 683 L85.06 683 L86.1 683 L87.14 683 L88.18 683 L89.22 683 L90.26 683 L91.3 683 L92.34 683 L93.38 683 L94.42 683 L95.46 683 L96.5 683 L97.54 683 L98.58 683 L99.62 683 L100.66 683 L101.7 683 L102.74 683 L103.78 683 L104.82 683 L105.86 683 L106.9 683 L107.94 683 L108.98 683 L110.02 683 L111.06 683 L112.1 683 L113.14 683 L114.18 683 L115.22 683 L116.26 683 L117.3 683 L118.33 683 L119.37 683 L120.41 683 L121.45 683 L122.49 683 L123.53 683 L124.57 683 L125.61 683 L126.65 683 L127.69 683 L128.73 683 L129.77 683 L130.81 683 L131.85 683 L132.89 683 L133.93 683 L134.97 683 L136.01 683 L137.05 683 L138.09 683 L139.13 683 L140.17 683 L141.21 683 L142.25 683 L143.29 683 L144.33 683 L145.37 683 L146.41 683 L147.45 683 L148.49 683 L149.53 683 L150.57 683 L151.61 683 L152.65 683 L153.69 682.99 L154.73 682.91 L155.77 682.76 L156.81 682.56 L157.85 682.34 L158.89 682.09 L159.93 681.85 L160.97 681.6 L162.01 681.32 L163.05 681 L164.09 680.65 L165.13 680.28 L166.17 679.89 L167.21 679.5 L168.25 679.1 L169.29 678.7 L170.33 678.31 L171.37 677.92 L172.41 677.51 L173.45 677.09 L174.49 676.66 L175.53 676.22 L176.57 675.79 L177.61 675.37 L178.65 674.97 L179.69 674.58 L180.73 674.21 L181.77 673.84 L182.81 673.47 L183.85 673.1 L184.89 672.72 L185.93 672.35 L186.97 671.97 L188.01 671.6 L189.05 671.23 L190.09 670.86 L191.13 670.49 L192.17 670.13 L193.21 669.77 L194.25 669.41 L195.29 669.07 L196.33 668.72 L197.37 668.39 L198.41 668.06 L199.45 667.74 L200.49 667.44 L201.53 667.14 L202.57 666.85 L203.61 666.57 L204.65 666.31 L205.69 666.05 L206.73 665.82 L207.77 665.59 L208.81 665.38 L209.85 665.18 L210.89 665.01 L211.92 664.84 L212.96 664.69 L214 664.54 L215.04 664.39 L216.08 664.25 L217.12 664.11 L218.16 663.98 L219.2 663.85 L220.24 663.72 L221.28 663.6 L222.32 663.48 L223.36 663.36 L224.4 663.25 L225.44 663.14 L226.48 663.04 L227.52 662.93 L228.56 662.83 L229.6 662.74 L230.64 662.64 L231.68 662.55 L232.72 662.46 L233.76 662.37 L234.8 662.29 L235.84 662.21 L236.88 662.13 L237.92 662.05 L238.96 661.97 L240 661.9 L241.04 661.83 L242.08 661.76 L243.12 661.69 L244.16 661.62 L245.2 661.56 L246.24 661.49 L247.28 661.42 L248.32 661.35 L249.36 661.28 L250.4 661.22 L251.44 661.15 L252.48 661.1 L253.52 661.04 L254.56 661 L255.6 660.96 L256.64 660.93 L257.68 660.9 L258.72 660.89 L259.76 660.89 L260.8 660.89 L261.84 660.9 L262.88 660.91 L263.92 660.93 L264.96 660.94 L266 660.96 L267.04 660.99 L268.08 661.01 L269.12 661.04 L270.16 661.07 L271.2 661.1 L272.24 661.14 L273.28 661.18 L274.32 661.21 L275.36 661.25 L276.4 661.3 L277.44 661.34 L278.48 661.39 L279.52 661.43 L280.56 661.48 L281.6 661.53 L282.64 661.57 L283.68 661.62 L284.72 661.67 L285.76 661.72 L286.8 661.77 L287.84 661.82 L288.88 661.87 L289.92 661.92 L290.96 661.97 L292 662.02 L293.04 662.08 L294.08 662.13 L295.12 662.2 L296.16 662.26 L297.2 662.33 L298.24 662.4 L299.28 662.47 L300.32 662.54 L301.36 662.62 L302.4 662.7 L303.44 662.78 L304.48 662.86 L305.51 662.94 L306.55 663.03 L307.59 663.12 L308.63 663.21 L309.67 663.3 L310.71 663.39 L311.75 663.48 L312.79 663.57 L313.83 663.67 L314.87 663.76 L315.91 663.86 L316.95 663.95 L317.99 664.05 L319.03 664.15 L320.07 664.24 L321.11 664.34 L322.15 664.44 L323.19 664.54 L324.23 664.63 L325.27 664.73 L326.31 664.83 L327.35 664.92 L328.39 665.02 L329.43 665.11 L330.47 665.21 L331.51 665.3 L332.55 665.39 L333.59 665.49 L334.63 665.59 L335.67 665.68 L336.71 665.78 L337.75 665.88 L338.79 665.98 L339.83 666.08 L340.87 666.19 L341.91 666.29 L342.95 666.39 L343.99 666.5 L345.03 666.6 L346.07 666.71 L347.11 666.82 L348.15 666.92 L349.19 667.03 L350.23 667.14 L351.27 667.24 L352.31 667.35 L353.35 667.46 L354.39 667.57 L355.43 667.67 L356.47 667.78 L357.51 667.89 L358.55 667.99 L359.59 668.1 L360.63 668.2 L361.67 668.31 L362.71 668.41 L363.75 668.51 L364.79 668.62 L365.83 668.72 L366.87 668.82 L367.91 668.92 L368.95 669.01 L369.99 669.11 L371.03 669.2 L372.07 669.3 L373.11 669.39 L374.15 669.48 L375.19 669.57 L376.23 669.66 L377.27 669.75 L378.31 669.84 L379.35 669.93 L380.39 670.02 L381.43 670.11 L382.47 670.2 L383.51 670.29 L384.55 670.38 L385.59 670.46 L386.63 670.55 L387.67 670.64 L388.71 670.72 L389.75 670.81 L390.79 670.89 L391.83 670.98 L392.87 671.06 L393.91 671.15 L394.95 671.23 L395.99 671.31 L397.03 671.39 L398.07 671.47 L399.1 671.55 L400.14 671.63 L401.18 671.71 L402.22 671.79 L403.26 671.87 L404.3 671.94 L405.34 672.02 L406.38 672.1 L407.42 672.17 L408.46 672.24 L409.5 672.32 L410.54 672.39 L411.58 672.46 L412.62 672.53 L413.66 672.6 L414.7 672.66 L415.74 672.73 L416.78 672.8 L417.82 672.86 L418.86 672.93 L419.9 672.99 L420.94 673.06 L421.98 673.13 L423.02 673.19 L424.06 673.26 L425.1 673.32 L426.14 673.38 L427.18 673.45 L428.22 673.51 L429.26 673.58 L430.3 673.64 L431.34 673.7 L432.38 673.77 L433.42 673.83 L434.46 673.89 L435.5 673.95 L436.54 674.02 L437.58 674.08 L438.62 674.14 L439.66 674.2 L440.7 674.26 L441.74 674.32 L442.78 674.38 L443.82 674.44 L444.86 674.5 L445.9 674.56 L446.94 674.61 L447.98 674.67 L449.02 674.73 L450.06 674.79 L451.1 674.84 L452.14 674.9 L453.18 674.96 L454.22 675.01 L455.26 675.07 L456.3 675.12 L457.34 675.18 L458.38 675.23 L459.42 675.28 L460.46 675.34 L461.5 675.39 L462.54 675.44 L463.58 675.49 L464.62 675.54 L465.66 675.6 L466.7 675.65 L467.74 675.7 L468.78 675.74 L469.82 675.79 L470.86 675.84 L471.9 675.89 L472.94 675.94 L473.98 675.98 L475.02 676.03 L476.06 676.08 L477.1 676.12 L478.14 676.17 L479.18 676.21 L480.22 676.25 L481.26 676.3 L482.3 676.34 L483.34 676.38 L484.38 676.42 L485.42 676.46 L485.42 683 Z" fill="#70c478"/>
<path d="M70.5 683 L70.5 682.97 L71.02 682.97 L71.54 682.97 L72.06 682.97 L72.58 682.97 L73.1 682.97 L73.62 682.97 L74.14 682.97 L74.65 682.97 L75.17 682.97 L75.69 682.97 L76.21 682.97 L76.73 682.97 L77.25 682.97 L77.77 682.97 L78.29 682.97 L78.81 682.97 L79.33 682.97 L79.85 682.97 L80.37 682.97 L80.89 682.97 L81.41 682.97 L81.92 682.97 L82.44 682.97 L82.96 682.97 L83.48 682.97 L84 682.97 L84.52 682.97 L85.04 682.97 L85.56 682.97 L86.08 682.97 L86.6 682.96 L87.12 682.96 L87.64 682.96 L88.16 682.96 L88.68 682.96 L89.19 682.96 L89.71 682.96 L90.23 682.96 L90.75 682.96 L91.27 682.96 L91.79 682.96 L92.31 682.96 L92.83 682.96 L93.35 682.96 L93.87 682.96 L94.39 682.96 L94.91 682.96 L95.43 682.96 L95.95 682.96 L96.46 682.96 L96.98 682.96 L97.5 682.96 L98.02 682.96 L98.54 682.96 L99.06 682.96 L99.58 682.96 L100.1 682.96 L100.62 682.96 L101.14 682.96 L101.66 682.96 L102.18 682.96 L102.7 682.96 L103.22 682.96 L103.73 682.95 L104.25 682.95 L104.77 682.95 L105.29 682.95 L105.81 682.95 L106.33 682.95 L106.85 682.95 L107.37 682.95 L107.89 682.95 L108.41 682.95 L108.93 682.95 L109.45 682.95 L109.97 682.95 L110.49 682.95 L111 682.95 L111.52 682.95 L112.04 682.95 L112.56 682.95 L113.08 682.95 L113.6 682.95 L114.12 682.95 L114.64 682.95 L115.16 682.95 L115.68 682.95 L116.2 682.94 L116.72 682.94 L117.24 682.94 L117.76 682.94 L118.28 682.94 L118.79 682.94 L119.31 682.94 L119.83 682.94 L120.35 682.94 L120.87 682.94 L121.39 682.94 L121.91 682.94 L122.43 682.94 L122.95 682.94 L123.47 682.94 L123.99 682.94 L124.51 682.94 L125.03 682.94 L125.55 682.94 L126.06 682.93 L126.58 682.93 L127.1 682.93 L127.62 682.93 L128.14 682.93 L128.66 682.93 L129.18 682.93 L129.7 682.93 L130.22 682.93 L130.74 682.93 L131.26 682.93 L131.78 682.93 L132.3 682.93 L132.82 682.93 L133.33 682.92 L133.85 682.92 L134.37 682.92 L134.89 682.92 L135.41 682.92 L135.93 682.92 L136.45 682.92 L136.97 682.92 L137.49 682.92 L138.01 682.92 L138.53 682.92 L139.05 682.92 L139.57 682.91 L140.09 682.91 L140.6 682.91 L141.12 682.91 L141.64 682.91 L142.16 682.91 L142.68 682.91 L143.2 682.91 L143.72 682.91 L144.24 682.91 L144.76 682.9 L145.28 682.9 L145.8 682.9 L146.32 682.9 L146.84 682.9 L147.36 682.9 L147.87 682.9 L148.39 682.9 L148.91 682.9 L149.43 682.89 L149.95 682.89 L150.47 682.89 L150.99 682.89 L151.51 682.89 L152.03 682.89 L152.55 682.89 L153.07 682.88 L153.59 682.88 L154.11 682.88 L154.63 682.88 L155.14 682.88 L155.66 682.88 L156.18 682.88 L156.7 682.87 L157.22 682.87 L157.74 682.87 L158.26 682.87 L158.78 682.87 L159.3 682.86 L159.82 682.86 L160.34 682.86 L160.86 682.86 L161.38 682.86 L161.9 682.86 L162.42 682.85 L162.93 682.85 L163.45 682.85 L163.97 682.85 L164.49 682.84 L165.01 682.84 L165.53 682.84 L166.05 682.84 L166.57 682.84 L167.09 682.83 L167.61 682.83 L168.13 682.83 L168.65 682.82 L169.17 682.82 L169.69 682.82 L170.2 682.82 L170.72 682.81 L171.24 682.81 L171.76 682.81 L172.28 682.8 L172.8 682.8 L173.32 682.8 L173.84 682.79 L174.36 682.79 L174.88 682.79 L175.4 682.78 L175.92 682.78 L176.44 682.78 L176.96 682.77 L177.47 682.77 L177.99 682.76 L178.51 682.76 L179.03 682.76 L179.55 682.75 L180.07 682.75 L180.59 682.74 L181.11 682.74 L181.63 682.73 L182.15 682.73 L182.67 682.72 L183.19 682.71 L183.71 682.71 L184.23 682.7 L184.74 682.7 L185.26 682.69 L185.78 682.68 L186.3 682.67 L186.82 682.67 L187.34 682.66 L187.86 682.65 L188.38 682.64 L188.9 682.63 L189.42 682.62 L189.94 682.61 L190.46 682.6 L190.98 682.58 L191.5 682.57 L192.01 682.56 L192.53 682.54 L193.05 682.52 L193.57 682.51 L194.09 682.49 L194.61 682.47 L195.13 682.45 L195.65 682.42 L196.17 682.4 L196.69 682.37 L197.21 682.34 L197.73 682.3 L198.25 682.27 L198.77 682.23 L199.28 682.19 L199.8 682.14 L200.32 682.09 L200.84 682.04 L201.36 681.98 L201.88 681.92 L202.4 681.85 L202.92 681.78 L203.44 681.7 L203.96 681.62 L204.48 681.53 L205 681.44 L205.52 681.33 L206.04 681.22 L206.55 681.1 L207.07 680.98 L207.59 680.84 L208.11 680.7 L208.63 680.55 L209.15 680.39 L209.67 680.22 L210.19 680.04 L210.71 679.85 L211.23 679.65 L211.75 679.43 L212.27 679.21 L212.79 678.98 L213.31 678.74 L213.83 678.49 L214.34 678.23 L214.86 677.95 L215.38 677.67 L215.9 677.38 L216.42 677.08 L216.94 676.77 L217.46 676.45 L217.98 676.12 L218.5 675.79 L219.02 675.45 L219.54 675.11 L220.06 674.76 L220.58 674.41 L221.1 674.05 L221.61 673.69 L222.13 673.34 L222.65 672.98 L223.17 672.62 L223.69 672.27 L224.21 671.93 L224.73 671.59 L225.25 671.26 L225.77 670.94 L226.29 670.63 L226.81 670.33 L227.33 670.05 L227.85 669.79 L228.37 669.54 L228.88 669.32 L229.4 669.12 L229.92 668.94 L230.44 668.78 L230.96 668.65 L231.48 668.55 L232 668.47 L232.52 668.43 L233.04 668.41 L233.56 668.42 L234.08 668.46 L234.6 668.53 L235.12 668.62 L235.64 668.75 L236.15 668.89 L236.67 669.07 L237.19 669.27 L237.71 669.49 L238.23 669.73 L238.75 669.99 L239.27 670.26 L239.79 670.55 L240.31 670.86 L240.83 671.18 L241.35 671.51 L241.87 671.84 L242.39 672.19 L242.91 672.54 L243.42 672.89 L243.94 673.25 L244.46 673.6 L244.98 673.96 L245.5 674.32 L246.02 674.67 L246.54 675.02 L247.06 675.37 L247.58 675.71 L248.1 676.04 L248.62 676.37 L249.14 676.69 L249.66 677 L250.18 677.3 L250.69 677.6 L251.21 677.88 L251.73 678.16 L252.25 678.42 L252.77 678.68 L253.29 678.92 L253.81 679.16 L254.33 679.38 L254.85 679.59 L255.37 679.8 L255.89 679.99 L256.41 680.17 L256.93 680.35 L257.45 680.51 L257.97 680.66 L258.48 680.81 L259 680.94 L259.52 681.07 L260.04 681.19 L260.56 681.31 L261.08 681.41 L261.6 681.51 L262.12 681.6 L262.64 681.68 L263.16 681.76 L263.68 681.84 L264.2 681.9 L264.72 681.97 L265.24 682.03 L265.75 682.08 L266.27 682.13 L266.79 682.18 L267.31 682.22 L267.83 682.26 L268.35 682.29 L268.87 682.33 L269.39 682.36 L269.91 682.39 L270.43 682.41 L270.95 682.44 L271.47 682.46 L271.99 682.48 L272.51 682.5 L273.02 682.52 L273.54 682.54 L274.06 682.55 L274.58 682.57 L275.1 682.58 L275.62 682.59 L276.14 682.61 L276.66 682.62 L277.18 682.63 L277.7 682.64 L278.22 682.65 L278.74 682.66 L279.26 682.66 L279.78 682.67 L280.29 682.68 L280.81 682.69 L281.33 682.69 L281.85 682.7 L282.37 682.71 L282.89 682.71 L283.41 682.72 L283.93 682.72 L284.45 682.73 L284.97 682.74 L285.49 682.74 L286.01 682.75 L286.53 682.75 L287.05 682.75 L287.56 682.76 L288.08 682.76 L288.6 682.77 L289.12 682.77 L289.64 682.78 L290.16 682.78 L290.68 682.78 L291.2 682.79 L291.72 682.79 L292.24 682.79 L292.76 682.8 L293.28 682.8 L293.8 682.8 L294.32 682.81 L294.83 682.81 L295.35 682.81 L295.87 682.82 L296.39 682.82 L296.91 682.82 L297.43 682.82 L297.95 682.83 L298.47 682.83 L298.99 682.83 L299.51 682.83 L300.03 682.84 L300.55 682.84 L301.07 682.84 L301.59 682.84 L302.11 682.85 L302.62 682.85 L303.14 682.85 L303.66 682.85 L304.18 682.85 L304.7 682.86 L305.22 682.86 L305.74 682.86 L306.26 682.86 L306.78 682.86 L307.3 682.87 L307.82 682.87 L308.34 682.87 L308.86 682.87 L309.38 682.87 L309.89 682.87 L310.41 682.88 L310.93 682.88 L311.45 682.88 L311.97 682.88 L312.49 682.88 L313.01 682.88 L313.53 682.89 L314.05 682.89 L314.57 682.89 L315.09 682.89 L315.61 682.89 L316.13 682.89 L316.65 682.89 L317.16 682.9 L317.68 682.9 L318.2 682.9 L318.72 682.9 L319.24 682.9 L319.76 682.9 L320.28 682.9 L320.8 682.9 L321.32 682.9 L321.84 682.91 L322.36 682.91 L322.88 682.91 L323.4 682.91 L323.92 682.91 L324.43 682.91 L324.95 682.91 L325.47 682.91 L325.99 682.91 L326.51 682.91 L327.03 682.92 L327.55 682.92 L328.07 682.92 L328.59 682.92 L329.11 682.92 L329.63 682.92 L330.15 682.92 L330.67 682.92 L331.19 682.92 L331.7 682.92 L332.22 682.92 L332.74 682.92 L333.26 682.93 L333.78 682.93 L334.3 682.93 L334.82 682.93 L335.34 682.93 L335.86 682.93 L336.38 682.93 L336.9 682.93 L337.42 682.93 L337.94 682.93 L338.46 682.93 L338.97 682.93 L339.49 682.93 L340.01 682.93 L340.53 682.94 L341.05 682.94 L341.57 682.94 L342.09 682.94 L342.61 682.94 L343.13 682.94 L343.65 682.94 L344.17 682.94 L344.69 682.94 L345.21 682.94 L345.73 682.94 L346.25 682.94 L346.76 682.94 L347.28 682.94 L347.8 682.94 L348.32 682.94 L348.84 682.94 L349.36 682.94 L349.88 682.94 L350.4 682.95 L350.92 682.95 L351.44 682.95 L351.96 682.95 L352.48 682.95 L353 682.95 L353.52 682.95 L354.03 682.95 L354.55 682.95 L355.07 682.95 L355.59 682.95 L356.11 682.95 L356.63 682.95 L357.15 682.95 L357.67 682.95 L358.19 682.95 L358.71 682.95 L359.23 682.95 L359.75 682.95 L360.27 682.95 L360.79 682.95 L361.3 682.95 L361.82 682.95 L362.34 682.95 L362.86 682.96 L363.38 682.96 L363.9 682.96 L364.42 682.96 L364.94 682.96 L365.46 682.96 L365.98 682.96 L366.5 682.96 L367.02 682.96 L367.54 682.96 L368.06 682.96 L368.57 682.96 L369.09 682.96 L369.61 682.96 L370.13 682.96 L370.65 682.96 L371.17 682.96 L371.69 682.96 L372.21 682.96 L372.73 682.96 L373.25 682.96 L373.77 682.96 L374.29 682.96 L374.81 682.96 L375.33 682.96 L375.84 682.96 L376.36 682.96 L376.88 682.96 L377.4 682.96 L377.92 682.96 L378.44 682.96 L378.96 682.96 L379.48 682.96 L380 682.96 L380.52 682.97 L381.04 682.97 L381.56 682.97 L382.08 682.97 L382.6 682.97 L383.11 682.97 L383.63 682.97 L384.15 682.97 L384.67 682.97 L385.19 682.97 L385.71 682.97 L386.23 682.97 L386.75 682.97 L387.27 682.97 L387.79 682.97 L388.31 682.97 L388.83 682.97 L389.35 682.97 L389.87 682.97 L390.39 682.97 L390.9 682.97 L391.42 682.97 L391.94 682.97 L392.46 682.97 L392.98 682.97 L393.5 682.97 L394.02 682.97 L394.54 682.97 L395.06 682.97 L395.58 682.97 L396.1 682.97 L396.62 682.97 L397.14 682.97 L397.66 682.97 L398.17 682.97 L398.69 682.97 L399.21 682.97 L399.73 682.97 L400.25 682.97 L400.77 682.97 L401.29 682.97 L401.81 682.97 L402.33 682.97 L402.85 682.97 L403.37 682.97 L403.89 682.97 L404.41 682.97 L404.93 682.97 L405.44 682.97 L405.96 682.97 L406.48 682.97 L407 682.97 L407.52 682.98 L408.04 682.98 L408.56 682.98 L409.08 682.98 L409.6 682.98 L410.12 682.98 L410.64 682.98 L411.16 682.98 L411.68 682.98 L412.2 682.98 L412.71 682.98 L413.23 682.98 L413.75 682.98 L414.27 682.98 L414.79 682.98 L415.31 682.98 L415.83 682.98 L416.35 682.98 L416.87 682.98 L417.39 682.98 L417.91 682.98 L418.43 682.98 L418.95 682.98 L419.47 682.98 L419.98 682.98 L420.5 682.98 L421.02 682.98 L421.54 682.98 L422.06 682.98 L422.58 682.98 L423.1 682.98 L423.62 682.98 L424.14 682.98 L424.66 682.98 L425.18 682.98 L425.7 682.98 L426.22 682.98 L426.74 682.98 L427.25 682.98 L427.77 682.98 L428.29 682.98 L428.81 682.98 L429.33 682.98 L429.85 682.98 L430.37 682.98 L430.89 682.98 L431.41 682.98 L431.93 682.98 L432.45 682.98 L432.97 682.98 L433.49 682.98 L434.01 682.98 L434.53 682.98 L435.04 682.98 L435.56 682.98 L436.08 682.98 L436.6 682.98 L437.12 682.98 L437.64 682.98 L438.16 682.98 L438.68 682.98 L439.2 682.98 L439.72 682.98 L440.24 682.98 L440.76 682.98 L441.28 682.98 L441.8 682.98 L442.31 682.98 L442.83 682.98 L443.35 682.98 L443.87 682.98 L444.39 682.98 L444.91 682.98 L445.43 682.98 L445.95 682.98 L446.47 682.98 L446.99 682.98 L447.51 682.98 L448.03 682.98 L448.55 682.98 L449.07 682.98 L449.58 682.98 L450.1 682.98 L450.62 682.98 L451.14 682.98 L451.66 682.98 L452.18 682.98 L452.7 682.98 L453.22 682.98 L453.74 682.98 L454.26 682.98 L454.78 682.98 L455.3 682.98 L455.82 682.98 L456.34 682.98 L456.85 682.98 L457.37 682.98 L457.89 682.98 L458.41 682.99 L458.93 682.99 L459.45 682.99 L459.97 682.99 L460.49 682.99 L461.01 682.99 L461.53 682.99 L462.05 682.99 L462.57 682.99 L463.09 682.99 L463.61 682.99 L464.12 682.99 L464.64 682.99 L465.16 682.99 L465.68 682.99 L466.2 682.99 L466.72 682.99 L467.24 682.99 L467.76 682.99 L468.28 682.99 L468.8 682.99 L469.32 682.99 L469.84 682.99 L470.36 682.99 L470.88 682.99 L471.39 682.99 L471.91 682.99 L472.43 682.99 L472.95 682.99 L473.47 682.99 L473.99 682.99 L474.51 682.99 L475.03 682.99 L475.55 682.99 L476.07 682.99 L476.59 682.99 L477.11 682.99 L477.63 682.99 L478.15 682.99 L478.66 682.99 L479.18 682.99 L479.7 682.99 L480.22 682.99 L480.74 682.99 L481.26 682.99 L481.78 682.99 L482.3 682.99 L482.82 682.99 L483.34 682.99 L483.86 682.99 L484.38 682.99 L484.9 682.99 L485.42 682.99 L485.42 683 Z" fill="#f76fdc"/>
<line x1="139.4" y1="471.6" x2="139.4" y2="688.3" stroke="#000" stroke-width="1.1" stroke-dasharray="4 3.4"/>
<path d="M70.5 681.23 L72.98 681.1 L77.39 680.87 L81.8 680.64 L86.21 680.42 L90.62 680.16 L95.03 679.77 L99.44 679.01 L103.85 677.3 L108.26 673.6 L112.67 666.28 L117.08 653.48 L121.49 633.88 L125.9 607.88 L130.31 578.53 L134.71 551.27 L139.12 532.27 L143.53 525.76 L147.94 531.91 L152.35 546.46 L156.76 562.39 L161.17 571.24 L165.58 565.1 L169.99 546.6 L174.4 522.68 L178.81 502.09 L183.22 492.59 L187.63 495.21 L192.04 506.9 L196.45 523.72 L200.86 541.07 L205.27 555.43 L209.68 565.12 L214.09 570.12 L218.5 571.27 L222.91 570.06 L227.32 568.43 L231.73 567.5 L236.14 566.59 L240.55 565.74 L244.95 565 L249.36 564.37 L253.77 563.83 L258.18 563.35 L262.59 562.89 L267 562.43 L271.41 561.99 L275.82 561.6 L280.23 561.28 L284.64 561.06 L289.05 560.96 L293.46 560.96 L297.87 561 L302.28 561.06 L306.69 561.14 L311.1 561.23 L315.51 561.41 L319.92 561.74 L324.33 562.18 L328.74 562.68 L333.15 563.2 L337.56 563.82 L341.97 564.55 L346.38 565.36 L350.79 566.25 L355.19 567.19 L359.6 568.16 L364.01 569.15 L368.42 570.13 L372.83 571.09 L377.24 572.05 L381.65 573.03 L386.06 574.04 L390.47 575.08 L394.88 576.12 L399.29 577.17 L403.7 578.22 L408.11 579.26 L412.52 580.29 L416.93 581.29 L421.34 582.28 L425.75 583.28 L430.16 584.27 L434.57 585.25 L438.98 586.23 L443.39 587.2 L447.8 588.16 L452.21 589.11 L456.62 590.05 L461.03 590.98 L465.43 591.89 L469.84 592.79 L474.25 593.68 L478.66 594.56 L483.07 595.43 L483.9 595.59" fill="none" stroke="#fff" stroke-width="3.6" stroke-linejoin="round"/>
<path d="M70.5 681.23 L72.98 681.1 L77.39 680.87 L81.8 680.64 L86.21 680.42 L90.62 680.16 L95.03 679.77 L99.44 679.01 L103.85 677.3 L108.26 673.6 L112.67 666.28 L117.08 653.48 L121.49 633.88 L125.9 607.88 L130.31 578.53 L134.71 551.27 L139.12 532.27 L143.53 525.76 L147.94 531.91 L152.35 546.46 L156.76 562.39 L161.17 571.24 L165.58 565.1 L169.99 546.6 L174.4 522.68 L178.81 502.09 L183.22 492.59 L187.63 495.21 L192.04 506.9 L196.45 523.72 L200.86 541.07 L205.27 555.43 L209.68 565.12 L214.09 570.12 L218.5 571.27 L222.91 570.06 L227.32 568.43 L231.73 567.5 L236.14 566.59 L240.55 565.74 L244.95 565 L249.36 564.37 L253.77 563.83 L258.18 563.35 L262.59 562.89 L267 562.43 L271.41 561.99 L275.82 561.6 L280.23 561.28 L284.64 561.06 L289.05 560.96 L293.46 560.96 L297.87 561 L302.28 561.06 L306.69 561.14 L311.1 561.23 L315.51 561.41 L319.92 561.74 L324.33 562.18 L328.74 562.68 L333.15 563.2 L337.56 563.82 L341.97 564.55 L346.38 565.36 L350.79 566.25 L355.19 567.19 L359.6 568.16 L364.01 569.15 L368.42 570.13 L372.83 571.09 L377.24 572.05 L381.65 573.03 L386.06 574.04 L390.47 575.08 L394.88 576.12 L399.29 577.17 L403.7 578.22 L408.11 579.26 L412.52 580.29 L416.93 581.29 L421.34 582.28 L425.75 583.28 L430.16 584.27 L434.57 585.25 L438.98 586.23 L443.39 587.2 L447.8 588.16 L452.21 589.11 L456.62 590.05 L461.03 590.98 L465.43 591.89 L469.84 592.79 L474.25 593.68 L478.66 594.56 L483.07 595.43 L483.9 595.59" fill="none" stroke="#f5000f" stroke-width="2.2" stroke-linejoin="round"/>
<rect x="65.1" y="471.6" width="423.3" height="216.7" fill="none" stroke="#f99b40" stroke-width="1.2"/>
<text x="59.6" y="687.2" font-size="20.4" text-anchor="end" fill="#000">0.0</text><text x="59.6" y="613.5" font-size="20.4" text-anchor="end" fill="#000">0.5</text><text x="59.6" y="539.8" font-size="20.4" text-anchor="end" fill="#000">1.0</text>
<text x="139.4" y="707.5" font-size="20.4" text-anchor="middle" fill="#000">0.0</text><text x="277.2" y="707.5" font-size="20.4" text-anchor="middle" fill="#000">0.2</text><text x="415" y="707.5" font-size="20.4" text-anchor="middle" fill="#000">0.4</text>
<text x="103" y="492.2" font-size="20.75" fill="#f4727c" text-anchor="middle">Elastic</text>
<text x="103" y="516.6" font-size="20.35" fill="#f4727c" text-anchor="middle">CO</text>
<text x="198" y="492.8" font-size="20.65" fill="#a3cd74" text-anchor="start" font-weight="bold">Low-energy QCDCs</text>
<text x="286.8" y="528.2" font-size="20.6" fill="#66c070" text-anchor="start" font-weight="bold">High-energy QCDCs</text>
<text x="213.2" y="549" font-size="20.35" fill="#6f97f5" text-anchor="start">Phonon</text>
<text x="394" y="562.6" font-size="20.6" fill="#f568dc" text-anchor="start">2-Phonon</text>
<text x="296.5" y="592.5" font-size="20.35" fill="#fbaa88" text-anchor="start">Magnon</text>
<text x="386" y="613.9" font-size="20.35" fill="#fde57a" text-anchor="start">2-Magnon</text>
<line x1="109" y1="523" x2="130.2" y2="563.93" stroke="#f4727c" stroke-width="1.15"/><polygon points="133.6,570.5 127.52,564.19 131.96,561.89" fill="#f4727c"/>
<line x1="217.2" y1="497.3" x2="158.16" y2="622.31" stroke="#a3cd74" stroke-width="1.15"/><polygon points="155,629 156.33,620.34 160.85,622.47" fill="#a3cd74"/>
<line x1="223.9" y1="553.1" x2="201.25" y2="599.35" stroke="#6f97f5" stroke-width="1.15"/><polygon points="198,606 199.45,597.36 203.94,599.56" fill="#6f97f5"/>
<line x1="315.5" y1="532.5" x2="225.84" y2="652.08" stroke="#66c070" stroke-width="1.15"/><polygon points="221.4,658 224.44,649.78 228.44,652.78" fill="#66c070"/>
<line x1="414" y1="565" x2="262.58" y2="669.79" stroke="#f568dc" stroke-width="1.15"/><polygon points="256.5,674 261.98,667.16 264.83,671.28" fill="#f568dc"/>
<text x="463.2" y="496.8" font-size="27.0" fill="#000" text-anchor="start" font-weight="bold">C</text>
</g>
<text x="265.6" y="731.2" font-size="24.7" text-anchor="middle" fill="#000">Energy (meV)</text>
<text transform="translate(20,363.7) rotate(-90)" font-size="25.25" text-anchor="middle" fill="#000">Intensity (arb. units)</text>
</svg>
</body></html>
